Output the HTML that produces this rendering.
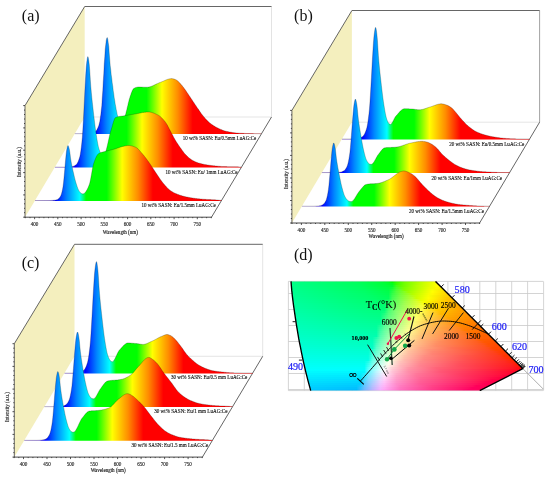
<!DOCTYPE html><html><head><meta charset="utf-8"><title>Figure</title><style>html,body{margin:0;padding:0;background:#fff}svg{display:block}.t{font-family:"Liberation Serif","Liberation Sans",serif}</style></head><body><svg width="550" height="477" viewBox="0 0 550 477"><defs><linearGradient id="ga3" gradientUnits="userSpaceOnUse" x1="74.8" y1="0" x2="261.2" y2="0"><stop offset="0.0000" stop-color="#af8cf5"/><stop offset="0.0750" stop-color="#8c64fa"/><stop offset="0.1100" stop-color="#0000ff"/><stop offset="0.1725" stop-color="#0087ff"/><stop offset="0.2400" stop-color="#00ffff"/><stop offset="0.2737" stop-color="#00ff00"/><stop offset="0.3850" stop-color="#00ff00"/><stop offset="0.4675" stop-color="#ffff00"/><stop offset="0.5525" stop-color="#ff8c00"/><stop offset="0.6325" stop-color="#ff0000"/><stop offset="1.0000" stop-color="#ff0000"/></linearGradient><linearGradient id="ga2" gradientUnits="userSpaceOnUse" x1="54.9" y1="0" x2="241.3" y2="0"><stop offset="0.0000" stop-color="#af8cf5"/><stop offset="0.0750" stop-color="#8c64fa"/><stop offset="0.1100" stop-color="#0000ff"/><stop offset="0.1725" stop-color="#0087ff"/><stop offset="0.2400" stop-color="#00ffff"/><stop offset="0.2737" stop-color="#00ff00"/><stop offset="0.3850" stop-color="#00ff00"/><stop offset="0.4675" stop-color="#ffff00"/><stop offset="0.5525" stop-color="#ff8c00"/><stop offset="0.6325" stop-color="#ff0000"/><stop offset="1.0000" stop-color="#ff0000"/></linearGradient><linearGradient id="ga1" gradientUnits="userSpaceOnUse" x1="35" y1="0" x2="221.4" y2="0"><stop offset="0.0000" stop-color="#af8cf5"/><stop offset="0.0750" stop-color="#8c64fa"/><stop offset="0.1100" stop-color="#0000ff"/><stop offset="0.1725" stop-color="#0087ff"/><stop offset="0.2400" stop-color="#00ffff"/><stop offset="0.2737" stop-color="#00ff00"/><stop offset="0.3850" stop-color="#00ff00"/><stop offset="0.4675" stop-color="#ffff00"/><stop offset="0.5525" stop-color="#ff8c00"/><stop offset="0.6325" stop-color="#ff0000"/><stop offset="1.0000" stop-color="#ff0000"/></linearGradient><linearGradient id="gb3" gradientUnits="userSpaceOnUse" x1="341.9" y1="0" x2="529.6" y2="0"><stop offset="0.0000" stop-color="#af8cf5"/><stop offset="0.0750" stop-color="#8c64fa"/><stop offset="0.1100" stop-color="#0000ff"/><stop offset="0.1725" stop-color="#0087ff"/><stop offset="0.2400" stop-color="#00ffff"/><stop offset="0.2737" stop-color="#00ff00"/><stop offset="0.3850" stop-color="#00ff00"/><stop offset="0.4675" stop-color="#ffff00"/><stop offset="0.5525" stop-color="#ff8c00"/><stop offset="0.6325" stop-color="#ff0000"/><stop offset="1.0000" stop-color="#ff0000"/></linearGradient><linearGradient id="gb2" gradientUnits="userSpaceOnUse" x1="321.9" y1="0" x2="509.6" y2="0"><stop offset="0.0000" stop-color="#af8cf5"/><stop offset="0.0750" stop-color="#8c64fa"/><stop offset="0.1100" stop-color="#0000ff"/><stop offset="0.1725" stop-color="#0087ff"/><stop offset="0.2400" stop-color="#00ffff"/><stop offset="0.2737" stop-color="#00ff00"/><stop offset="0.3850" stop-color="#00ff00"/><stop offset="0.4675" stop-color="#ffff00"/><stop offset="0.5525" stop-color="#ff8c00"/><stop offset="0.6325" stop-color="#ff0000"/><stop offset="1.0000" stop-color="#ff0000"/></linearGradient><linearGradient id="gb1" gradientUnits="userSpaceOnUse" x1="301.9" y1="0" x2="489.6" y2="0"><stop offset="0.0000" stop-color="#af8cf5"/><stop offset="0.0750" stop-color="#8c64fa"/><stop offset="0.1100" stop-color="#0000ff"/><stop offset="0.1725" stop-color="#0087ff"/><stop offset="0.2400" stop-color="#00ffff"/><stop offset="0.2737" stop-color="#00ff00"/><stop offset="0.3850" stop-color="#00ff00"/><stop offset="0.4675" stop-color="#ffff00"/><stop offset="0.5525" stop-color="#ff8c00"/><stop offset="0.6325" stop-color="#ff0000"/><stop offset="1.0000" stop-color="#ff0000"/></linearGradient><linearGradient id="gc3" gradientUnits="userSpaceOnUse" x1="64.5" y1="0" x2="252.6" y2="0"><stop offset="0.0000" stop-color="#af8cf5"/><stop offset="0.0750" stop-color="#8c64fa"/><stop offset="0.1100" stop-color="#0000ff"/><stop offset="0.1725" stop-color="#0087ff"/><stop offset="0.2400" stop-color="#00ffff"/><stop offset="0.2737" stop-color="#00ff00"/><stop offset="0.3850" stop-color="#00ff00"/><stop offset="0.4675" stop-color="#ffff00"/><stop offset="0.5525" stop-color="#ff8c00"/><stop offset="0.6325" stop-color="#ff0000"/><stop offset="1.0000" stop-color="#ff0000"/></linearGradient><linearGradient id="gc2" gradientUnits="userSpaceOnUse" x1="44.4" y1="0" x2="232.5" y2="0"><stop offset="0.0000" stop-color="#af8cf5"/><stop offset="0.0750" stop-color="#8c64fa"/><stop offset="0.1100" stop-color="#0000ff"/><stop offset="0.1725" stop-color="#0087ff"/><stop offset="0.2400" stop-color="#00ffff"/><stop offset="0.2737" stop-color="#00ff00"/><stop offset="0.3850" stop-color="#00ff00"/><stop offset="0.4675" stop-color="#ffff00"/><stop offset="0.5525" stop-color="#ff8c00"/><stop offset="0.6325" stop-color="#ff0000"/><stop offset="1.0000" stop-color="#ff0000"/></linearGradient><linearGradient id="gc1" gradientUnits="userSpaceOnUse" x1="24.3" y1="0" x2="212.4" y2="0"><stop offset="0.0000" stop-color="#af8cf5"/><stop offset="0.0750" stop-color="#8c64fa"/><stop offset="0.1100" stop-color="#0000ff"/><stop offset="0.1725" stop-color="#0087ff"/><stop offset="0.2400" stop-color="#00ffff"/><stop offset="0.2737" stop-color="#00ff00"/><stop offset="0.3850" stop-color="#00ff00"/><stop offset="0.4675" stop-color="#ffff00"/><stop offset="0.5525" stop-color="#ff8c00"/><stop offset="0.6325" stop-color="#ff0000"/><stop offset="1.0000" stop-color="#ff0000"/></linearGradient><clipPath id="gam"><path d="M291 281.4L291.4 286.1L291.8 290.9L292.3 295.6L292.9 300.4L293.5 305.1L294.2 309.9L294.9 314.6L295.6 319.4L296.3 324.1L297.1 328.9L297.9 333.6L298.7 338.4L299.6 343.1L300.6 347.9L301.5 352.6L302.5 357.4L303.5 362.1L304.6 366.9L305.7 371.6L306.9 376.4L308.1 381.1L309.4 385.9L310.7 390.6L479.8 390.6L522.8 368.6L522.4 368.2L521.9 367.7L521.3 367.1L520.7 366.6L520 365.8L519 364.9L517.8 363.6L516.2 362L514.2 360.1L511.9 357.7L509 354.8L505.4 351.2L500.8 346.6L495.2 341.1L488.4 334.3L480.7 326.6L471.9 317.8L462.2 308.1L451.9 297.8L441.1 287L435.5 281.4Z"/></clipPath><clipPath id="box"><rect x="287.4" y="280.9" width="256.9" height="110.2"/></clipPath><linearGradient id="c0" gradientUnits="userSpaceOnUse" x1="288.4" y1="0" x2="544.4" y2="0"><stop offset="0.000" stop-color="#00ff86"/><stop offset="0.266" stop-color="#00ff5c"/><stop offset="0.359" stop-color="#00ff3b"/><stop offset="0.391" stop-color="#00ff24"/><stop offset="0.406" stop-color="#00ff00"/><stop offset="0.422" stop-color="#30ff00"/><stop offset="0.453" stop-color="#6eff00"/><stop offset="0.531" stop-color="#cbff00"/><stop offset="0.578" stop-color="#f7ff00"/><stop offset="0.609" stop-color="#ffec00"/><stop offset="0.719" stop-color="#ffb100"/><stop offset="0.922" stop-color="#ff7800"/><stop offset="1.000" stop-color="#ff6a00"/></linearGradient><linearGradient id="c1" gradientUnits="userSpaceOnUse" x1="288.4" y1="0" x2="544.4" y2="0"><stop offset="0.000" stop-color="#00ff89"/><stop offset="0.281" stop-color="#00ff5c"/><stop offset="0.375" stop-color="#00ff39"/><stop offset="0.406" stop-color="#00ff1f"/><stop offset="0.422" stop-color="#38ff00"/><stop offset="0.453" stop-color="#72ff00"/><stop offset="0.531" stop-color="#cfff00"/><stop offset="0.578" stop-color="#fcff00"/><stop offset="0.688" stop-color="#ffbb00"/><stop offset="0.859" stop-color="#ff8400"/><stop offset="1.000" stop-color="#ff6800"/></linearGradient><linearGradient id="c2" gradientUnits="userSpaceOnUse" x1="288.4" y1="0" x2="544.4" y2="0"><stop offset="0.000" stop-color="#00ff8b"/><stop offset="0.281" stop-color="#00ff5f"/><stop offset="0.391" stop-color="#00ff37"/><stop offset="0.406" stop-color="#00ff2c"/><stop offset="0.422" stop-color="#3fff19"/><stop offset="0.438" stop-color="#5eff00"/><stop offset="0.500" stop-color="#b2ff00"/><stop offset="0.578" stop-color="#fffe00"/><stop offset="0.672" stop-color="#ffc000"/><stop offset="0.828" stop-color="#ff8900"/><stop offset="1.000" stop-color="#ff6700"/></linearGradient><linearGradient id="c3" gradientUnits="userSpaceOnUse" x1="288.4" y1="0" x2="544.4" y2="0"><stop offset="0.000" stop-color="#00ff8d"/><stop offset="0.281" stop-color="#00ff63"/><stop offset="0.391" stop-color="#00ff3f"/><stop offset="0.406" stop-color="#10ff36"/><stop offset="0.422" stop-color="#45ff29"/><stop offset="0.453" stop-color="#7cff00"/><stop offset="0.547" stop-color="#e7ff00"/><stop offset="0.578" stop-color="#fff900"/><stop offset="0.672" stop-color="#ffbd00"/><stop offset="0.844" stop-color="#ff8400"/><stop offset="1.000" stop-color="#ff6500"/></linearGradient><linearGradient id="c4" gradientUnits="userSpaceOnUse" x1="288.4" y1="0" x2="544.4" y2="0"><stop offset="0.000" stop-color="#00ff90"/><stop offset="0.297" stop-color="#00ff63"/><stop offset="0.391" stop-color="#00ff45"/><stop offset="0.406" stop-color="#1eff3d"/><stop offset="0.422" stop-color="#4bff33"/><stop offset="0.438" stop-color="#68ff26"/><stop offset="0.453" stop-color="#80ff00"/><stop offset="0.547" stop-color="#ebff00"/><stop offset="0.562" stop-color="#fbff00"/><stop offset="0.672" stop-color="#ffba00"/><stop offset="0.844" stop-color="#ff8200"/><stop offset="1.000" stop-color="#ff6300"/></linearGradient><linearGradient id="c5" gradientUnits="userSpaceOnUse" x1="288.4" y1="0" x2="544.4" y2="0"><stop offset="0.000" stop-color="#00ff92"/><stop offset="0.297" stop-color="#00ff67"/><stop offset="0.391" stop-color="#00ff4b"/><stop offset="0.422" stop-color="#51ff3c"/><stop offset="0.453" stop-color="#85ff21"/><stop offset="0.469" stop-color="#9aff00"/><stop offset="0.562" stop-color="#ffff00"/><stop offset="0.641" stop-color="#ffc600"/><stop offset="0.781" stop-color="#ff9000"/><stop offset="1.000" stop-color="#ff6100"/></linearGradient><linearGradient id="c6" gradientUnits="userSpaceOnUse" x1="288.4" y1="0" x2="544.4" y2="0"><stop offset="0.000" stop-color="#00ff94"/><stop offset="0.297" stop-color="#00ff6b"/><stop offset="0.391" stop-color="#00ff50"/><stop offset="0.406" stop-color="#32ff4a"/><stop offset="0.438" stop-color="#72ff3a"/><stop offset="0.469" stop-color="#9eff1b"/><stop offset="0.484" stop-color="#b1ff00"/><stop offset="0.547" stop-color="#f5ff00"/><stop offset="0.562" stop-color="#fffa00"/><stop offset="0.641" stop-color="#ffc300"/><stop offset="0.797" stop-color="#ff8900"/><stop offset="1.000" stop-color="#ff6000"/></linearGradient><linearGradient id="c7" gradientUnits="userSpaceOnUse" x1="288.4" y1="0" x2="544.4" y2="0"><stop offset="0.000" stop-color="#00ff96"/><stop offset="0.312" stop-color="#00ff6b"/><stop offset="0.391" stop-color="#00ff55"/><stop offset="0.406" stop-color="#3aff50"/><stop offset="0.438" stop-color="#77ff41"/><stop offset="0.469" stop-color="#a3ff2b"/><stop offset="0.500" stop-color="#c8ff00"/><stop offset="0.547" stop-color="#f9ff00"/><stop offset="0.656" stop-color="#ffb800"/><stop offset="0.828" stop-color="#ff7f00"/><stop offset="1.000" stop-color="#ff5e00"/></linearGradient><linearGradient id="c8" gradientUnits="userSpaceOnUse" x1="288.4" y1="0" x2="544.4" y2="0"><stop offset="0.000" stop-color="#00ff99"/><stop offset="0.312" stop-color="#00ff6e"/><stop offset="0.391" stop-color="#00ff5a"/><stop offset="0.406" stop-color="#41ff55"/><stop offset="0.438" stop-color="#7cff48"/><stop offset="0.484" stop-color="#baff28"/><stop offset="0.500" stop-color="#ccff00"/><stop offset="0.547" stop-color="#feff00"/><stop offset="0.625" stop-color="#ffc500"/><stop offset="0.766" stop-color="#ff8d00"/><stop offset="1.000" stop-color="#ff5c00"/></linearGradient><linearGradient id="c9" gradientUnits="userSpaceOnUse" x1="288.4" y1="0" x2="544.4" y2="0"><stop offset="0.000" stop-color="#00ff9b"/><stop offset="0.312" stop-color="#00ff72"/><stop offset="0.375" stop-color="#00ff63"/><stop offset="0.391" stop-color="#0eff5f"/><stop offset="0.406" stop-color="#48ff5a"/><stop offset="0.438" stop-color="#81ff4e"/><stop offset="0.484" stop-color="#bfff34"/><stop offset="0.500" stop-color="#d1ff23"/><stop offset="0.516" stop-color="#e2ff00"/><stop offset="0.547" stop-color="#fffb00"/><stop offset="0.625" stop-color="#ffc200"/><stop offset="0.766" stop-color="#ff8b00"/><stop offset="1.000" stop-color="#ff5a00"/></linearGradient><linearGradient id="c10" gradientUnits="userSpaceOnUse" x1="288.4" y1="0" x2="544.4" y2="0"><stop offset="0.000" stop-color="#00ff9d"/><stop offset="0.328" stop-color="#00ff72"/><stop offset="0.375" stop-color="#00ff68"/><stop offset="0.391" stop-color="#1fff63"/><stop offset="0.406" stop-color="#4eff5f"/><stop offset="0.453" stop-color="#9cff4e"/><stop offset="0.500" stop-color="#d6ff31"/><stop offset="0.531" stop-color="#f8ff00"/><stop offset="0.578" stop-color="#ffdc00"/><stop offset="0.688" stop-color="#ffa200"/><stop offset="0.891" stop-color="#ff6b00"/><stop offset="1.000" stop-color="#ff5900"/></linearGradient><linearGradient id="c11" gradientUnits="userSpaceOnUse" x1="288.4" y1="0" x2="544.4" y2="0"><stop offset="0.000" stop-color="#00ffa0"/><stop offset="0.328" stop-color="#00ff76"/><stop offset="0.375" stop-color="#00ff6c"/><stop offset="0.406" stop-color="#55ff63"/><stop offset="0.453" stop-color="#a1ff53"/><stop offset="0.516" stop-color="#ecff2e"/><stop offset="0.531" stop-color="#fdff14"/><stop offset="0.547" stop-color="#fff200"/><stop offset="0.625" stop-color="#ffbb00"/><stop offset="0.781" stop-color="#ff8200"/><stop offset="1.000" stop-color="#ff5700"/></linearGradient><linearGradient id="c12" gradientUnits="userSpaceOnUse" x1="288.4" y1="0" x2="544.4" y2="0"><stop offset="0.000" stop-color="#00ffa2"/><stop offset="0.344" stop-color="#00ff77"/><stop offset="0.375" stop-color="#00ff70"/><stop offset="0.391" stop-color="#33ff6c"/><stop offset="0.406" stop-color="#5bff68"/><stop offset="0.453" stop-color="#a6ff59"/><stop offset="0.516" stop-color="#f1ff39"/><stop offset="0.531" stop-color="#fffc2a"/><stop offset="0.547" stop-color="#ffed00"/><stop offset="0.641" stop-color="#ffb000"/><stop offset="0.812" stop-color="#ff7800"/><stop offset="1.000" stop-color="#ff5500"/></linearGradient><linearGradient id="c13" gradientUnits="userSpaceOnUse" x1="288.4" y1="0" x2="544.4" y2="0"><stop offset="0.000" stop-color="#00ffa4"/><stop offset="0.344" stop-color="#00ff7a"/><stop offset="0.375" stop-color="#00ff74"/><stop offset="0.391" stop-color="#3cff70"/><stop offset="0.422" stop-color="#7dff68"/><stop offset="0.500" stop-color="#e5ff4b"/><stop offset="0.531" stop-color="#fff735"/><stop offset="0.547" stop-color="#ffe823"/><stop offset="0.562" stop-color="#ffdb00"/><stop offset="0.672" stop-color="#ffa000"/><stop offset="0.875" stop-color="#ff6800"/><stop offset="1.000" stop-color="#ff5300"/></linearGradient><linearGradient id="c14" gradientUnits="userSpaceOnUse" x1="288.4" y1="0" x2="544.4" y2="0"><stop offset="0.000" stop-color="#00ffa7"/><stop offset="0.344" stop-color="#00ff7e"/><stop offset="0.375" stop-color="#00ff78"/><stop offset="0.391" stop-color="#43ff74"/><stop offset="0.422" stop-color="#82ff6d"/><stop offset="0.500" stop-color="#eaff52"/><stop offset="0.516" stop-color="#fcff4a"/><stop offset="0.562" stop-color="#ffd71c"/><stop offset="0.578" stop-color="#ffcc00"/><stop offset="0.703" stop-color="#ff9200"/><stop offset="0.938" stop-color="#ff5b00"/><stop offset="1.000" stop-color="#ff5100"/></linearGradient><linearGradient id="c15" gradientUnits="userSpaceOnUse" x1="288.4" y1="0" x2="544.4" y2="0"><stop offset="0.000" stop-color="#00ffa9"/><stop offset="0.359" stop-color="#00ff7f"/><stop offset="0.375" stop-color="#0cff7c"/><stop offset="0.391" stop-color="#4bff78"/><stop offset="0.422" stop-color="#88ff71"/><stop offset="0.500" stop-color="#efff58"/><stop offset="0.516" stop-color="#fffd51"/><stop offset="0.562" stop-color="#ffd32a"/><stop offset="0.594" stop-color="#ffbf00"/><stop offset="0.734" stop-color="#ff8600"/><stop offset="1.000" stop-color="#ff4f00"/></linearGradient><linearGradient id="c16" gradientUnits="userSpaceOnUse" x1="288.4" y1="0" x2="544.4" y2="0"><stop offset="0.000" stop-color="#00ffac"/><stop offset="0.359" stop-color="#00ff83"/><stop offset="0.375" stop-color="#1fff80"/><stop offset="0.391" stop-color="#52ff7c"/><stop offset="0.438" stop-color="#a5ff72"/><stop offset="0.500" stop-color="#f4ff5e"/><stop offset="0.516" stop-color="#fff856"/><stop offset="0.578" stop-color="#ffc525"/><stop offset="0.594" stop-color="#ffbb00"/><stop offset="0.734" stop-color="#ff8300"/><stop offset="1.000" stop-color="#ff4d00"/></linearGradient><linearGradient id="c17" gradientUnits="userSpaceOnUse" x1="288.4" y1="0" x2="544.4" y2="0"><stop offset="0.000" stop-color="#00ffae"/><stop offset="0.359" stop-color="#00ff86"/><stop offset="0.391" stop-color="#58ff80"/><stop offset="0.438" stop-color="#aaff76"/><stop offset="0.500" stop-color="#faff64"/><stop offset="0.594" stop-color="#ffb81f"/><stop offset="0.609" stop-color="#ffb000"/><stop offset="0.766" stop-color="#ff7800"/><stop offset="1.000" stop-color="#ff4b00"/></linearGradient><linearGradient id="c18" gradientUnits="userSpaceOnUse" x1="288.4" y1="0" x2="544.4" y2="0"><stop offset="0.000" stop-color="#00ffb1"/><stop offset="0.359" stop-color="#00ff8a"/><stop offset="0.375" stop-color="#35ff87"/><stop offset="0.391" stop-color="#5fff84"/><stop offset="0.438" stop-color="#afff7a"/><stop offset="0.500" stop-color="#fffe69"/><stop offset="0.562" stop-color="#ffc741"/><stop offset="0.609" stop-color="#ffac19"/><stop offset="0.625" stop-color="#ffa500"/><stop offset="0.797" stop-color="#ff6e00"/><stop offset="1.000" stop-color="#ff4900"/></linearGradient><linearGradient id="c19" gradientUnits="userSpaceOnUse" x1="288.4" y1="0" x2="544.4" y2="0"><stop offset="0.000" stop-color="#00ffb3"/><stop offset="0.359" stop-color="#00ff8e"/><stop offset="0.375" stop-color="#3eff8b"/><stop offset="0.406" stop-color="#84ff85"/><stop offset="0.484" stop-color="#f3ff73"/><stop offset="0.500" stop-color="#fff96c"/><stop offset="0.562" stop-color="#ffc346"/><stop offset="0.609" stop-color="#ffa926"/><stop offset="0.641" stop-color="#ff9b00"/><stop offset="0.828" stop-color="#ff6500"/><stop offset="1.000" stop-color="#ff4700"/></linearGradient><linearGradient id="c20" gradientUnits="userSpaceOnUse" x1="288.4" y1="0" x2="544.4" y2="0"><stop offset="0.000" stop-color="#00ffb6"/><stop offset="0.359" stop-color="#00ff92"/><stop offset="0.375" stop-color="#46ff8f"/><stop offset="0.406" stop-color="#89ff8a"/><stop offset="0.484" stop-color="#f8ff78"/><stop offset="0.531" stop-color="#ffd65c"/><stop offset="0.625" stop-color="#ff9f22"/><stop offset="0.641" stop-color="#ff9800"/><stop offset="0.844" stop-color="#ff6000"/><stop offset="1.000" stop-color="#ff4500"/></linearGradient><linearGradient id="c21" gradientUnits="userSpaceOnUse" x1="288.4" y1="0" x2="544.4" y2="0"><stop offset="0.000" stop-color="#00ffb8"/><stop offset="0.344" stop-color="#00ff98"/><stop offset="0.359" stop-color="#08ff95"/><stop offset="0.375" stop-color="#4eff93"/><stop offset="0.406" stop-color="#8fff8e"/><stop offset="0.484" stop-color="#feff7d"/><stop offset="0.547" stop-color="#ffc657"/><stop offset="0.641" stop-color="#ff951d"/><stop offset="0.656" stop-color="#ff8f00"/><stop offset="0.875" stop-color="#ff5800"/><stop offset="1.000" stop-color="#ff4300"/></linearGradient><linearGradient id="c22" gradientUnits="userSpaceOnUse" x1="288.4" y1="0" x2="544.4" y2="0"><stop offset="0.000" stop-color="#00ffbb"/><stop offset="0.344" stop-color="#00ff9b"/><stop offset="0.359" stop-color="#1fff99"/><stop offset="0.375" stop-color="#56ff97"/><stop offset="0.406" stop-color="#95ff92"/><stop offset="0.469" stop-color="#f0ff86"/><stop offset="0.484" stop-color="#fffa80"/><stop offset="0.547" stop-color="#ffc25b"/><stop offset="0.641" stop-color="#ff9227"/><stop offset="0.672" stop-color="#ff8700"/><stop offset="0.906" stop-color="#ff5000"/><stop offset="1.000" stop-color="#ff4100"/></linearGradient><linearGradient id="c23" gradientUnits="userSpaceOnUse" x1="288.4" y1="0" x2="544.4" y2="0"><stop offset="0.000" stop-color="#00ffbd"/><stop offset="0.344" stop-color="#00ff9f"/><stop offset="0.375" stop-color="#5dff9b"/><stop offset="0.422" stop-color="#b4ff93"/><stop offset="0.469" stop-color="#f6ff8a"/><stop offset="0.500" stop-color="#ffe378"/><stop offset="0.578" stop-color="#ffab4e"/><stop offset="0.656" stop-color="#ff8923"/><stop offset="0.688" stop-color="#ff7f00"/><stop offset="0.953" stop-color="#ff4600"/><stop offset="1.000" stop-color="#ff3f00"/></linearGradient><linearGradient id="c24" gradientUnits="userSpaceOnUse" x1="288.4" y1="0" x2="544.4" y2="0"><stop offset="0.000" stop-color="#00ffc0"/><stop offset="0.344" stop-color="#00ffa3"/><stop offset="0.359" stop-color="#37ffa1"/><stop offset="0.375" stop-color="#64ff9f"/><stop offset="0.422" stop-color="#baff98"/><stop offset="0.469" stop-color="#fdff8f"/><stop offset="0.531" stop-color="#ffc469"/><stop offset="0.641" stop-color="#ff8c34"/><stop offset="0.672" stop-color="#ff811f"/><stop offset="0.688" stop-color="#ff7c00"/><stop offset="0.969" stop-color="#ff4100"/><stop offset="1.000" stop-color="#ff3c00"/></linearGradient><linearGradient id="c25" gradientUnits="userSpaceOnUse" x1="288.4" y1="0" x2="544.4" y2="0"><stop offset="0.000" stop-color="#00ffc3"/><stop offset="0.344" stop-color="#00ffa7"/><stop offset="0.359" stop-color="#41ffa5"/><stop offset="0.375" stop-color="#6bffa3"/><stop offset="0.422" stop-color="#c0ff9c"/><stop offset="0.469" stop-color="#fffb92"/><stop offset="0.531" stop-color="#ffc06b"/><stop offset="0.641" stop-color="#ff8939"/><stop offset="0.688" stop-color="#ff791b"/><stop offset="0.703" stop-color="#ff7500"/><stop offset="1.000" stop-color="#ff3a00"/></linearGradient><linearGradient id="c26" gradientUnits="userSpaceOnUse" x1="288.4" y1="0" x2="544.4" y2="0"><stop offset="0.000" stop-color="#00ffc5"/><stop offset="0.344" stop-color="#00ffab"/><stop offset="0.359" stop-color="#4affa9"/><stop offset="0.391" stop-color="#92ffa5"/><stop offset="0.453" stop-color="#f4ff9b"/><stop offset="0.469" stop-color="#fff594"/><stop offset="0.531" stop-color="#ffbb6e"/><stop offset="0.641" stop-color="#ff863d"/><stop offset="0.703" stop-color="#ff7217"/><stop offset="0.719" stop-color="#ff6e00"/><stop offset="1.000" stop-color="#ff3800"/></linearGradient><linearGradient id="c27" gradientUnits="userSpaceOnUse" x1="288.4" y1="0" x2="544.4" y2="0"><stop offset="0.000" stop-color="#00ffc8"/><stop offset="0.344" stop-color="#00ffaf"/><stop offset="0.359" stop-color="#53ffad"/><stop offset="0.391" stop-color="#98ffa9"/><stop offset="0.453" stop-color="#fbffa0"/><stop offset="0.516" stop-color="#ffc278"/><stop offset="0.625" stop-color="#ff8947"/><stop offset="0.703" stop-color="#ff7021"/><stop offset="0.734" stop-color="#ff6700"/><stop offset="1.000" stop-color="#ff3500"/></linearGradient><linearGradient id="c28" gradientUnits="userSpaceOnUse" x1="288.4" y1="0" x2="544.4" y2="0"><stop offset="0.000" stop-color="#00ffcb"/><stop offset="0.328" stop-color="#00ffb4"/><stop offset="0.344" stop-color="#1fffb3"/><stop offset="0.359" stop-color="#5bffb1"/><stop offset="0.391" stop-color="#9fffad"/><stop offset="0.453" stop-color="#fffca3"/><stop offset="0.516" stop-color="#ffbe7a"/><stop offset="0.625" stop-color="#ff864b"/><stop offset="0.719" stop-color="#ff691e"/><stop offset="0.734" stop-color="#ff6504"/><stop offset="1.000" stop-color="#ff3300"/></linearGradient><linearGradient id="c29" gradientUnits="userSpaceOnUse" x1="288.4" y1="0" x2="544.4" y2="0"><stop offset="0.000" stop-color="#00ffce"/><stop offset="0.328" stop-color="#00ffb8"/><stop offset="0.359" stop-color="#63ffb5"/><stop offset="0.391" stop-color="#a6ffb1"/><stop offset="0.438" stop-color="#f2ffab"/><stop offset="0.453" stop-color="#fff6a4"/><stop offset="0.516" stop-color="#ffb97c"/><stop offset="0.625" stop-color="#ff824e"/><stop offset="0.719" stop-color="#ff6625"/><stop offset="0.734" stop-color="#ff621a"/><stop offset="0.750" stop-color="#ff5e00"/><stop offset="1.000" stop-color="#ff3000"/></linearGradient><linearGradient id="c30" gradientUnits="userSpaceOnUse" x1="288.4" y1="0" x2="544.4" y2="0"><stop offset="0.000" stop-color="#00ffd1"/><stop offset="0.328" stop-color="#00ffbc"/><stop offset="0.359" stop-color="#6bffb9"/><stop offset="0.406" stop-color="#c8ffb4"/><stop offset="0.438" stop-color="#f9ffb0"/><stop offset="0.500" stop-color="#ffc086"/><stop offset="0.594" stop-color="#ff8b5c"/><stop offset="0.734" stop-color="#ff5f22"/><stop offset="0.766" stop-color="#ff5800"/><stop offset="1.000" stop-color="#ff2e00"/></linearGradient><linearGradient id="c31" gradientUnits="userSpaceOnUse" x1="288.4" y1="0" x2="544.4" y2="0"><stop offset="0.000" stop-color="#00ffd3"/><stop offset="0.328" stop-color="#00ffc0"/><stop offset="0.344" stop-color="#44ffbf"/><stop offset="0.359" stop-color="#72ffbd"/><stop offset="0.406" stop-color="#cfffb9"/><stop offset="0.438" stop-color="#fffeb4"/><stop offset="0.484" stop-color="#ffc891"/><stop offset="0.578" stop-color="#ff8f64"/><stop offset="0.750" stop-color="#ff591f"/><stop offset="0.781" stop-color="#ff5200"/><stop offset="1.000" stop-color="#ff2b00"/></linearGradient><linearGradient id="c32" gradientUnits="userSpaceOnUse" x1="288.4" y1="0" x2="544.4" y2="0"><stop offset="0.000" stop-color="#00ffd6"/><stop offset="0.328" stop-color="#00ffc4"/><stop offset="0.344" stop-color="#4effc3"/><stop offset="0.375" stop-color="#9cffc0"/><stop offset="0.422" stop-color="#efffbc"/><stop offset="0.438" stop-color="#fff7b5"/><stop offset="0.484" stop-color="#ffc392"/><stop offset="0.578" stop-color="#ff8b66"/><stop offset="0.750" stop-color="#ff5626"/><stop offset="0.766" stop-color="#ff531c"/><stop offset="0.781" stop-color="#ff5007"/><stop offset="0.828" stop-color="#ff4600"/><stop offset="1.000" stop-color="#ff2800"/></linearGradient><linearGradient id="c33" gradientUnits="userSpaceOnUse" x1="288.4" y1="0" x2="544.4" y2="0"><stop offset="0.000" stop-color="#00ffd9"/><stop offset="0.328" stop-color="#00ffc9"/><stop offset="0.344" stop-color="#58ffc8"/><stop offset="0.375" stop-color="#a4ffc5"/><stop offset="0.422" stop-color="#f7ffc0"/><stop offset="0.453" stop-color="#ffdca9"/><stop offset="0.516" stop-color="#ffa883"/><stop offset="0.641" stop-color="#ff7152"/><stop offset="0.766" stop-color="#ff5023"/><stop offset="0.781" stop-color="#ff4d19"/><stop offset="0.797" stop-color="#ff4a00"/><stop offset="1.000" stop-color="#ff2500"/></linearGradient><linearGradient id="c34" gradientUnits="userSpaceOnUse" x1="288.4" y1="0" x2="544.4" y2="0"><stop offset="0.000" stop-color="#00ffdd"/><stop offset="0.312" stop-color="#00ffce"/><stop offset="0.328" stop-color="#1fffcd"/><stop offset="0.344" stop-color="#61ffcc"/><stop offset="0.375" stop-color="#abffca"/><stop offset="0.422" stop-color="#ffffc5"/><stop offset="0.469" stop-color="#ffc69f"/><stop offset="0.547" stop-color="#ff9277"/><stop offset="0.703" stop-color="#ff5c40"/><stop offset="0.781" stop-color="#ff4a21"/><stop offset="0.812" stop-color="#ff4400"/><stop offset="1.000" stop-color="#ff2200"/></linearGradient><linearGradient id="c35" gradientUnits="userSpaceOnUse" x1="288.4" y1="0" x2="544.4" y2="0"><stop offset="0.000" stop-color="#00ffe0"/><stop offset="0.312" stop-color="#00ffd3"/><stop offset="0.328" stop-color="#30ffd2"/><stop offset="0.344" stop-color="#6affd1"/><stop offset="0.375" stop-color="#b3ffce"/><stop offset="0.406" stop-color="#ecffcc"/><stop offset="0.422" stop-color="#fff8c6"/><stop offset="0.469" stop-color="#ffc1a0"/><stop offset="0.562" stop-color="#ff8772"/><stop offset="0.750" stop-color="#ff4e33"/><stop offset="0.797" stop-color="#ff441e"/><stop offset="0.828" stop-color="#ff3e00"/><stop offset="1.000" stop-color="#ff1e00"/></linearGradient><linearGradient id="c36" gradientUnits="userSpaceOnUse" x1="288.4" y1="0" x2="544.4" y2="0"><stop offset="0.000" stop-color="#00ffe3"/><stop offset="0.312" stop-color="#00ffd7"/><stop offset="0.344" stop-color="#72ffd5"/><stop offset="0.391" stop-color="#d8ffd2"/><stop offset="0.406" stop-color="#f4ffd1"/><stop offset="0.422" stop-color="#fff0c6"/><stop offset="0.469" stop-color="#ffbca1"/><stop offset="0.562" stop-color="#ff8374"/><stop offset="0.750" stop-color="#ff4b37"/><stop offset="0.812" stop-color="#ff3e1b"/><stop offset="0.828" stop-color="#ff3b08"/><stop offset="0.859" stop-color="#ff3500"/><stop offset="1.000" stop-color="#ff1a00"/></linearGradient><linearGradient id="c37" gradientUnits="userSpaceOnUse" x1="288.4" y1="0" x2="544.4" y2="0"><stop offset="0.000" stop-color="#00ffe6"/><stop offset="0.312" stop-color="#00ffdc"/><stop offset="0.328" stop-color="#49ffdb"/><stop offset="0.344" stop-color="#7bffda"/><stop offset="0.391" stop-color="#e0ffd7"/><stop offset="0.406" stop-color="#fcffd6"/><stop offset="0.453" stop-color="#ffc4ac"/><stop offset="0.531" stop-color="#ff8e82"/><stop offset="0.688" stop-color="#ff574d"/><stop offset="0.812" stop-color="#ff3b22"/><stop offset="0.828" stop-color="#ff3818"/><stop offset="0.844" stop-color="#ff3500"/><stop offset="1.000" stop-color="#ff1500"/></linearGradient><linearGradient id="c38" gradientUnits="userSpaceOnUse" x1="288.4" y1="0" x2="544.4" y2="0"><stop offset="0.000" stop-color="#00ffe9"/><stop offset="0.312" stop-color="#00ffe0"/><stop offset="0.328" stop-color="#54ffe0"/><stop offset="0.344" stop-color="#84ffdf"/><stop offset="0.391" stop-color="#e9ffdd"/><stop offset="0.406" stop-color="#fff9d8"/><stop offset="0.453" stop-color="#ffbfad"/><stop offset="0.531" stop-color="#ff8a83"/><stop offset="0.688" stop-color="#ff544f"/><stop offset="0.828" stop-color="#ff351f"/><stop offset="0.859" stop-color="#ff2f00"/><stop offset="1.000" stop-color="#ff1000"/></linearGradient><linearGradient id="c39" gradientUnits="userSpaceOnUse" x1="288.4" y1="0" x2="544.4" y2="0"><stop offset="0.000" stop-color="#00ffed"/><stop offset="0.312" stop-color="#00ffe5"/><stop offset="0.328" stop-color="#5effe5"/><stop offset="0.359" stop-color="#b2ffe3"/><stop offset="0.391" stop-color="#f1ffe2"/><stop offset="0.406" stop-color="#fff1d8"/><stop offset="0.453" stop-color="#ffb9ae"/><stop offset="0.531" stop-color="#ff8684"/><stop offset="0.703" stop-color="#ff4d4d"/><stop offset="0.844" stop-color="#ff2f1d"/><stop offset="0.875" stop-color="#ff2800"/><stop offset="1.000" stop-color="#ff0800"/></linearGradient><linearGradient id="c40" gradientUnits="userSpaceOnUse" x1="288.4" y1="0" x2="544.4" y2="0"><stop offset="0.000" stop-color="#00fff0"/><stop offset="0.297" stop-color="#00ffeb"/><stop offset="0.312" stop-color="#20ffea"/><stop offset="0.328" stop-color="#68ffea"/><stop offset="0.359" stop-color="#baffe9"/><stop offset="0.391" stop-color="#faffe8"/><stop offset="0.438" stop-color="#ffc2ba"/><stop offset="0.516" stop-color="#ff8a8c"/><stop offset="0.672" stop-color="#ff5258"/><stop offset="0.844" stop-color="#ff2b23"/><stop offset="0.891" stop-color="#ff2100"/><stop offset="1.000" stop-color="#ff0000"/></linearGradient><linearGradient id="c41" gradientUnits="userSpaceOnUse" x1="288.4" y1="0" x2="544.4" y2="0"><stop offset="0.000" stop-color="#00fff4"/><stop offset="0.297" stop-color="#00fff0"/><stop offset="0.312" stop-color="#32ffef"/><stop offset="0.328" stop-color="#72ffef"/><stop offset="0.359" stop-color="#c3ffee"/><stop offset="0.391" stop-color="#fffbeb"/><stop offset="0.438" stop-color="#ffbcbb"/><stop offset="0.516" stop-color="#ff858e"/><stop offset="0.672" stop-color="#ff4e59"/><stop offset="0.859" stop-color="#ff2420"/><stop offset="0.875" stop-color="#ff2117"/><stop offset="0.891" stop-color="#ff1d00"/><stop offset="0.984" stop-color="#ff0000"/><stop offset="1.000" stop-color="#ff0000"/></linearGradient><linearGradient id="c42" gradientUnits="userSpaceOnUse" x1="288.4" y1="0" x2="544.4" y2="0"><stop offset="0.000" stop-color="#00fff7"/><stop offset="0.297" stop-color="#00fff5"/><stop offset="0.328" stop-color="#7cfff5"/><stop offset="0.359" stop-color="#ccfff4"/><stop offset="0.375" stop-color="#eefff4"/><stop offset="0.391" stop-color="#fff2ea"/><stop offset="0.438" stop-color="#ffb6bb"/><stop offset="0.516" stop-color="#ff818f"/><stop offset="0.672" stop-color="#ff4b5b"/><stop offset="0.875" stop-color="#ff1c1e"/><stop offset="0.906" stop-color="#ff1400"/><stop offset="0.969" stop-color="#ff0000"/><stop offset="1.000" stop-color="#ff0000"/></linearGradient><linearGradient id="c43" gradientUnits="userSpaceOnUse" x1="288.4" y1="0" x2="544.4" y2="0"><stop offset="0.000" stop-color="#00fffb"/><stop offset="0.297" stop-color="#00fffa"/><stop offset="0.312" stop-color="#4ffffa"/><stop offset="0.328" stop-color="#86fffa"/><stop offset="0.375" stop-color="#f7fffa"/><stop offset="0.406" stop-color="#ffd2d7"/><stop offset="0.469" stop-color="#ff97a7"/><stop offset="0.578" stop-color="#ff6378"/><stop offset="0.875" stop-color="#ff1723"/><stop offset="0.922" stop-color="#ff0300"/><stop offset="1.000" stop-color="#ff0000"/></linearGradient><linearGradient id="c44" gradientUnits="userSpaceOnUse" x1="288.4" y1="0" x2="544.4" y2="0"><stop offset="0.000" stop-color="#00ffff"/><stop offset="0.297" stop-color="#00feff"/><stop offset="0.312" stop-color="#5afdff"/><stop offset="0.328" stop-color="#8ffdff"/><stop offset="0.375" stop-color="#fffdff"/><stop offset="0.406" stop-color="#ffcad7"/><stop offset="0.469" stop-color="#ff92a8"/><stop offset="0.594" stop-color="#ff5a75"/><stop offset="0.891" stop-color="#ff0a21"/><stop offset="0.906" stop-color="#ff0019"/><stop offset="0.938" stop-color="#ff0000"/><stop offset="1.000" stop-color="#ff0000"/></linearGradient><linearGradient id="c45" gradientUnits="userSpaceOnUse" x1="288.4" y1="0" x2="544.4" y2="0"><stop offset="0.000" stop-color="#00faff"/><stop offset="0.297" stop-color="#00f6ff"/><stop offset="0.312" stop-color="#63f6ff"/><stop offset="0.344" stop-color="#bdf5ff"/><stop offset="0.375" stop-color="#fff3fd"/><stop offset="0.406" stop-color="#ffc3d7"/><stop offset="0.469" stop-color="#ff8da9"/><stop offset="0.594" stop-color="#ff5676"/><stop offset="0.875" stop-color="#ff072b"/><stop offset="0.922" stop-color="#ff0016"/><stop offset="0.938" stop-color="#ff0000"/><stop offset="1.000" stop-color="#ff0000"/></linearGradient><linearGradient id="c46" gradientUnits="userSpaceOnUse" x1="288.4" y1="0" x2="544.4" y2="0"><stop offset="0.000" stop-color="#00f5ff"/><stop offset="0.281" stop-color="#00efff"/><stop offset="0.297" stop-color="#1eefff"/><stop offset="0.312" stop-color="#6befff"/><stop offset="0.344" stop-color="#c0edff"/><stop offset="0.375" stop-color="#ffe9fc"/><stop offset="0.422" stop-color="#ffacc9"/><stop offset="0.500" stop-color="#ff779a"/><stop offset="0.672" stop-color="#ff3c61"/><stop offset="0.844" stop-color="#ff0d37"/><stop offset="0.875" stop-color="#ff002f"/><stop offset="0.938" stop-color="#ff0013"/><stop offset="0.953" stop-color="#ff0000"/><stop offset="1.000" stop-color="#ff0000"/></linearGradient><linearGradient id="c47" gradientUnits="userSpaceOnUse" x1="288.4" y1="0" x2="544.4" y2="0"><stop offset="0.000" stop-color="#00f0ff"/><stop offset="0.281" stop-color="#00e8ff"/><stop offset="0.297" stop-color="#31e8ff"/><stop offset="0.312" stop-color="#72e7ff"/><stop offset="0.344" stop-color="#c3e6ff"/><stop offset="0.375" stop-color="#ffe0fb"/><stop offset="0.422" stop-color="#ffa5c9"/><stop offset="0.500" stop-color="#ff739b"/><stop offset="0.688" stop-color="#ff345f"/><stop offset="0.828" stop-color="#ff0b3e"/><stop offset="0.844" stop-color="#ff003a"/><stop offset="0.938" stop-color="#ff001b"/><stop offset="0.969" stop-color="#ff0000"/><stop offset="1.000" stop-color="#ff0000"/></linearGradient><linearGradient id="c48" gradientUnits="userSpaceOnUse" x1="288.4" y1="0" x2="544.4" y2="0"><stop offset="0.000" stop-color="#00ebff"/><stop offset="0.281" stop-color="#00e2ff"/><stop offset="0.312" stop-color="#79e0ff"/><stop offset="0.344" stop-color="#c7deff"/><stop offset="0.375" stop-color="#ffd6fa"/><stop offset="0.422" stop-color="#ff9fc9"/><stop offset="0.516" stop-color="#ff6795"/><stop offset="0.734" stop-color="#ff2455"/><stop offset="0.828" stop-color="#ff0040"/><stop offset="0.953" stop-color="#ff0019"/><stop offset="0.984" stop-color="#ff0000"/><stop offset="1.000" stop-color="#ff0000"/></linearGradient><linearGradient id="c49" gradientUnits="userSpaceOnUse" x1="288.4" y1="0" x2="544.4" y2="0"><stop offset="0.000" stop-color="#00e7ff"/><stop offset="0.281" stop-color="#00dbff"/><stop offset="0.297" stop-color="#4adaff"/><stop offset="0.312" stop-color="#7fd9ff"/><stop offset="0.359" stop-color="#e9d5ff"/><stop offset="0.375" stop-color="#ffcdf9"/><stop offset="0.422" stop-color="#ff99c9"/><stop offset="0.516" stop-color="#ff6296"/><stop offset="0.734" stop-color="#ff1e57"/><stop offset="0.781" stop-color="#ff0d4c"/><stop offset="0.797" stop-color="#ff0049"/><stop offset="0.953" stop-color="#ff001e"/><stop offset="0.969" stop-color="#ff0016"/><stop offset="0.984" stop-color="#ff0000"/><stop offset="1.000" stop-color="#ff0000"/></linearGradient><linearGradient id="c50" gradientUnits="userSpaceOnUse" x1="288.4" y1="0" x2="544.4" y2="0"><stop offset="0.000" stop-color="#00e2ff"/><stop offset="0.281" stop-color="#00d4ff"/><stop offset="0.297" stop-color="#53d3ff"/><stop offset="0.312" stop-color="#84d2ff"/><stop offset="0.359" stop-color="#ebceff"/><stop offset="0.375" stop-color="#ffc5f8"/><stop offset="0.422" stop-color="#ff93c9"/><stop offset="0.516" stop-color="#ff5e96"/><stop offset="0.734" stop-color="#ff1858"/><stop offset="0.781" stop-color="#ff004e"/><stop offset="0.969" stop-color="#ff001c"/><stop offset="1.000" stop-color="#ff0000"/></linearGradient><linearGradient id="c51" gradientUnits="userSpaceOnUse" x1="288.4" y1="0" x2="544.4" y2="0"><stop offset="0.000" stop-color="#00ddff"/><stop offset="0.281" stop-color="#00cdff"/><stop offset="0.297" stop-color="#5bccff"/><stop offset="0.328" stop-color="#afc9ff"/><stop offset="0.359" stop-color="#edc6ff"/><stop offset="0.375" stop-color="#ffbcf7"/><stop offset="0.422" stop-color="#ff8cca"/><stop offset="0.516" stop-color="#ff5997"/><stop offset="0.734" stop-color="#ff105a"/><stop offset="0.766" stop-color="#ff0053"/><stop offset="0.969" stop-color="#ff0021"/><stop offset="1.000" stop-color="#ff000f"/></linearGradient><linearGradient id="c52" gradientUnits="userSpaceOnUse" x1="288.4" y1="0" x2="544.4" y2="0"><stop offset="0.000" stop-color="#00d8ff"/><stop offset="0.266" stop-color="#00c8ff"/><stop offset="0.281" stop-color="#19c6ff"/><stop offset="0.297" stop-color="#63c5ff"/><stop offset="0.328" stop-color="#b2c2ff"/><stop offset="0.359" stop-color="#efbeff"/><stop offset="0.375" stop-color="#ffb4f6"/><stop offset="0.438" stop-color="#ff7bbf"/><stop offset="0.562" stop-color="#ff4387"/><stop offset="0.719" stop-color="#ff0e5f"/><stop offset="0.734" stop-color="#ff005b"/><stop offset="0.984" stop-color="#ff001f"/><stop offset="1.000" stop-color="#ff0018"/></linearGradient><linearGradient id="c53" gradientUnits="userSpaceOnUse" x1="288.4" y1="0" x2="544.4" y2="0"><stop offset="0.000" stop-color="#00d4ff"/><stop offset="0.266" stop-color="#00c1ff"/><stop offset="0.281" stop-color="#2cc0ff"/><stop offset="0.297" stop-color="#6abeff"/><stop offset="0.328" stop-color="#b5baff"/><stop offset="0.359" stop-color="#f1b6ff"/><stop offset="0.375" stop-color="#ffabf5"/><stop offset="0.438" stop-color="#ff75bf"/><stop offset="0.562" stop-color="#ff3e88"/><stop offset="0.703" stop-color="#ff0b63"/><stop offset="0.719" stop-color="#ff0060"/><stop offset="1.000" stop-color="#ff001d"/></linearGradient><linearGradient id="c54" gradientUnits="userSpaceOnUse" x1="288.4" y1="0" x2="544.4" y2="0"><stop offset="0.000" stop-color="#00cfff"/><stop offset="0.266" stop-color="#00bbff"/><stop offset="0.297" stop-color="#70b7ff"/><stop offset="0.328" stop-color="#b9b3ff"/><stop offset="0.359" stop-color="#f3afff"/><stop offset="0.375" stop-color="#ffa3f4"/><stop offset="0.438" stop-color="#ff70c0"/><stop offset="0.562" stop-color="#ff3989"/><stop offset="0.672" stop-color="#ff116c"/><stop offset="0.703" stop-color="#ff0065"/><stop offset="1.000" stop-color="#ff0022"/></linearGradient></defs><path d="M84.7 117H271.5" stroke="#dadada" stroke-width=".7" fill="none"/>
<path d="M271.5 6.5V117" stroke="#dcdcdc" stroke-width=".8" fill="none"/>
<path d="M25 217.2L25 105.6L84.7 6.5L84.7 117Z" fill="#f4efbe"/>
<path d="M25 217.2V105.6L84.7 6.5H271.5" stroke="#555" stroke-width=".9" fill="none" stroke-linejoin="miter"/>
<path d="M211.5 217.2L271.5 117" stroke="#333" stroke-width=".75" fill="none"/>
<path d="M74.8 134.1L74.8 133.7L75.2 133.7L75.8 133.7L76.2 133.7L76.8 133.7L77.2 133.7L77.8 133.7L78.2 133.7L78.8 133.7L79.2 133.7L79.8 133.7L80.2 133.7L80.8 133.7L81.2 133.7L81.8 133.7L82.2 133.7L82.8 133.7L83.2 133.7L83.8 133.7L84.2 133.7L84.8 133.7L85.2 133.7L85.8 133.7L86.2 133.69L86.8 133.67L87.2 133.64L87.8 133.61L88.2 133.57L88.8 133.54L89.2 133.49L89.8 133.45L90.2 133.39L90.8 133.32L91.2 133.24L91.8 133.14L92.2 133.04L92.8 132.92L93.2 132.76L93.8 132.55L94.2 132.3L94.8 131.99L95.2 131.63L95.8 131.22L96.2 130.69L96.8 129.99L97.2 129.12L97.8 128.08L98.2 126.88L98.8 125.51L99.2 123.83L99.8 121.48L100.2 118.47L100.8 114.87L101.2 110.75L101.8 105.69L102.2 98.58L102.8 90.44L103.2 82.22L103.8 73.14L104.2 64.31L104.8 56.58L105.2 49.34L105.8 44.14L106.2 40.61L106.8 38.03L107.2 37.51L107.8 39.29L108.2 42.5L108.8 46.42L109.2 52.99L109.8 60.18L110.2 65.55L110.8 70.29L111.2 74.67L111.8 78.76L112.2 82.69L112.8 86.57L113.2 90.4L113.8 94.13L114.2 97.7L114.8 101.03L115.2 104.09L115.8 106.89L116.2 109.59L116.8 112.13L117.2 114.42L117.8 116.39L118.2 117.96L118.8 119.3L119.2 120.48L119.8 121.49L120.2 122.33L120.8 122.98L121.2 123.44L121.8 123.76L122.2 123.96L122.8 123.91L123.2 123.13L123.8 121.69L124.2 119.8L124.8 117.71L125.2 115.62L125.8 113.72L126.2 111.85L126.8 109.82L127.2 107.7L127.8 105.55L128.2 103.42L128.8 101.37L129.2 99.45L129.8 97.75L130.2 96.28L130.8 94.82L131.2 93.37L131.8 92L132.2 90.76L132.8 89.71L133.2 88.9L133.8 88.39L134.2 88.14L134.8 87.93L135.2 87.73L135.8 87.56L136.2 87.4L136.8 87.27L137.2 87.16L137.8 87.08L138.2 87.02L138.8 87L139.2 87L139.8 87.02L140.2 87.04L140.8 87.06L141.2 87.08L141.8 87.1L142.2 87.12L142.8 87.14L143.2 87.15L143.8 87.17L144.2 87.18L144.8 87.19L145.2 87.2L145.8 87.2L146.2 87.2L146.8 87.2L147.2 87.19L147.8 87.16L148.2 87.1L148.8 87.02L149.2 86.92L149.8 86.8L150.2 86.65L150.8 86.5L151.2 86.32L151.8 86.13L152.2 85.94L152.8 85.73L153.2 85.51L153.8 85.28L154.2 85.05L154.8 84.81L155.2 84.58L155.8 84.34L156.2 84.1L156.8 83.86L157.2 83.63L157.8 83.41L158.2 83.19L158.8 82.98L159.2 82.78L159.8 82.59L160.2 82.41L160.8 82.22L161.2 82.03L161.8 81.82L162.2 81.61L162.8 81.39L163.2 81.17L163.8 80.94L164.2 80.72L164.8 80.5L165.2 80.28L165.8 80.07L166.2 79.86L166.8 79.66L167.2 79.48L167.8 79.31L168.2 79.15L168.8 79.01L169.2 78.88L169.8 78.78L170.2 78.7L170.8 78.64L171.2 78.61L171.8 78.6L172.2 78.64L172.8 78.71L173.2 78.82L173.8 78.96L174.2 79.12L174.8 79.3L175.2 79.49L175.8 79.7L176.2 79.91L176.8 80.19L177.2 80.54L177.8 80.94L178.2 81.39L178.8 81.88L179.2 82.41L179.8 82.96L180.2 83.52L180.8 84.1L181.2 84.68L181.8 85.24L182.2 85.82L182.8 86.42L183.2 87.06L183.8 87.72L184.2 88.4L184.8 89.1L185.2 89.82L185.8 90.54L186.2 91.28L186.8 92.02L187.2 92.77L187.8 93.52L188.2 94.26L188.8 94.99L189.2 95.72L189.8 96.45L190.2 97.18L190.8 97.93L191.2 98.68L191.8 99.43L192.2 100.19L192.8 100.95L193.2 101.71L193.8 102.46L194.2 103.22L194.8 103.97L195.2 104.71L195.8 105.45L196.2 106.18L196.8 106.91L197.2 107.64L197.8 108.38L198.2 109.12L198.8 109.86L199.2 110.6L199.8 111.34L200.2 112.06L200.8 112.78L201.2 113.48L201.8 114.16L202.2 114.82L202.8 115.47L203.2 116.08L203.8 116.67L204.2 117.25L204.8 117.83L205.2 118.39L205.8 118.94L206.2 119.48L206.8 120.01L207.2 120.53L207.8 121.03L208.2 121.52L208.8 121.99L209.2 122.44L209.8 122.88L210.2 123.29L210.8 123.69L211.2 124.06L211.8 124.42L212.2 124.77L212.8 125.11L213.2 125.44L213.8 125.76L214.2 126.07L214.8 126.37L215.2 126.66L215.8 126.94L216.2 127.21L216.8 127.48L217.2 127.73L217.8 127.98L218.2 128.22L218.8 128.46L219.2 128.7L219.8 128.94L220.2 129.17L220.8 129.4L221.2 129.62L221.8 129.84L222.2 130.05L222.8 130.24L223.2 130.43L223.8 130.6L224.2 130.76L224.8 130.91L225.2 131.04L225.8 131.16L226.2 131.27L226.8 131.38L227.2 131.48L227.8 131.59L228.2 131.69L228.8 131.79L229.2 131.89L229.8 131.99L230.2 132.08L230.8 132.17L231.2 132.26L231.8 132.34L232.2 132.42L232.8 132.5L233.2 132.58L233.8 132.65L234.2 132.71L234.8 132.78L235.2 132.84L235.8 132.9L236.2 132.95L236.8 133L237.2 133.04L237.8 133.08L238.2 133.12L238.8 133.15L239.2 133.18L239.8 133.2L240.2 133.22L240.8 133.24L241.2 133.26L241.8 133.28L242.2 133.3L242.8 133.32L243.2 133.34L243.8 133.36L244.2 133.38L244.8 133.39L245.2 133.41L245.8 133.43L246.2 133.44L246.8 133.46L247.2 133.48L247.8 133.49L248.2 133.51L248.8 133.52L249.2 133.53L249.8 133.55L250.2 133.56L250.8 133.57L251.2 133.58L251.8 133.59L252.2 133.6L252.8 133.61L253.2 133.62L253.8 133.63L254.2 133.64L254.8 133.65L255.2 133.66L255.8 133.66L256.2 133.67L256.8 133.68L257.2 133.68L257.8 133.68L258.2 133.69L258.8 133.69L259.2 133.69L259.8 133.7L260.2 133.7L260.8 133.7L261.2 133.7L261.2 134.1Z" fill="url(#ga3)"/>
<path d="M74.8 133.7L75.2 133.7L75.8 133.7L76.2 133.7L76.8 133.7L77.2 133.7L77.8 133.7L78.2 133.7L78.8 133.7L79.2 133.7L79.8 133.7L80.2 133.7L80.8 133.7L81.2 133.7L81.8 133.7L82.2 133.7L82.8 133.7L83.2 133.7L83.8 133.7L84.2 133.7L84.8 133.7L85.2 133.7L85.8 133.7L86.2 133.69L86.8 133.67L87.2 133.64L87.8 133.61L88.2 133.57L88.8 133.54L89.2 133.49L89.8 133.45L90.2 133.39L90.8 133.32L91.2 133.24L91.8 133.14L92.2 133.04L92.8 132.92L93.2 132.76L93.8 132.55L94.2 132.3L94.8 131.99L95.2 131.63L95.8 131.22L96.2 130.69L96.8 129.99L97.2 129.12L97.8 128.08L98.2 126.88L98.8 125.51L99.2 123.83L99.8 121.48L100.2 118.47L100.8 114.87L101.2 110.75L101.8 105.69L102.2 98.58L102.8 90.44L103.2 82.22L103.8 73.14L104.2 64.31L104.8 56.58L105.2 49.34L105.8 44.14L106.2 40.61L106.8 38.03L107.2 37.51L107.8 39.29L108.2 42.5L108.8 46.42L109.2 52.99L109.8 60.18L110.2 65.55L110.8 70.29L111.2 74.67L111.8 78.76L112.2 82.69L112.8 86.57L113.2 90.4L113.8 94.13L114.2 97.7L114.8 101.03L115.2 104.09L115.8 106.89L116.2 109.59L116.8 112.13L117.2 114.42L117.8 116.39L118.2 117.96L118.8 119.3L119.2 120.48L119.8 121.49L120.2 122.33L120.8 122.98L121.2 123.44L121.8 123.76L122.2 123.96L122.8 123.91L123.2 123.13L123.8 121.69L124.2 119.8L124.8 117.71L125.2 115.62L125.8 113.72L126.2 111.85L126.8 109.82L127.2 107.7L127.8 105.55L128.2 103.42L128.8 101.37L129.2 99.45L129.8 97.75L130.2 96.28L130.8 94.82L131.2 93.37L131.8 92L132.2 90.76L132.8 89.71L133.2 88.9L133.8 88.39L134.2 88.14L134.8 87.93L135.2 87.73L135.8 87.56L136.2 87.4L136.8 87.27L137.2 87.16L137.8 87.08L138.2 87.02L138.8 87L139.2 87L139.8 87.02L140.2 87.04L140.8 87.06L141.2 87.08L141.8 87.1L142.2 87.12L142.8 87.14L143.2 87.15L143.8 87.17L144.2 87.18L144.8 87.19L145.2 87.2L145.8 87.2L146.2 87.2L146.8 87.2L147.2 87.19L147.8 87.16L148.2 87.1L148.8 87.02L149.2 86.92L149.8 86.8L150.2 86.65L150.8 86.5L151.2 86.32L151.8 86.13L152.2 85.94L152.8 85.73L153.2 85.51L153.8 85.28L154.2 85.05L154.8 84.81L155.2 84.58L155.8 84.34L156.2 84.1L156.8 83.86L157.2 83.63L157.8 83.41L158.2 83.19L158.8 82.98L159.2 82.78L159.8 82.59L160.2 82.41L160.8 82.22L161.2 82.03L161.8 81.82L162.2 81.61L162.8 81.39L163.2 81.17L163.8 80.94L164.2 80.72L164.8 80.5L165.2 80.28L165.8 80.07L166.2 79.86L166.8 79.66L167.2 79.48L167.8 79.31L168.2 79.15L168.8 79.01L169.2 78.88L169.8 78.78L170.2 78.7L170.8 78.64L171.2 78.61L171.8 78.6L172.2 78.64L172.8 78.71L173.2 78.82L173.8 78.96L174.2 79.12L174.8 79.3L175.2 79.49L175.8 79.7L176.2 79.91L176.8 80.19L177.2 80.54L177.8 80.94L178.2 81.39L178.8 81.88L179.2 82.41L179.8 82.96L180.2 83.52L180.8 84.1L181.2 84.68L181.8 85.24L182.2 85.82L182.8 86.42L183.2 87.06L183.8 87.72L184.2 88.4L184.8 89.1L185.2 89.82L185.8 90.54L186.2 91.28L186.8 92.02L187.2 92.77L187.8 93.52L188.2 94.26L188.8 94.99L189.2 95.72L189.8 96.45L190.2 97.18L190.8 97.93L191.2 98.68L191.8 99.43L192.2 100.19L192.8 100.95L193.2 101.71L193.8 102.46L194.2 103.22L194.8 103.97L195.2 104.71L195.8 105.45L196.2 106.18L196.8 106.91L197.2 107.64L197.8 108.38L198.2 109.12L198.8 109.86L199.2 110.6L199.8 111.34L200.2 112.06L200.8 112.78L201.2 113.48L201.8 114.16L202.2 114.82L202.8 115.47L203.2 116.08L203.8 116.67L204.2 117.25L204.8 117.83L205.2 118.39L205.8 118.94L206.2 119.48L206.8 120.01L207.2 120.53L207.8 121.03L208.2 121.52L208.8 121.99L209.2 122.44L209.8 122.88L210.2 123.29L210.8 123.69L211.2 124.06L211.8 124.42L212.2 124.77L212.8 125.11L213.2 125.44L213.8 125.76L214.2 126.07L214.8 126.37L215.2 126.66L215.8 126.94L216.2 127.21L216.8 127.48L217.2 127.73L217.8 127.98L218.2 128.22L218.8 128.46L219.2 128.7L219.8 128.94L220.2 129.17L220.8 129.4L221.2 129.62L221.8 129.84L222.2 130.05L222.8 130.24L223.2 130.43L223.8 130.6L224.2 130.76L224.8 130.91L225.2 131.04L225.8 131.16L226.2 131.27L226.8 131.38L227.2 131.48L227.8 131.59L228.2 131.69L228.8 131.79L229.2 131.89L229.8 131.99L230.2 132.08L230.8 132.17L231.2 132.26L231.8 132.34L232.2 132.42L232.8 132.5L233.2 132.58L233.8 132.65L234.2 132.71L234.8 132.78L235.2 132.84L235.8 132.9L236.2 132.95L236.8 133L237.2 133.04L237.8 133.08L238.2 133.12L238.8 133.15L239.2 133.18L239.8 133.2L240.2 133.22L240.8 133.24L241.2 133.26L241.8 133.28L242.2 133.3L242.8 133.32L243.2 133.34L243.8 133.36L244.2 133.38L244.8 133.39L245.2 133.41L245.8 133.43L246.2 133.44L246.8 133.46L247.2 133.48L247.8 133.49L248.2 133.51L248.8 133.52L249.2 133.53L249.8 133.55L250.2 133.56L250.8 133.57L251.2 133.58L251.8 133.59L252.2 133.6L252.8 133.61L253.2 133.62L253.8 133.63L254.2 133.64L254.8 133.65L255.2 133.66L255.8 133.66L256.2 133.67L256.8 133.68L257.2 133.68L257.8 133.68L258.2 133.69L258.8 133.69L259.2 133.69L259.8 133.7L260.2 133.7L260.8 133.7L261.2 133.7" fill="none" stroke="#000" stroke-opacity=".45" stroke-width=".5"/>
<text x="182.7" y="140.2" class="t" font-size="5.05" fill="#111" stroke="#111" stroke-width=".12" textLength="73.5" lengthAdjust="spacingAndGlyphs">10 wt% SASN: Eu/0.5mm LuAG:Ce</text>
<path d="M54.9 167.5L54.9 167.1L55.4 167.1L55.9 167.1L56.4 167.1L56.9 167.1L57.4 167.1L57.9 167.1L58.4 167.1L58.9 167.1L59.4 167.1L59.9 167.1L60.4 167.1L60.9 167.1L61.4 167.1L61.9 167.1L62.4 167.1L62.9 167.1L63.4 167.1L63.9 167.1L64.3 167.1L64.8 167.1L65.3 167.1L65.8 167.1L66.3 167.1L66.8 167.09L67.3 167.07L67.8 167.05L68.3 167.01L68.8 166.97L69.3 166.93L69.8 166.88L70.3 166.83L70.8 166.77L71.3 166.7L71.8 166.61L72.3 166.51L72.8 166.39L73.3 166.26L73.8 166.1L74.3 165.89L74.8 165.61L75.3 165.29L75.8 164.9L76.3 164.45L76.8 163.91L77.3 163.18L77.8 162.27L78.3 161.15L78.8 159.85L79.3 158.35L79.8 156.64L80.3 154.25L80.8 151.09L81.3 147.22L81.8 142.72L82.3 137.58L82.8 130.28L83.3 121.25L83.8 111.85L84.3 101.85L84.8 91.38L85.3 82.15L85.8 73.46L86.3 66.32L86.8 61.85L87.3 58.3L87.8 56.61L88.3 57.7L88.8 60.86L89.3 65L89.8 71.17L90.3 79.61L90.8 86.57L91.3 92.23L91.8 97.4L92.3 102.22L92.8 106.79L93.3 111.25L93.8 115.68L94.3 120.02L94.8 124.19L95.3 128.13L95.8 131.78L96.3 135.08L96.8 138.22L97.3 141.22L97.8 143.97L98.3 146.38L98.8 148.36L99.3 149.95L99.8 151.36L100.3 152.58L100.8 153.6L101.3 154.42L101.8 155.03L102.3 155.47L102.8 155.79L103.3 155.97L103.8 155.93L104.3 155.43L104.8 154.49L105.3 153.19L105.8 151.61L106.3 149.8L106.8 147.81L107.3 145.68L107.8 143.45L108.3 141.18L108.8 138.91L109.3 136.68L109.8 134.54L110.3 132.56L110.8 130.78L111.3 129.16L111.8 127.43L112.3 125.64L112.8 123.86L113.3 122.17L113.8 120.63L114.3 119.32L114.8 118.31L115.3 117.66L115.8 117.4L116.3 117.21L116.8 117.04L117.3 116.89L117.8 116.75L118.3 116.63L118.8 116.52L119.3 116.42L119.8 116.34L120.3 116.27L120.8 116.2L121.3 116.14L121.8 116.08L122.3 116.02L122.8 115.96L123.3 115.9L123.8 115.83L124.3 115.76L124.8 115.67L125.3 115.59L125.8 115.5L126.3 115.42L126.8 115.33L127.3 115.24L127.8 115.16L128.3 115.07L128.8 114.98L129.3 114.9L129.8 114.82L130.3 114.73L130.8 114.65L131.3 114.57L131.8 114.5L132.3 114.42L132.8 114.34L133.3 114.26L133.8 114.18L134.3 114.1L134.8 114.02L135.3 113.94L135.8 113.86L136.3 113.77L136.8 113.68L137.3 113.58L137.8 113.49L138.3 113.39L138.8 113.29L139.3 113.19L139.8 113.09L140.3 113L140.8 112.9L141.3 112.81L141.8 112.71L142.3 112.62L142.8 112.54L143.3 112.46L143.8 112.38L144.3 112.31L144.8 112.24L145.3 112.19L145.8 112.13L146.3 112.09L146.8 112.05L147.3 112.03L147.8 112.01L148.3 112L148.8 112.01L149.3 112.03L149.8 112.08L150.3 112.16L150.8 112.25L151.3 112.36L151.8 112.49L152.3 112.63L152.8 112.79L153.3 112.96L153.8 113.15L154.3 113.34L154.8 113.55L155.3 113.76L155.8 113.99L156.3 114.22L156.8 114.45L157.3 114.69L157.8 114.93L158.3 115.18L158.8 115.47L159.3 115.8L159.8 116.17L160.3 116.57L160.8 117L161.3 117.46L161.8 117.95L162.3 118.46L162.8 119L163.3 119.55L163.8 120.13L164.3 120.71L164.8 121.32L165.3 121.95L165.8 122.65L166.3 123.42L166.8 124.24L167.3 125.11L167.8 126.02L168.3 126.96L168.8 127.93L169.3 128.9L169.8 129.87L170.3 130.84L170.8 131.8L171.3 132.73L171.8 133.64L172.3 134.57L172.8 135.52L173.3 136.47L173.8 137.42L174.3 138.34L174.8 139.23L175.3 140.08L175.8 140.9L176.3 141.71L176.8 142.49L177.3 143.26L177.8 144.02L178.3 144.77L178.8 145.5L179.3 146.22L179.8 146.94L180.3 147.65L180.8 148.35L181.3 149.05L181.8 149.76L182.3 150.47L182.8 151.18L183.3 151.87L183.8 152.54L184.3 153.18L184.8 153.79L185.3 154.34L185.8 154.86L186.3 155.36L186.8 155.85L187.3 156.33L187.8 156.79L188.3 157.24L188.8 157.67L189.3 158.09L189.8 158.49L190.3 158.87L190.8 159.23L191.3 159.58L191.8 159.9L192.3 160.2L192.8 160.48L193.3 160.75L193.8 161.01L194.3 161.26L194.8 161.5L195.3 161.73L195.8 161.95L196.3 162.16L196.8 162.36L197.3 162.55L197.8 162.73L198.3 162.9L198.8 163.05L199.3 163.2L199.8 163.34L200.3 163.47L200.8 163.6L201.3 163.72L201.8 163.84L202.3 163.96L202.8 164.07L203.3 164.18L203.8 164.29L204.3 164.39L204.8 164.49L205.3 164.58L205.8 164.67L206.3 164.76L206.8 164.84L207.3 164.92L207.8 165L208.3 165.07L208.8 165.15L209.3 165.22L209.8 165.28L210.3 165.34L210.8 165.41L211.3 165.47L211.8 165.53L212.3 165.59L212.8 165.65L213.3 165.7L213.8 165.76L214.3 165.81L214.8 165.87L215.3 165.92L215.8 165.97L216.3 166.02L216.8 166.07L217.3 166.11L217.8 166.16L218.3 166.2L218.8 166.24L219.3 166.28L219.8 166.32L220.3 166.35L220.8 166.38L221.3 166.41L221.8 166.44L222.3 166.47L222.8 166.49L223.3 166.51L223.8 166.53L224.3 166.55L224.8 166.57L225.3 166.58L225.8 166.6L226.3 166.61L226.8 166.62L227.3 166.63L227.8 166.64L228.3 166.65L228.8 166.65L229.3 166.66L229.8 166.67L230.3 166.67L230.8 166.68L231.3 166.69L231.8 166.69L232.3 166.7L232.8 166.71L233.3 166.71L233.8 166.72L234.3 166.73L234.8 166.74L235.3 166.75L235.8 166.77L236.3 166.78L236.8 166.8L237.3 166.81L237.8 166.83L238.3 166.85L238.8 166.88L239.3 166.9L239.8 166.93L240.3 166.96L240.8 166.99L241.3 167.1L241.3 167.5Z" fill="url(#ga2)"/>
<path d="M54.9 167.1L55.4 167.1L55.9 167.1L56.4 167.1L56.9 167.1L57.4 167.1L57.9 167.1L58.4 167.1L58.9 167.1L59.4 167.1L59.9 167.1L60.4 167.1L60.9 167.1L61.4 167.1L61.9 167.1L62.4 167.1L62.9 167.1L63.4 167.1L63.9 167.1L64.3 167.1L64.8 167.1L65.3 167.1L65.8 167.1L66.3 167.1L66.8 167.09L67.3 167.07L67.8 167.05L68.3 167.01L68.8 166.97L69.3 166.93L69.8 166.88L70.3 166.83L70.8 166.77L71.3 166.7L71.8 166.61L72.3 166.51L72.8 166.39L73.3 166.26L73.8 166.1L74.3 165.89L74.8 165.61L75.3 165.29L75.8 164.9L76.3 164.45L76.8 163.91L77.3 163.18L77.8 162.27L78.3 161.15L78.8 159.85L79.3 158.35L79.8 156.64L80.3 154.25L80.8 151.09L81.3 147.22L81.8 142.72L82.3 137.58L82.8 130.28L83.3 121.25L83.8 111.85L84.3 101.85L84.8 91.38L85.3 82.15L85.8 73.46L86.3 66.32L86.8 61.85L87.3 58.3L87.8 56.61L88.3 57.7L88.8 60.86L89.3 65L89.8 71.17L90.3 79.61L90.8 86.57L91.3 92.23L91.8 97.4L92.3 102.22L92.8 106.79L93.3 111.25L93.8 115.68L94.3 120.02L94.8 124.19L95.3 128.13L95.8 131.78L96.3 135.08L96.8 138.22L97.3 141.22L97.8 143.97L98.3 146.38L98.8 148.36L99.3 149.95L99.8 151.36L100.3 152.58L100.8 153.6L101.3 154.42L101.8 155.03L102.3 155.47L102.8 155.79L103.3 155.97L103.8 155.93L104.3 155.43L104.8 154.49L105.3 153.19L105.8 151.61L106.3 149.8L106.8 147.81L107.3 145.68L107.8 143.45L108.3 141.18L108.8 138.91L109.3 136.68L109.8 134.54L110.3 132.56L110.8 130.78L111.3 129.16L111.8 127.43L112.3 125.64L112.8 123.86L113.3 122.17L113.8 120.63L114.3 119.32L114.8 118.31L115.3 117.66L115.8 117.4L116.3 117.21L116.8 117.04L117.3 116.89L117.8 116.75L118.3 116.63L118.8 116.52L119.3 116.42L119.8 116.34L120.3 116.27L120.8 116.2L121.3 116.14L121.8 116.08L122.3 116.02L122.8 115.96L123.3 115.9L123.8 115.83L124.3 115.76L124.8 115.67L125.3 115.59L125.8 115.5L126.3 115.42L126.8 115.33L127.3 115.24L127.8 115.16L128.3 115.07L128.8 114.98L129.3 114.9L129.8 114.82L130.3 114.73L130.8 114.65L131.3 114.57L131.8 114.5L132.3 114.42L132.8 114.34L133.3 114.26L133.8 114.18L134.3 114.1L134.8 114.02L135.3 113.94L135.8 113.86L136.3 113.77L136.8 113.68L137.3 113.58L137.8 113.49L138.3 113.39L138.8 113.29L139.3 113.19L139.8 113.09L140.3 113L140.8 112.9L141.3 112.81L141.8 112.71L142.3 112.62L142.8 112.54L143.3 112.46L143.8 112.38L144.3 112.31L144.8 112.24L145.3 112.19L145.8 112.13L146.3 112.09L146.8 112.05L147.3 112.03L147.8 112.01L148.3 112L148.8 112.01L149.3 112.03L149.8 112.08L150.3 112.16L150.8 112.25L151.3 112.36L151.8 112.49L152.3 112.63L152.8 112.79L153.3 112.96L153.8 113.15L154.3 113.34L154.8 113.55L155.3 113.76L155.8 113.99L156.3 114.22L156.8 114.45L157.3 114.69L157.8 114.93L158.3 115.18L158.8 115.47L159.3 115.8L159.8 116.17L160.3 116.57L160.8 117L161.3 117.46L161.8 117.95L162.3 118.46L162.8 119L163.3 119.55L163.8 120.13L164.3 120.71L164.8 121.32L165.3 121.95L165.8 122.65L166.3 123.42L166.8 124.24L167.3 125.11L167.8 126.02L168.3 126.96L168.8 127.93L169.3 128.9L169.8 129.87L170.3 130.84L170.8 131.8L171.3 132.73L171.8 133.64L172.3 134.57L172.8 135.52L173.3 136.47L173.8 137.42L174.3 138.34L174.8 139.23L175.3 140.08L175.8 140.9L176.3 141.71L176.8 142.49L177.3 143.26L177.8 144.02L178.3 144.77L178.8 145.5L179.3 146.22L179.8 146.94L180.3 147.65L180.8 148.35L181.3 149.05L181.8 149.76L182.3 150.47L182.8 151.18L183.3 151.87L183.8 152.54L184.3 153.18L184.8 153.79L185.3 154.34L185.8 154.86L186.3 155.36L186.8 155.85L187.3 156.33L187.8 156.79L188.3 157.24L188.8 157.67L189.3 158.09L189.8 158.49L190.3 158.87L190.8 159.23L191.3 159.58L191.8 159.9L192.3 160.2L192.8 160.48L193.3 160.75L193.8 161.01L194.3 161.26L194.8 161.5L195.3 161.73L195.8 161.95L196.3 162.16L196.8 162.36L197.3 162.55L197.8 162.73L198.3 162.9L198.8 163.05L199.3 163.2L199.8 163.34L200.3 163.47L200.8 163.6L201.3 163.72L201.8 163.84L202.3 163.96L202.8 164.07L203.3 164.18L203.8 164.29L204.3 164.39L204.8 164.49L205.3 164.58L205.8 164.67L206.3 164.76L206.8 164.84L207.3 164.92L207.8 165L208.3 165.07L208.8 165.15L209.3 165.22L209.8 165.28L210.3 165.34L210.8 165.41L211.3 165.47L211.8 165.53L212.3 165.59L212.8 165.65L213.3 165.7L213.8 165.76L214.3 165.81L214.8 165.87L215.3 165.92L215.8 165.97L216.3 166.02L216.8 166.07L217.3 166.11L217.8 166.16L218.3 166.2L218.8 166.24L219.3 166.28L219.8 166.32L220.3 166.35L220.8 166.38L221.3 166.41L221.8 166.44L222.3 166.47L222.8 166.49L223.3 166.51L223.8 166.53L224.3 166.55L224.8 166.57L225.3 166.58L225.8 166.6L226.3 166.61L226.8 166.62L227.3 166.63L227.8 166.64L228.3 166.65L228.8 166.65L229.3 166.66L229.8 166.67L230.3 166.67L230.8 166.68L231.3 166.69L231.8 166.69L232.3 166.7L232.8 166.71L233.3 166.71L233.8 166.72L234.3 166.73L234.8 166.74L235.3 166.75L235.8 166.77L236.3 166.78L236.8 166.8L237.3 166.81L237.8 166.83L238.3 166.85L238.8 166.88L239.3 166.9L239.8 166.93L240.3 166.96L240.8 166.99L241.3 167.1" fill="none" stroke="#000" stroke-opacity=".45" stroke-width=".5"/>
<text x="165.5" y="173.7" class="t" font-size="5.05" fill="#111" stroke="#111" stroke-width=".12" textLength="72.1" lengthAdjust="spacingAndGlyphs">10 wt% SASN: Eu/ 1mm LuAG:Ce</text>
<path d="M35 200.9L35 200.5L35.5 200.5L36 200.5L36.5 200.5L37 200.5L37.5 200.5L38 200.5L38.5 200.5L39 200.5L39.5 200.5L40 200.5L40.5 200.5L41 200.5L41.5 200.5L42 200.5L42.5 200.5L43 200.5L43.5 200.5L44 200.5L44.5 200.5L45 200.5L45.5 200.5L46 200.5L46.5 200.5L47 200.5L47.5 200.5L48 200.5L48.5 200.5L49 200.5L49.5 200.5L50 200.49L50.5 200.48L51 200.46L51.5 200.43L52 200.41L52.5 200.38L53 200.35L53.5 200.31L54 200.26L54.5 200.2L55 200.13L55.5 200.05L56 199.95L56.5 199.81L57 199.63L57.5 199.41L58 199.15L58.5 198.82L59 198.36L59.5 197.77L60 197.06L60.5 196.22L61 195.23L61.5 193.8L62 191.86L62.5 189.47L63 186.69L63.5 182.87L64 177.75L64.5 172.36L65 166.48L65.5 160.65L66 155.58L66.5 151.08L67 148.3L67.5 146.26L68 145.5L68.5 146.29L69 148L69.5 150.12L70 153.56L70.5 157.75L71 161L71.5 163.76L72 166.29L72.5 168.65L73 170.9L73.5 173.09L74 175.27L74.5 177.38L75 179.4L75.5 181.3L76 183.04L76.5 184.62L77 186.14L77.5 187.58L78 188.89L78.5 190.01L79 190.9L79.5 191.63L80 192.25L80.5 192.78L81 193.21L81.5 193.52L82 193.73L82.5 193.86L83 193.9L83.5 193.82L84 193.6L84.5 193.23L85 192.73L85.5 192.11L86 191.4L86.5 190.6L87 189.7L87.5 188.73L88 187.67L88.5 186.53L89 185.33L89.5 183.98L90 182.08L90.5 179.71L91 177.03L91.5 174.16L92 171.28L92.5 168.51L93 166.01L93.5 163.93L94 162.38L94.5 161.02L95 159.71L95.5 158.47L96 157.33L96.5 156.3L97 155.4L97.5 154.64L98 154.06L98.5 153.67L99 153.38L99.5 153.12L100 152.9L100.5 152.7L101 152.52L101.5 152.37L102 152.22L102.5 152.09L103 151.96L103.5 151.83L104 151.71L104.5 151.57L105 151.43L105.5 151.29L106 151.16L106.5 151.02L107 150.9L107.5 150.77L108 150.65L108.5 150.53L109 150.41L109.5 150.3L110 150.18L110.5 150.06L111 149.95L111.5 149.83L112 149.71L112.5 149.58L113 149.45L113.5 149.32L114 149.19L114.5 149.04L115 148.89L115.5 148.73L116 148.57L116.5 148.4L117 148.23L117.5 148.06L118 147.89L118.5 147.72L119 147.55L119.5 147.39L120 147.22L120.5 147.07L121 146.92L121.5 146.78L122 146.64L122.5 146.52L123 146.41L123.5 146.3L124 146.19L124.5 146.08L125 145.97L125.5 145.87L126 145.77L126.5 145.68L127 145.61L127.5 145.55L128 145.51L128.4 145.5L128.9 145.51L129.4 145.54L129.9 145.59L130.4 145.66L130.9 145.75L131.4 145.86L131.9 145.98L132.4 146.12L132.9 146.27L133.4 146.43L133.9 146.6L134.4 146.78L134.9 146.97L135.4 147.16L135.9 147.36L136.4 147.63L136.9 147.96L137.4 148.36L137.9 148.81L138.4 149.31L138.9 149.84L139.4 150.4L139.9 150.97L140.4 151.55L140.9 152.14L141.4 152.71L141.9 153.27L142.4 153.83L142.9 154.41L143.4 155.01L143.9 155.62L144.4 156.25L144.9 156.89L145.4 157.54L145.9 158.2L146.4 158.87L146.9 159.54L147.4 160.23L147.9 160.91L148.4 161.6L148.9 162.29L149.4 162.99L149.9 163.7L150.4 164.43L150.9 165.17L151.4 165.92L151.9 166.67L152.4 167.43L152.9 168.19L153.4 168.96L153.9 169.74L154.4 170.52L154.9 171.3L155.4 172.07L155.9 172.83L156.4 173.57L156.9 174.31L157.4 175.06L157.9 175.8L158.4 176.55L158.9 177.29L159.4 178.02L159.9 178.75L160.4 179.47L160.9 180.17L161.4 180.86L161.9 181.54L162.4 182.19L162.9 182.82L163.4 183.42L163.9 184.01L164.4 184.59L164.9 185.17L165.4 185.74L165.9 186.31L166.4 186.86L166.9 187.4L167.4 187.92L167.9 188.42L168.4 188.91L168.9 189.37L169.4 189.8L169.9 190.21L170.4 190.59L170.9 190.93L171.4 191.25L171.9 191.56L172.4 191.86L172.9 192.14L173.4 192.41L173.9 192.67L174.4 192.91L174.9 193.15L175.4 193.38L175.9 193.6L176.4 193.81L176.9 194.02L177.4 194.21L177.9 194.41L178.4 194.59L178.9 194.78L179.4 194.96L179.9 195.13L180.4 195.3L180.9 195.46L181.4 195.62L181.9 195.78L182.4 195.93L182.9 196.07L183.4 196.21L183.9 196.34L184.4 196.46L184.9 196.58L185.4 196.69L185.9 196.79L186.4 196.9L186.9 197L187.4 197.1L187.9 197.19L188.4 197.29L188.9 197.38L189.4 197.47L189.9 197.56L190.4 197.65L190.9 197.73L191.4 197.82L191.9 197.9L192.4 197.98L192.9 198.05L193.4 198.13L193.9 198.2L194.4 198.27L194.9 198.34L195.4 198.41L195.9 198.47L196.4 198.54L196.9 198.6L197.4 198.66L197.9 198.71L198.4 198.77L198.9 198.82L199.4 198.87L199.9 198.92L200.4 198.97L200.9 199.02L201.4 199.06L201.9 199.1L202.4 199.14L202.9 199.17L203.4 199.21L203.9 199.24L204.4 199.27L204.9 199.3L205.4 199.33L205.9 199.36L206.4 199.38L206.9 199.41L207.4 199.43L207.9 199.46L208.4 199.48L208.9 199.51L209.4 199.53L209.9 199.55L210.4 199.58L210.9 199.6L211.4 199.63L211.9 199.65L212.4 199.68L212.9 199.71L213.4 199.74L213.9 199.77L214.4 199.8L214.9 199.83L215.4 199.86L215.9 199.9L216.4 199.94L216.9 199.98L217.4 200.02L217.9 200.07L218.4 200.11L218.9 200.16L219.4 200.22L219.9 200.27L220.4 200.33L220.9 200.39L221.4 200.5L221.4 200.9Z" fill="url(#ga1)"/>
<path d="M35 200.5L35.5 200.5L36 200.5L36.5 200.5L37 200.5L37.5 200.5L38 200.5L38.5 200.5L39 200.5L39.5 200.5L40 200.5L40.5 200.5L41 200.5L41.5 200.5L42 200.5L42.5 200.5L43 200.5L43.5 200.5L44 200.5L44.5 200.5L45 200.5L45.5 200.5L46 200.5L46.5 200.5L47 200.5L47.5 200.5L48 200.5L48.5 200.5L49 200.5L49.5 200.5L50 200.49L50.5 200.48L51 200.46L51.5 200.43L52 200.41L52.5 200.38L53 200.35L53.5 200.31L54 200.26L54.5 200.2L55 200.13L55.5 200.05L56 199.95L56.5 199.81L57 199.63L57.5 199.41L58 199.15L58.5 198.82L59 198.36L59.5 197.77L60 197.06L60.5 196.22L61 195.23L61.5 193.8L62 191.86L62.5 189.47L63 186.69L63.5 182.87L64 177.75L64.5 172.36L65 166.48L65.5 160.65L66 155.58L66.5 151.08L67 148.3L67.5 146.26L68 145.5L68.5 146.29L69 148L69.5 150.12L70 153.56L70.5 157.75L71 161L71.5 163.76L72 166.29L72.5 168.65L73 170.9L73.5 173.09L74 175.27L74.5 177.38L75 179.4L75.5 181.3L76 183.04L76.5 184.62L77 186.14L77.5 187.58L78 188.89L78.5 190.01L79 190.9L79.5 191.63L80 192.25L80.5 192.78L81 193.21L81.5 193.52L82 193.73L82.5 193.86L83 193.9L83.5 193.82L84 193.6L84.5 193.23L85 192.73L85.5 192.11L86 191.4L86.5 190.6L87 189.7L87.5 188.73L88 187.67L88.5 186.53L89 185.33L89.5 183.98L90 182.08L90.5 179.71L91 177.03L91.5 174.16L92 171.28L92.5 168.51L93 166.01L93.5 163.93L94 162.38L94.5 161.02L95 159.71L95.5 158.47L96 157.33L96.5 156.3L97 155.4L97.5 154.64L98 154.06L98.5 153.67L99 153.38L99.5 153.12L100 152.9L100.5 152.7L101 152.52L101.5 152.37L102 152.22L102.5 152.09L103 151.96L103.5 151.83L104 151.71L104.5 151.57L105 151.43L105.5 151.29L106 151.16L106.5 151.02L107 150.9L107.5 150.77L108 150.65L108.5 150.53L109 150.41L109.5 150.3L110 150.18L110.5 150.06L111 149.95L111.5 149.83L112 149.71L112.5 149.58L113 149.45L113.5 149.32L114 149.19L114.5 149.04L115 148.89L115.5 148.73L116 148.57L116.5 148.4L117 148.23L117.5 148.06L118 147.89L118.5 147.72L119 147.55L119.5 147.39L120 147.22L120.5 147.07L121 146.92L121.5 146.78L122 146.64L122.5 146.52L123 146.41L123.5 146.3L124 146.19L124.5 146.08L125 145.97L125.5 145.87L126 145.77L126.5 145.68L127 145.61L127.5 145.55L128 145.51L128.4 145.5L128.9 145.51L129.4 145.54L129.9 145.59L130.4 145.66L130.9 145.75L131.4 145.86L131.9 145.98L132.4 146.12L132.9 146.27L133.4 146.43L133.9 146.6L134.4 146.78L134.9 146.97L135.4 147.16L135.9 147.36L136.4 147.63L136.9 147.96L137.4 148.36L137.9 148.81L138.4 149.31L138.9 149.84L139.4 150.4L139.9 150.97L140.4 151.55L140.9 152.14L141.4 152.71L141.9 153.27L142.4 153.83L142.9 154.41L143.4 155.01L143.9 155.62L144.4 156.25L144.9 156.89L145.4 157.54L145.9 158.2L146.4 158.87L146.9 159.54L147.4 160.23L147.9 160.91L148.4 161.6L148.9 162.29L149.4 162.99L149.9 163.7L150.4 164.43L150.9 165.17L151.4 165.92L151.9 166.67L152.4 167.43L152.9 168.19L153.4 168.96L153.9 169.74L154.4 170.52L154.9 171.3L155.4 172.07L155.9 172.83L156.4 173.57L156.9 174.31L157.4 175.06L157.9 175.8L158.4 176.55L158.9 177.29L159.4 178.02L159.9 178.75L160.4 179.47L160.9 180.17L161.4 180.86L161.9 181.54L162.4 182.19L162.9 182.82L163.4 183.42L163.9 184.01L164.4 184.59L164.9 185.17L165.4 185.74L165.9 186.31L166.4 186.86L166.9 187.4L167.4 187.92L167.9 188.42L168.4 188.91L168.9 189.37L169.4 189.8L169.9 190.21L170.4 190.59L170.9 190.93L171.4 191.25L171.9 191.56L172.4 191.86L172.9 192.14L173.4 192.41L173.9 192.67L174.4 192.91L174.9 193.15L175.4 193.38L175.9 193.6L176.4 193.81L176.9 194.02L177.4 194.21L177.9 194.41L178.4 194.59L178.9 194.78L179.4 194.96L179.9 195.13L180.4 195.3L180.9 195.46L181.4 195.62L181.9 195.78L182.4 195.93L182.9 196.07L183.4 196.21L183.9 196.34L184.4 196.46L184.9 196.58L185.4 196.69L185.9 196.79L186.4 196.9L186.9 197L187.4 197.1L187.9 197.19L188.4 197.29L188.9 197.38L189.4 197.47L189.9 197.56L190.4 197.65L190.9 197.73L191.4 197.82L191.9 197.9L192.4 197.98L192.9 198.05L193.4 198.13L193.9 198.2L194.4 198.27L194.9 198.34L195.4 198.41L195.9 198.47L196.4 198.54L196.9 198.6L197.4 198.66L197.9 198.71L198.4 198.77L198.9 198.82L199.4 198.87L199.9 198.92L200.4 198.97L200.9 199.02L201.4 199.06L201.9 199.1L202.4 199.14L202.9 199.17L203.4 199.21L203.9 199.24L204.4 199.27L204.9 199.3L205.4 199.33L205.9 199.36L206.4 199.38L206.9 199.41L207.4 199.43L207.9 199.46L208.4 199.48L208.9 199.51L209.4 199.53L209.9 199.55L210.4 199.58L210.9 199.6L211.4 199.63L211.9 199.65L212.4 199.68L212.9 199.71L213.4 199.74L213.9 199.77L214.4 199.8L214.9 199.83L215.4 199.86L215.9 199.9L216.4 199.94L216.9 199.98L217.4 200.02L217.9 200.07L218.4 200.11L218.9 200.16L219.4 200.22L219.9 200.27L220.4 200.33L220.9 200.39L221.4 200.5" fill="none" stroke="#000" stroke-opacity=".45" stroke-width=".5"/>
<text x="141.5" y="206.6" class="t" font-size="5.05" fill="#111" stroke="#111" stroke-width=".12" textLength="74.3" lengthAdjust="spacingAndGlyphs">10 wt% SASN: Eu/1.5mm LuAG:Ce</text>
<path d="M24.6 217.2H211.9" stroke="#333" stroke-width=".9" fill="none"/>
<path d="M25.3 217.2v1M30 217.2v1M34.6 217.2v2M39.2 217.2v1M43.9 217.2v1M48.5 217.2v1M53.2 217.2v1M57.8 217.2v2M62.5 217.2v1M67.1 217.2v1M71.8 217.2v1M76.4 217.2v1M81.1 217.2v2M85.7 217.2v1M90.4 217.2v1M95 217.2v1M99.7 217.2v1M104.3 217.2v2M109 217.2v1M113.6 217.2v1M118.3 217.2v1M122.9 217.2v1M127.6 217.2v2M132.2 217.2v1M136.9 217.2v1M141.5 217.2v1M146.2 217.2v1M150.8 217.2v2M155.5 217.2v1M160.1 217.2v1M164.8 217.2v1M169.4 217.2v1M174.1 217.2v2M178.7 217.2v1M183.4 217.2v1M188 217.2v1M192.7 217.2v1M197.3 217.2v2M202 217.2v1M206.6 217.2v1M211.3 217.2v1" stroke="#222" stroke-width=".75" fill="none"/>
<text x="34.6" y="226.2" class="t" font-size="5.1" fill="#222" stroke="#222" stroke-width=".12" text-anchor="middle">400</text>
<text x="57.8" y="226.2" class="t" font-size="5.1" fill="#222" stroke="#222" stroke-width=".12" text-anchor="middle">450</text>
<text x="81.1" y="226.2" class="t" font-size="5.1" fill="#222" stroke="#222" stroke-width=".12" text-anchor="middle">500</text>
<text x="104.3" y="226.2" class="t" font-size="5.1" fill="#222" stroke="#222" stroke-width=".12" text-anchor="middle">550</text>
<text x="127.6" y="226.2" class="t" font-size="5.1" fill="#222" stroke="#222" stroke-width=".12" text-anchor="middle">600</text>
<text x="150.8" y="226.2" class="t" font-size="5.1" fill="#222" stroke="#222" stroke-width=".12" text-anchor="middle">650</text>
<text x="174.1" y="226.2" class="t" font-size="5.1" fill="#222" stroke="#222" stroke-width=".12" text-anchor="middle">700</text>
<text x="197.3" y="226.2" class="t" font-size="5.1" fill="#222" stroke="#222" stroke-width=".12" text-anchor="middle">750</text>
<text x="120.4" y="233.7" class="t" font-size="5.05" fill="#111" stroke="#111" stroke-width=".12" text-anchor="middle">Wavelength (nm)</text>
<path d="M25 217.2h-1.8M25 212.7h-1M25 208.3h-1M25 203.8h-1M25 199.3h-1M25 194.9h-1.8M25 190.4h-1M25 186h-1M25 181.5h-1M25 177h-1M25 172.6h-1.8M25 168.1h-1M25 163.6h-1M25 159.2h-1M25 154.7h-1M25 150.2h-1.8M25 145.8h-1M25 141.3h-1M25 136.8h-1M25 132.4h-1M25 127.9h-1.8M25 123.5h-1M25 119h-1M25 114.5h-1M25 110.1h-1M25 105.6h-1.8" stroke="#222" stroke-width=".8" fill="none"/>
<text transform="translate(20.8 162) rotate(-90)" class="t" font-size="5.1" fill="#222" stroke="#222" stroke-width=".12" text-anchor="middle">Intensity (a.u.)</text>
<text x="21.8" y="21.4" class="t" font-size="16" fill="#111">(a)</text>
<path d="M351.9 122.2H539.6" stroke="#dadada" stroke-width=".7" fill="none"/>
<path d="M539.6 10.5V122.2" stroke="#8a8a8a" stroke-width=".8" fill="none"/>
<path d="M291.9 223L291.9 110.4L351.9 10.5L351.9 122.2Z" fill="#f4efbe"/>
<path d="M291.9 223V110.4L351.9 10.5H539.6" stroke="#555" stroke-width=".9" fill="none" stroke-linejoin="miter"/>
<path d="M479.6 223L539.6 122.2" stroke="#333" stroke-width=".75" fill="none"/>
<path d="M341.9 139.4L341.9 139L342.4 139L342.9 139L343.4 139L343.9 139L344.4 139L344.9 139L345.4 139L345.9 139L346.4 139L346.9 139L347.4 139L347.9 139L348.4 139L348.9 139L349.4 139L349.9 139L350.4 139L350.9 139L351.4 139L351.9 139L352.4 138.99L352.9 138.97L353.4 138.94L353.9 138.91L354.4 138.87L354.9 138.83L355.4 138.79L355.9 138.75L356.4 138.7L356.9 138.64L357.4 138.56L357.9 138.48L358.4 138.39L358.9 138.28L359.4 138.16L359.9 138.02L360.4 137.83L360.9 137.6L361.4 137.33L361.9 137L362.4 136.63L362.9 136.21L363.4 135.69L363.9 135.01L364.4 134.17L364.9 133.18L365.4 132.03L365.9 130.73L366.4 129.26L366.9 127.46L367.4 125.01L367.9 121.94L368.4 118.3L368.9 114.16L369.4 109.52L369.9 103.12L370.4 95.12L370.9 86.53L371.4 77.86L371.9 68.33L372.4 59.09L372.9 50.98L373.4 43.19L373.9 36.89L374.4 32.85L374.9 29.5L375.4 27.5L375.9 27.81L376.4 30.49L376.9 34.5L377.4 39.74L377.9 47.99L378.4 55.77L378.9 61.66L379.4 67.02L379.9 71.98L380.4 76.62L380.9 81.09L381.4 85.5L381.9 89.82L382.4 93.97L382.9 97.91L383.4 101.57L383.9 104.87L384.4 107.96L384.9 110.93L385.4 113.69L385.9 116.11L386.4 118.09L386.9 119.61L387.4 120.91L387.9 122L388.4 122.89L388.9 123.57L389.4 124.05L389.9 124.33L390.4 124.44L390.9 124.27L391.4 123.85L391.9 123.2L392.4 122.37L392.9 121.4L393.4 120.4L393.9 119.39L394.4 118.41L394.9 117.52L395.4 116.73L395.9 116.1L396.4 115.59L396.9 115.04L397.4 114.46L397.9 113.85L398.4 113.26L398.9 112.67L399.4 112.1L399.9 111.56L400.4 111.04L400.9 110.56L401.4 110.13L401.9 109.74L402.4 109.4L402.9 109.12L403.4 108.91L403.9 108.77L404.4 108.7L404.9 108.71L405.4 108.73L405.9 108.75L406.4 108.77L406.9 108.79L407.4 108.81L407.9 108.83L408.4 108.85L408.9 108.87L409.4 108.89L409.9 108.91L410.4 108.94L410.9 108.96L411.4 108.98L411.9 109L412.4 109.02L412.9 109.06L413.4 109.11L413.9 109.18L414.4 109.25L414.9 109.32L415.4 109.4L415.9 109.47L416.4 109.55L416.9 109.62L417.4 109.68L417.9 109.73L418.4 109.77L418.9 109.79L419.4 109.8L419.9 109.78L420.4 109.75L420.9 109.69L421.4 109.61L421.9 109.51L422.4 109.41L422.9 109.28L423.4 109.15L423.9 109L424.4 108.85L424.9 108.68L425.4 108.52L425.9 108.34L426.4 108.17L426.9 108L427.4 107.82L427.9 107.65L428.4 107.49L428.9 107.32L429.4 107.17L429.9 107.03L430.4 106.89L430.9 106.73L431.4 106.57L431.9 106.4L432.4 106.22L432.9 106.03L433.4 105.84L433.9 105.65L434.4 105.46L434.9 105.28L435.4 105.09L435.9 104.91L436.4 104.74L436.9 104.58L437.4 104.42L437.9 104.28L438.4 104.16L438.9 104.05L439.4 103.96L439.9 103.88L440.4 103.83L440.9 103.8L441.4 103.8L441.9 103.83L442.4 103.89L442.9 103.97L443.4 104.08L443.9 104.2L444.4 104.34L444.9 104.49L445.4 104.64L445.9 104.8L446.4 104.97L446.9 105.14L447.4 105.33L447.9 105.55L448.4 105.8L448.9 106.07L449.4 106.36L449.9 106.66L450.4 106.99L450.9 107.34L451.4 107.7L451.9 108.08L452.4 108.53L452.9 109.05L453.4 109.61L453.9 110.18L454.4 110.73L454.9 111.3L455.4 111.89L455.9 112.48L456.4 113.09L456.9 113.7L457.4 114.32L457.9 114.94L458.4 115.56L458.9 116.17L459.4 116.78L459.9 117.38L460.4 117.97L460.9 118.54L461.4 119.1L461.9 119.65L462.4 120.2L462.9 120.74L463.4 121.29L463.9 121.83L464.4 122.36L464.9 122.89L465.4 123.4L465.9 123.91L466.4 124.41L466.9 124.89L467.4 125.35L467.9 125.8L468.4 126.23L468.9 126.65L469.4 127.06L469.9 127.46L470.4 127.85L470.9 128.24L471.4 128.62L471.9 128.99L472.4 129.35L472.9 129.7L473.4 130.03L473.9 130.36L474.4 130.67L474.9 130.96L475.4 131.24L475.9 131.5L476.4 131.75L476.9 131.99L477.4 132.22L477.9 132.44L478.4 132.66L478.9 132.87L479.4 133.07L479.9 133.26L480.4 133.45L480.9 133.63L481.4 133.81L481.9 133.98L482.4 134.14L482.9 134.3L483.4 134.46L483.9 134.62L484.4 134.77L484.9 134.92L485.4 135.06L485.9 135.21L486.4 135.34L486.9 135.48L487.4 135.61L487.9 135.73L488.4 135.85L488.9 135.97L489.4 136.08L489.9 136.18L490.4 136.28L490.9 136.38L491.4 136.47L491.9 136.56L492.4 136.65L492.9 136.74L493.4 136.83L493.9 136.92L494.4 137L494.9 137.09L495.4 137.17L495.9 137.25L496.4 137.33L496.9 137.4L497.4 137.48L497.9 137.55L498.4 137.62L498.9 137.69L499.4 137.76L499.9 137.82L500.4 137.88L500.9 137.94L501.4 138L501.9 138.05L502.4 138.1L502.9 138.15L503.4 138.2L503.9 138.24L504.4 138.28L504.9 138.31L505.4 138.35L505.9 138.38L506.4 138.42L506.9 138.45L507.4 138.49L507.9 138.52L508.4 138.55L508.9 138.58L509.4 138.61L509.9 138.64L510.4 138.66L510.9 138.69L511.4 138.72L511.9 138.74L512.4 138.76L512.9 138.78L513.4 138.8L513.9 138.82L514.4 138.84L514.9 138.85L515.4 138.87L515.9 138.88L516.4 138.89L516.9 138.9L517.4 138.91L517.9 138.91L518.4 138.92L518.9 138.93L519.4 138.93L519.9 138.94L520.4 138.94L520.9 138.95L521.4 138.96L521.9 138.96L522.4 138.97L522.9 138.97L523.4 138.97L523.9 138.98L524.4 138.98L524.9 138.99L525.4 138.99L525.9 138.99L526.4 138.99L526.9 139L527.4 139L527.9 139L528.4 139L528.9 139L529.4 139L529.6 139.4Z" fill="url(#gb3)"/>
<path d="M341.9 139L342.4 139L342.9 139L343.4 139L343.9 139L344.4 139L344.9 139L345.4 139L345.9 139L346.4 139L346.9 139L347.4 139L347.9 139L348.4 139L348.9 139L349.4 139L349.9 139L350.4 139L350.9 139L351.4 139L351.9 139L352.4 138.99L352.9 138.97L353.4 138.94L353.9 138.91L354.4 138.87L354.9 138.83L355.4 138.79L355.9 138.75L356.4 138.7L356.9 138.64L357.4 138.56L357.9 138.48L358.4 138.39L358.9 138.28L359.4 138.16L359.9 138.02L360.4 137.83L360.9 137.6L361.4 137.33L361.9 137L362.4 136.63L362.9 136.21L363.4 135.69L363.9 135.01L364.4 134.17L364.9 133.18L365.4 132.03L365.9 130.73L366.4 129.26L366.9 127.46L367.4 125.01L367.9 121.94L368.4 118.3L368.9 114.16L369.4 109.52L369.9 103.12L370.4 95.12L370.9 86.53L371.4 77.86L371.9 68.33L372.4 59.09L372.9 50.98L373.4 43.19L373.9 36.89L374.4 32.85L374.9 29.5L375.4 27.5L375.9 27.81L376.4 30.49L376.9 34.5L377.4 39.74L377.9 47.99L378.4 55.77L378.9 61.66L379.4 67.02L379.9 71.98L380.4 76.62L380.9 81.09L381.4 85.5L381.9 89.82L382.4 93.97L382.9 97.91L383.4 101.57L383.9 104.87L384.4 107.96L384.9 110.93L385.4 113.69L385.9 116.11L386.4 118.09L386.9 119.61L387.4 120.91L387.9 122L388.4 122.89L388.9 123.57L389.4 124.05L389.9 124.33L390.4 124.44L390.9 124.27L391.4 123.85L391.9 123.2L392.4 122.37L392.9 121.4L393.4 120.4L393.9 119.39L394.4 118.41L394.9 117.52L395.4 116.73L395.9 116.1L396.4 115.59L396.9 115.04L397.4 114.46L397.9 113.85L398.4 113.26L398.9 112.67L399.4 112.1L399.9 111.56L400.4 111.04L400.9 110.56L401.4 110.13L401.9 109.74L402.4 109.4L402.9 109.12L403.4 108.91L403.9 108.77L404.4 108.7L404.9 108.71L405.4 108.73L405.9 108.75L406.4 108.77L406.9 108.79L407.4 108.81L407.9 108.83L408.4 108.85L408.9 108.87L409.4 108.89L409.9 108.91L410.4 108.94L410.9 108.96L411.4 108.98L411.9 109L412.4 109.02L412.9 109.06L413.4 109.11L413.9 109.18L414.4 109.25L414.9 109.32L415.4 109.4L415.9 109.47L416.4 109.55L416.9 109.62L417.4 109.68L417.9 109.73L418.4 109.77L418.9 109.79L419.4 109.8L419.9 109.78L420.4 109.75L420.9 109.69L421.4 109.61L421.9 109.51L422.4 109.41L422.9 109.28L423.4 109.15L423.9 109L424.4 108.85L424.9 108.68L425.4 108.52L425.9 108.34L426.4 108.17L426.9 108L427.4 107.82L427.9 107.65L428.4 107.49L428.9 107.32L429.4 107.17L429.9 107.03L430.4 106.89L430.9 106.73L431.4 106.57L431.9 106.4L432.4 106.22L432.9 106.03L433.4 105.84L433.9 105.65L434.4 105.46L434.9 105.28L435.4 105.09L435.9 104.91L436.4 104.74L436.9 104.58L437.4 104.42L437.9 104.28L438.4 104.16L438.9 104.05L439.4 103.96L439.9 103.88L440.4 103.83L440.9 103.8L441.4 103.8L441.9 103.83L442.4 103.89L442.9 103.97L443.4 104.08L443.9 104.2L444.4 104.34L444.9 104.49L445.4 104.64L445.9 104.8L446.4 104.97L446.9 105.14L447.4 105.33L447.9 105.55L448.4 105.8L448.9 106.07L449.4 106.36L449.9 106.66L450.4 106.99L450.9 107.34L451.4 107.7L451.9 108.08L452.4 108.53L452.9 109.05L453.4 109.61L453.9 110.18L454.4 110.73L454.9 111.3L455.4 111.89L455.9 112.48L456.4 113.09L456.9 113.7L457.4 114.32L457.9 114.94L458.4 115.56L458.9 116.17L459.4 116.78L459.9 117.38L460.4 117.97L460.9 118.54L461.4 119.1L461.9 119.65L462.4 120.2L462.9 120.74L463.4 121.29L463.9 121.83L464.4 122.36L464.9 122.89L465.4 123.4L465.9 123.91L466.4 124.41L466.9 124.89L467.4 125.35L467.9 125.8L468.4 126.23L468.9 126.65L469.4 127.06L469.9 127.46L470.4 127.85L470.9 128.24L471.4 128.62L471.9 128.99L472.4 129.35L472.9 129.7L473.4 130.03L473.9 130.36L474.4 130.67L474.9 130.96L475.4 131.24L475.9 131.5L476.4 131.75L476.9 131.99L477.4 132.22L477.9 132.44L478.4 132.66L478.9 132.87L479.4 133.07L479.9 133.26L480.4 133.45L480.9 133.63L481.4 133.81L481.9 133.98L482.4 134.14L482.9 134.3L483.4 134.46L483.9 134.62L484.4 134.77L484.9 134.92L485.4 135.06L485.9 135.21L486.4 135.34L486.9 135.48L487.4 135.61L487.9 135.73L488.4 135.85L488.9 135.97L489.4 136.08L489.9 136.18L490.4 136.28L490.9 136.38L491.4 136.47L491.9 136.56L492.4 136.65L492.9 136.74L493.4 136.83L493.9 136.92L494.4 137L494.9 137.09L495.4 137.17L495.9 137.25L496.4 137.33L496.9 137.4L497.4 137.48L497.9 137.55L498.4 137.62L498.9 137.69L499.4 137.76L499.9 137.82L500.4 137.88L500.9 137.94L501.4 138L501.9 138.05L502.4 138.1L502.9 138.15L503.4 138.2L503.9 138.24L504.4 138.28L504.9 138.31L505.4 138.35L505.9 138.38L506.4 138.42L506.9 138.45L507.4 138.49L507.9 138.52L508.4 138.55L508.9 138.58L509.4 138.61L509.9 138.64L510.4 138.66L510.9 138.69L511.4 138.72L511.9 138.74L512.4 138.76L512.9 138.78L513.4 138.8L513.9 138.82L514.4 138.84L514.9 138.85L515.4 138.87L515.9 138.88L516.4 138.89L516.9 138.9L517.4 138.91L517.9 138.91L518.4 138.92L518.9 138.93L519.4 138.93L519.9 138.94L520.4 138.94L520.9 138.95L521.4 138.96L521.9 138.96L522.4 138.97L522.9 138.97L523.4 138.97L523.9 138.98L524.4 138.98L524.9 138.99L525.4 138.99L525.9 138.99L526.4 138.99L526.9 139L527.4 139L527.9 139L528.4 139L528.9 139L529.4 139" fill="none" stroke="#000" stroke-opacity=".45" stroke-width=".5"/>
<text x="449.2" y="145.5" class="t" font-size="5.05" fill="#111" stroke="#111" stroke-width=".12" textLength="75.1" lengthAdjust="spacingAndGlyphs">20 wt% SASN: Eu/0.5mm LuAG:Ce</text>
<path d="M321.9 173L321.9 172.6L322.4 172.6L322.9 172.6L323.4 172.6L323.9 172.6L324.4 172.6L324.9 172.6L325.4 172.6L325.9 172.6L326.4 172.6L326.9 172.6L327.4 172.6L327.9 172.6L328.4 172.6L328.9 172.6L329.4 172.6L329.9 172.6L330.4 172.6L330.9 172.6L331.4 172.6L331.9 172.6L332.4 172.6L332.9 172.6L333.4 172.6L333.9 172.6L334.4 172.59L334.9 172.58L335.4 172.56L335.9 172.54L336.4 172.51L336.9 172.48L337.4 172.45L337.9 172.42L338.4 172.38L338.9 172.33L339.4 172.27L339.9 172.2L340.4 172.12L340.9 172.03L341.4 171.92L341.9 171.78L342.4 171.59L342.9 171.37L343.4 171.11L343.9 170.81L344.4 170.44L344.9 169.94L345.4 169.32L345.9 168.56L346.4 167.68L346.9 166.68L347.4 165.51L347.9 163.86L348.4 161.71L348.9 159.1L349.4 156.06L349.9 152.56L350.4 147.55L350.9 141.48L351.4 135.23L351.9 128.49L352.4 121.57L352.9 115.51L353.4 109.77L353.9 105.19L354.4 102.32L354.9 100.04L355.4 99.09L355.9 99.99L356.4 102.19L356.9 104.97L357.4 109.32L357.9 114.94L358.4 119.42L358.9 123.15L359.4 126.56L359.9 129.74L360.4 132.77L360.9 135.72L361.4 138.65L361.9 141.51L362.4 144.26L362.9 146.84L363.4 149.22L363.9 151.37L364.4 153.43L364.9 155.38L365.4 157.15L365.9 158.69L366.4 159.93L366.9 160.94L367.4 161.82L367.9 162.56L368.4 163.16L368.9 163.62L369.4 163.94L369.9 164.16L370.4 164.29L370.9 164.34L371.4 164.32L371.9 164.16L372.4 163.82L372.9 163.31L373.4 162.68L373.9 161.96L374.4 161.16L374.9 160.31L375.4 159.41L375.9 158.5L376.4 157.59L376.9 156.7L377.4 155.85L377.9 155.08L378.4 154.4L378.9 153.76L379.4 153.1L379.9 152.43L380.4 151.76L380.9 151.1L381.4 150.47L381.9 149.87L382.4 149.32L382.9 148.84L383.4 148.43L383.9 148.11L384.4 147.89L384.9 147.79L385.4 147.72L385.9 147.66L386.4 147.61L386.9 147.57L387.4 147.53L387.9 147.5L388.4 147.47L388.9 147.45L389.4 147.43L389.9 147.41L390.4 147.39L390.9 147.38L391.4 147.36L391.9 147.35L392.4 147.33L392.9 147.31L393.4 147.29L393.9 147.26L394.4 147.23L394.9 147.2L395.4 147.15L395.9 147.11L396.4 147.05L396.9 146.99L397.4 146.93L397.9 146.85L398.4 146.76L398.9 146.66L399.4 146.54L399.9 146.42L400.4 146.28L400.9 146.13L401.4 145.97L401.9 145.81L402.4 145.64L402.9 145.47L403.4 145.29L403.9 145.11L404.4 144.93L404.9 144.75L405.4 144.57L405.9 144.39L406.4 144.22L406.9 144.05L407.4 143.89L407.9 143.74L408.4 143.59L408.9 143.46L409.4 143.33L409.9 143.22L410.4 143.12L410.9 143.01L411.4 142.9L411.9 142.79L412.4 142.69L412.9 142.58L413.4 142.47L413.9 142.36L414.4 142.26L414.9 142.15L415.4 142.05L415.9 141.96L416.4 141.87L416.9 141.78L417.4 141.7L417.9 141.62L418.4 141.55L418.9 141.49L419.4 141.44L419.9 141.39L420.4 141.35L420.9 141.33L421.4 141.31L421.9 141.3L422.4 141.31L422.9 141.34L423.4 141.38L423.9 141.44L424.4 141.52L424.9 141.6L425.4 141.69L425.9 141.78L426.4 141.88L426.9 142.01L427.4 142.17L427.9 142.35L428.4 142.55L428.9 142.76L429.4 142.99L429.9 143.23L430.4 143.49L430.9 143.74L431.4 144.01L431.9 144.29L432.4 144.6L432.9 144.93L433.4 145.28L433.9 145.66L434.4 146.04L434.9 146.45L435.4 146.87L435.9 147.31L436.4 147.75L436.9 148.21L437.4 148.69L437.9 149.23L438.4 149.81L438.9 150.42L439.4 151.05L439.9 151.67L440.4 152.28L440.9 152.86L441.4 153.4L441.9 153.91L442.4 154.41L442.9 154.9L443.4 155.38L443.9 155.85L444.4 156.32L444.9 156.77L445.4 157.22L445.9 157.66L446.4 158.09L446.9 158.52L447.4 158.93L447.9 159.34L448.4 159.74L448.9 160.14L449.4 160.53L449.9 160.92L450.4 161.3L450.9 161.68L451.4 162.06L451.9 162.42L452.4 162.78L452.9 163.14L453.4 163.48L453.9 163.81L454.4 164.13L454.9 164.43L455.4 164.72L455.9 165L456.4 165.27L456.9 165.53L457.4 165.78L457.9 166.03L458.4 166.27L458.9 166.5L459.4 166.73L459.9 166.95L460.4 167.16L460.9 167.36L461.4 167.56L461.9 167.75L462.4 167.93L462.9 168.1L463.4 168.27L463.9 168.43L464.4 168.58L464.9 168.74L465.4 168.89L465.9 169.03L466.4 169.17L466.9 169.31L467.4 169.44L467.9 169.56L468.4 169.68L468.9 169.79L469.4 169.89L469.9 169.99L470.4 170.08L470.9 170.17L471.4 170.25L471.9 170.33L472.4 170.41L472.9 170.49L473.4 170.57L473.9 170.65L474.4 170.72L474.9 170.8L475.4 170.87L475.9 170.94L476.4 171L476.9 171.07L477.4 171.13L477.9 171.19L478.4 171.25L478.9 171.31L479.4 171.36L479.9 171.42L480.4 171.47L480.9 171.52L481.4 171.56L481.9 171.61L482.4 171.65L482.9 171.68L483.4 171.72L483.9 171.75L484.4 171.78L484.9 171.81L485.4 171.84L485.9 171.86L486.4 171.89L486.9 171.92L487.4 171.94L487.9 171.97L488.4 171.99L488.9 172.02L489.4 172.04L489.9 172.07L490.4 172.09L490.9 172.12L491.4 172.14L491.9 172.16L492.4 172.19L492.9 172.21L493.4 172.23L493.9 172.25L494.4 172.27L494.9 172.29L495.4 172.31L495.9 172.33L496.4 172.35L496.9 172.37L497.4 172.38L497.9 172.4L498.4 172.42L498.9 172.43L499.4 172.45L499.9 172.46L500.4 172.48L500.9 172.49L501.4 172.5L501.9 172.51L502.4 172.53L502.9 172.54L503.4 172.55L503.9 172.56L504.4 172.56L504.9 172.57L505.4 172.58L505.9 172.58L506.4 172.59L506.9 172.59L507.4 172.6L507.9 172.6L508.4 172.6L508.9 172.6L509.4 172.6L509.6 173Z" fill="url(#gb2)"/>
<path d="M321.9 172.6L322.4 172.6L322.9 172.6L323.4 172.6L323.9 172.6L324.4 172.6L324.9 172.6L325.4 172.6L325.9 172.6L326.4 172.6L326.9 172.6L327.4 172.6L327.9 172.6L328.4 172.6L328.9 172.6L329.4 172.6L329.9 172.6L330.4 172.6L330.9 172.6L331.4 172.6L331.9 172.6L332.4 172.6L332.9 172.6L333.4 172.6L333.9 172.6L334.4 172.59L334.9 172.58L335.4 172.56L335.9 172.54L336.4 172.51L336.9 172.48L337.4 172.45L337.9 172.42L338.4 172.38L338.9 172.33L339.4 172.27L339.9 172.2L340.4 172.12L340.9 172.03L341.4 171.92L341.9 171.78L342.4 171.59L342.9 171.37L343.4 171.11L343.9 170.81L344.4 170.44L344.9 169.94L345.4 169.32L345.9 168.56L346.4 167.68L346.9 166.68L347.4 165.51L347.9 163.86L348.4 161.71L348.9 159.1L349.4 156.06L349.9 152.56L350.4 147.55L350.9 141.48L351.4 135.23L351.9 128.49L352.4 121.57L352.9 115.51L353.4 109.77L353.9 105.19L354.4 102.32L354.9 100.04L355.4 99.09L355.9 99.99L356.4 102.19L356.9 104.97L357.4 109.32L357.9 114.94L358.4 119.42L358.9 123.15L359.4 126.56L359.9 129.74L360.4 132.77L360.9 135.72L361.4 138.65L361.9 141.51L362.4 144.26L362.9 146.84L363.4 149.22L363.9 151.37L364.4 153.43L364.9 155.38L365.4 157.15L365.9 158.69L366.4 159.93L366.9 160.94L367.4 161.82L367.9 162.56L368.4 163.16L368.9 163.62L369.4 163.94L369.9 164.16L370.4 164.29L370.9 164.34L371.4 164.32L371.9 164.16L372.4 163.82L372.9 163.31L373.4 162.68L373.9 161.96L374.4 161.16L374.9 160.31L375.4 159.41L375.9 158.5L376.4 157.59L376.9 156.7L377.4 155.85L377.9 155.08L378.4 154.4L378.9 153.76L379.4 153.1L379.9 152.43L380.4 151.76L380.9 151.1L381.4 150.47L381.9 149.87L382.4 149.32L382.9 148.84L383.4 148.43L383.9 148.11L384.4 147.89L384.9 147.79L385.4 147.72L385.9 147.66L386.4 147.61L386.9 147.57L387.4 147.53L387.9 147.5L388.4 147.47L388.9 147.45L389.4 147.43L389.9 147.41L390.4 147.39L390.9 147.38L391.4 147.36L391.9 147.35L392.4 147.33L392.9 147.31L393.4 147.29L393.9 147.26L394.4 147.23L394.9 147.2L395.4 147.15L395.9 147.11L396.4 147.05L396.9 146.99L397.4 146.93L397.9 146.85L398.4 146.76L398.9 146.66L399.4 146.54L399.9 146.42L400.4 146.28L400.9 146.13L401.4 145.97L401.9 145.81L402.4 145.64L402.9 145.47L403.4 145.29L403.9 145.11L404.4 144.93L404.9 144.75L405.4 144.57L405.9 144.39L406.4 144.22L406.9 144.05L407.4 143.89L407.9 143.74L408.4 143.59L408.9 143.46L409.4 143.33L409.9 143.22L410.4 143.12L410.9 143.01L411.4 142.9L411.9 142.79L412.4 142.69L412.9 142.58L413.4 142.47L413.9 142.36L414.4 142.26L414.9 142.15L415.4 142.05L415.9 141.96L416.4 141.87L416.9 141.78L417.4 141.7L417.9 141.62L418.4 141.55L418.9 141.49L419.4 141.44L419.9 141.39L420.4 141.35L420.9 141.33L421.4 141.31L421.9 141.3L422.4 141.31L422.9 141.34L423.4 141.38L423.9 141.44L424.4 141.52L424.9 141.6L425.4 141.69L425.9 141.78L426.4 141.88L426.9 142.01L427.4 142.17L427.9 142.35L428.4 142.55L428.9 142.76L429.4 142.99L429.9 143.23L430.4 143.49L430.9 143.74L431.4 144.01L431.9 144.29L432.4 144.6L432.9 144.93L433.4 145.28L433.9 145.66L434.4 146.04L434.9 146.45L435.4 146.87L435.9 147.31L436.4 147.75L436.9 148.21L437.4 148.69L437.9 149.23L438.4 149.81L438.9 150.42L439.4 151.05L439.9 151.67L440.4 152.28L440.9 152.86L441.4 153.4L441.9 153.91L442.4 154.41L442.9 154.9L443.4 155.38L443.9 155.85L444.4 156.32L444.9 156.77L445.4 157.22L445.9 157.66L446.4 158.09L446.9 158.52L447.4 158.93L447.9 159.34L448.4 159.74L448.9 160.14L449.4 160.53L449.9 160.92L450.4 161.3L450.9 161.68L451.4 162.06L451.9 162.42L452.4 162.78L452.9 163.14L453.4 163.48L453.9 163.81L454.4 164.13L454.9 164.43L455.4 164.72L455.9 165L456.4 165.27L456.9 165.53L457.4 165.78L457.9 166.03L458.4 166.27L458.9 166.5L459.4 166.73L459.9 166.95L460.4 167.16L460.9 167.36L461.4 167.56L461.9 167.75L462.4 167.93L462.9 168.1L463.4 168.27L463.9 168.43L464.4 168.58L464.9 168.74L465.4 168.89L465.9 169.03L466.4 169.17L466.9 169.31L467.4 169.44L467.9 169.56L468.4 169.68L468.9 169.79L469.4 169.89L469.9 169.99L470.4 170.08L470.9 170.17L471.4 170.25L471.9 170.33L472.4 170.41L472.9 170.49L473.4 170.57L473.9 170.65L474.4 170.72L474.9 170.8L475.4 170.87L475.9 170.94L476.4 171L476.9 171.07L477.4 171.13L477.9 171.19L478.4 171.25L478.9 171.31L479.4 171.36L479.9 171.42L480.4 171.47L480.9 171.52L481.4 171.56L481.9 171.61L482.4 171.65L482.9 171.68L483.4 171.72L483.9 171.75L484.4 171.78L484.9 171.81L485.4 171.84L485.9 171.86L486.4 171.89L486.9 171.92L487.4 171.94L487.9 171.97L488.4 171.99L488.9 172.02L489.4 172.04L489.9 172.07L490.4 172.09L490.9 172.12L491.4 172.14L491.9 172.16L492.4 172.19L492.9 172.21L493.4 172.23L493.9 172.25L494.4 172.27L494.9 172.29L495.4 172.31L495.9 172.33L496.4 172.35L496.9 172.37L497.4 172.38L497.9 172.4L498.4 172.42L498.9 172.43L499.4 172.45L499.9 172.46L500.4 172.48L500.9 172.49L501.4 172.5L501.9 172.51L502.4 172.53L502.9 172.54L503.4 172.55L503.9 172.56L504.4 172.56L504.9 172.57L505.4 172.58L505.9 172.58L506.4 172.59L506.9 172.59L507.4 172.6L507.9 172.6L508.4 172.6L508.9 172.6L509.4 172.6" fill="none" stroke="#000" stroke-opacity=".45" stroke-width=".5"/>
<text x="431.4" y="179.5" class="t" font-size="5.05" fill="#111" stroke="#111" stroke-width=".12" textLength="70.6" lengthAdjust="spacingAndGlyphs">20 wt% SASN: Eu/1mm LuAG:Ce</text>
<path d="M301.9 206.6L301.9 206.2L302.4 206.2L302.9 206.2L303.4 206.2L303.9 206.2L304.4 206.2L304.9 206.2L305.4 206.2L305.9 206.2L306.4 206.2L306.9 206.2L307.4 206.2L307.9 206.2L308.4 206.2L308.9 206.2L309.4 206.2L309.9 206.2L310.4 206.2L310.9 206.2L311.4 206.2L311.9 206.2L312.4 206.2L312.9 206.2L313.4 206.2L313.9 206.19L314.4 206.18L314.9 206.16L315.4 206.14L315.9 206.12L316.4 206.09L316.9 206.06L317.4 206.03L317.9 205.99L318.4 205.93L318.9 205.88L319.4 205.81L319.9 205.73L320.4 205.63L320.9 205.51L321.4 205.34L321.9 205.14L322.4 204.9L322.9 204.62L323.4 204.26L323.9 203.79L324.4 203.19L324.9 202.46L325.4 201.61L325.9 200.64L326.4 199.38L326.9 197.61L327.4 195.38L327.9 192.73L328.4 189.7L328.9 185.42L329.4 179.97L329.9 174.27L330.4 168.14L330.9 161.85L331.4 156.37L331.9 151.23L332.4 147.46L332.9 145L333.4 143.24L333.9 143.03L334.4 144.32L334.9 146.49L335.4 149.18L335.9 153.63L336.4 158.28L336.9 161.72L337.4 164.81L337.9 167.67L338.4 170.35L338.9 172.95L339.4 175.52L339.9 178.07L340.4 180.55L340.9 182.93L341.4 185.16L341.9 187.2L342.4 189.08L342.9 190.9L343.4 192.61L343.9 194.14L344.4 195.46L344.9 196.51L345.4 197.43L345.9 198.26L346.4 198.98L346.9 199.61L347.4 200.12L347.9 200.52L348.4 200.86L348.9 201.14L349.4 201.35L349.9 201.5L350.4 201.59L350.9 201.61L351.4 201.58L351.9 201.42L352.4 201.13L352.9 200.72L353.4 200.2L353.9 199.58L354.4 198.89L354.9 198.13L355.4 197.33L355.9 196.49L356.4 195.64L356.9 194.81L357.4 194L357.9 193.24L358.4 192.53L358.9 191.87L359.4 191.21L359.9 190.54L360.4 189.89L360.9 189.26L361.4 188.65L361.9 188.09L362.4 187.51L362.9 186.92L363.4 186.34L363.9 185.81L364.4 185.35L364.9 184.99L365.4 184.76L365.9 184.6L366.4 184.45L366.9 184.32L367.4 184.21L367.9 184.11L368.4 184.03L368.9 183.96L369.4 183.91L369.9 183.87L370.4 183.83L370.9 183.8L371.4 183.77L371.9 183.75L372.4 183.72L372.9 183.7L373.4 183.68L373.9 183.65L374.4 183.63L374.9 183.6L375.4 183.58L375.9 183.54L376.4 183.5L376.9 183.46L377.4 183.41L377.9 183.35L378.4 183.28L378.9 183.19L379.4 183.08L379.9 182.96L380.4 182.84L380.9 182.7L381.4 182.55L381.9 182.38L382.4 182.22L382.9 182.04L383.4 181.85L383.9 181.66L384.4 181.46L384.9 181.26L385.4 181.05L385.9 180.84L386.4 180.62L386.9 180.4L387.4 180.18L387.9 179.96L388.4 179.74L388.9 179.51L389.4 179.26L389.9 178.97L390.4 178.66L390.9 178.33L391.4 177.99L391.9 177.62L392.4 177.25L392.9 176.86L393.4 176.47L393.9 176.07L394.4 175.67L394.9 175.27L395.4 174.88L395.9 174.49L396.4 174.11L396.9 173.74L397.4 173.39L397.9 173.06L398.4 172.75L398.9 172.46L399.4 172.19L399.9 171.96L400.4 171.75L400.9 171.58L401.4 171.45L401.9 171.32L402.4 171.2L402.9 171.1L403.4 171.03L403.9 171L404.4 171.02L404.9 171.08L405.4 171.18L405.9 171.31L406.4 171.46L406.9 171.64L407.4 171.84L407.9 172.05L408.4 172.27L408.9 172.5L409.4 172.73L409.9 172.96L410.4 173.19L410.9 173.45L411.4 173.74L411.9 174.06L412.4 174.4L412.9 174.76L413.4 175.13L413.9 175.52L414.4 175.92L414.9 176.34L415.4 176.8L415.9 177.29L416.4 177.81L416.9 178.35L417.4 178.92L417.9 179.49L418.4 180.08L418.9 180.68L419.4 181.27L419.9 181.87L420.4 182.45L420.9 183.02L421.4 183.57L421.9 184.1L422.4 184.63L422.9 185.15L423.4 185.68L423.9 186.2L424.4 186.72L424.9 187.23L425.4 187.75L425.9 188.25L426.4 188.75L426.9 189.24L427.4 189.73L427.9 190.2L428.4 190.67L428.9 191.12L429.4 191.57L429.9 192.01L430.4 192.45L430.9 192.88L431.4 193.32L431.9 193.74L432.4 194.16L432.9 194.57L433.4 194.97L433.9 195.36L434.4 195.74L434.9 196.1L435.4 196.45L435.9 196.78L436.4 197.1L436.9 197.4L437.4 197.7L437.9 197.99L438.4 198.27L438.9 198.54L439.4 198.81L439.9 199.06L440.4 199.31L440.9 199.55L441.4 199.78L441.9 200.01L442.4 200.22L442.9 200.43L443.4 200.62L443.9 200.81L444.4 200.99L444.9 201.17L445.4 201.34L445.9 201.5L446.4 201.66L446.9 201.82L447.4 201.96L447.9 202.11L448.4 202.25L448.9 202.39L449.4 202.52L449.9 202.65L450.4 202.78L450.9 202.9L451.4 203.02L451.9 203.14L452.4 203.26L452.9 203.38L453.4 203.5L453.9 203.61L454.4 203.72L454.9 203.83L455.4 203.93L455.9 204.03L456.4 204.12L456.9 204.21L457.4 204.29L457.9 204.36L458.4 204.43L458.9 204.49L459.4 204.55L459.9 204.6L460.4 204.66L460.9 204.71L461.4 204.76L461.9 204.8L462.4 204.85L462.9 204.89L463.4 204.93L463.9 204.97L464.4 205.01L464.9 205.05L465.4 205.09L465.9 205.13L466.4 205.17L466.9 205.21L467.4 205.25L467.9 205.29L468.4 205.33L468.9 205.36L469.4 205.4L469.9 205.44L470.4 205.48L470.9 205.52L471.4 205.55L471.9 205.59L472.4 205.62L472.9 205.66L473.4 205.69L473.9 205.72L474.4 205.75L474.9 205.78L475.4 205.81L475.9 205.84L476.4 205.86L476.9 205.89L477.4 205.91L477.9 205.93L478.4 205.96L478.9 205.97L479.4 205.99L479.9 206.01L480.4 206.02L480.9 206.04L481.4 206.05L481.9 206.07L482.4 206.08L482.9 206.09L483.4 206.11L483.9 206.12L484.4 206.13L484.9 206.14L485.4 206.15L485.9 206.16L486.4 206.17L486.9 206.18L487.4 206.19L487.9 206.19L488.4 206.2L488.9 206.2L489.4 206.2L489.6 206.6Z" fill="url(#gb1)"/>
<path d="M301.9 206.2L302.4 206.2L302.9 206.2L303.4 206.2L303.9 206.2L304.4 206.2L304.9 206.2L305.4 206.2L305.9 206.2L306.4 206.2L306.9 206.2L307.4 206.2L307.9 206.2L308.4 206.2L308.9 206.2L309.4 206.2L309.9 206.2L310.4 206.2L310.9 206.2L311.4 206.2L311.9 206.2L312.4 206.2L312.9 206.2L313.4 206.2L313.9 206.19L314.4 206.18L314.9 206.16L315.4 206.14L315.9 206.12L316.4 206.09L316.9 206.06L317.4 206.03L317.9 205.99L318.4 205.93L318.9 205.88L319.4 205.81L319.9 205.73L320.4 205.63L320.9 205.51L321.4 205.34L321.9 205.14L322.4 204.9L322.9 204.62L323.4 204.26L323.9 203.79L324.4 203.19L324.9 202.46L325.4 201.61L325.9 200.64L326.4 199.38L326.9 197.61L327.4 195.38L327.9 192.73L328.4 189.7L328.9 185.42L329.4 179.97L329.9 174.27L330.4 168.14L330.9 161.85L331.4 156.37L331.9 151.23L332.4 147.46L332.9 145L333.4 143.24L333.9 143.03L334.4 144.32L334.9 146.49L335.4 149.18L335.9 153.63L336.4 158.28L336.9 161.72L337.4 164.81L337.9 167.67L338.4 170.35L338.9 172.95L339.4 175.52L339.9 178.07L340.4 180.55L340.9 182.93L341.4 185.16L341.9 187.2L342.4 189.08L342.9 190.9L343.4 192.61L343.9 194.14L344.4 195.46L344.9 196.51L345.4 197.43L345.9 198.26L346.4 198.98L346.9 199.61L347.4 200.12L347.9 200.52L348.4 200.86L348.9 201.14L349.4 201.35L349.9 201.5L350.4 201.59L350.9 201.61L351.4 201.58L351.9 201.42L352.4 201.13L352.9 200.72L353.4 200.2L353.9 199.58L354.4 198.89L354.9 198.13L355.4 197.33L355.9 196.49L356.4 195.64L356.9 194.81L357.4 194L357.9 193.24L358.4 192.53L358.9 191.87L359.4 191.21L359.9 190.54L360.4 189.89L360.9 189.26L361.4 188.65L361.9 188.09L362.4 187.51L362.9 186.92L363.4 186.34L363.9 185.81L364.4 185.35L364.9 184.99L365.4 184.76L365.9 184.6L366.4 184.45L366.9 184.32L367.4 184.21L367.9 184.11L368.4 184.03L368.9 183.96L369.4 183.91L369.9 183.87L370.4 183.83L370.9 183.8L371.4 183.77L371.9 183.75L372.4 183.72L372.9 183.7L373.4 183.68L373.9 183.65L374.4 183.63L374.9 183.6L375.4 183.58L375.9 183.54L376.4 183.5L376.9 183.46L377.4 183.41L377.9 183.35L378.4 183.28L378.9 183.19L379.4 183.08L379.9 182.96L380.4 182.84L380.9 182.7L381.4 182.55L381.9 182.38L382.4 182.22L382.9 182.04L383.4 181.85L383.9 181.66L384.4 181.46L384.9 181.26L385.4 181.05L385.9 180.84L386.4 180.62L386.9 180.4L387.4 180.18L387.9 179.96L388.4 179.74L388.9 179.51L389.4 179.26L389.9 178.97L390.4 178.66L390.9 178.33L391.4 177.99L391.9 177.62L392.4 177.25L392.9 176.86L393.4 176.47L393.9 176.07L394.4 175.67L394.9 175.27L395.4 174.88L395.9 174.49L396.4 174.11L396.9 173.74L397.4 173.39L397.9 173.06L398.4 172.75L398.9 172.46L399.4 172.19L399.9 171.96L400.4 171.75L400.9 171.58L401.4 171.45L401.9 171.32L402.4 171.2L402.9 171.1L403.4 171.03L403.9 171L404.4 171.02L404.9 171.08L405.4 171.18L405.9 171.31L406.4 171.46L406.9 171.64L407.4 171.84L407.9 172.05L408.4 172.27L408.9 172.5L409.4 172.73L409.9 172.96L410.4 173.19L410.9 173.45L411.4 173.74L411.9 174.06L412.4 174.4L412.9 174.76L413.4 175.13L413.9 175.52L414.4 175.92L414.9 176.34L415.4 176.8L415.9 177.29L416.4 177.81L416.9 178.35L417.4 178.92L417.9 179.49L418.4 180.08L418.9 180.68L419.4 181.27L419.9 181.87L420.4 182.45L420.9 183.02L421.4 183.57L421.9 184.1L422.4 184.63L422.9 185.15L423.4 185.68L423.9 186.2L424.4 186.72L424.9 187.23L425.4 187.75L425.9 188.25L426.4 188.75L426.9 189.24L427.4 189.73L427.9 190.2L428.4 190.67L428.9 191.12L429.4 191.57L429.9 192.01L430.4 192.45L430.9 192.88L431.4 193.32L431.9 193.74L432.4 194.16L432.9 194.57L433.4 194.97L433.9 195.36L434.4 195.74L434.9 196.1L435.4 196.45L435.9 196.78L436.4 197.1L436.9 197.4L437.4 197.7L437.9 197.99L438.4 198.27L438.9 198.54L439.4 198.81L439.9 199.06L440.4 199.31L440.9 199.55L441.4 199.78L441.9 200.01L442.4 200.22L442.9 200.43L443.4 200.62L443.9 200.81L444.4 200.99L444.9 201.17L445.4 201.34L445.9 201.5L446.4 201.66L446.9 201.82L447.4 201.96L447.9 202.11L448.4 202.25L448.9 202.39L449.4 202.52L449.9 202.65L450.4 202.78L450.9 202.9L451.4 203.02L451.9 203.14L452.4 203.26L452.9 203.38L453.4 203.5L453.9 203.61L454.4 203.72L454.9 203.83L455.4 203.93L455.9 204.03L456.4 204.12L456.9 204.21L457.4 204.29L457.9 204.36L458.4 204.43L458.9 204.49L459.4 204.55L459.9 204.6L460.4 204.66L460.9 204.71L461.4 204.76L461.9 204.8L462.4 204.85L462.9 204.89L463.4 204.93L463.9 204.97L464.4 205.01L464.9 205.05L465.4 205.09L465.9 205.13L466.4 205.17L466.9 205.21L467.4 205.25L467.9 205.29L468.4 205.33L468.9 205.36L469.4 205.4L469.9 205.44L470.4 205.48L470.9 205.52L471.4 205.55L471.9 205.59L472.4 205.62L472.9 205.66L473.4 205.69L473.9 205.72L474.4 205.75L474.9 205.78L475.4 205.81L475.9 205.84L476.4 205.86L476.9 205.89L477.4 205.91L477.9 205.93L478.4 205.96L478.9 205.97L479.4 205.99L479.9 206.01L480.4 206.02L480.9 206.04L481.4 206.05L481.9 206.07L482.4 206.08L482.9 206.09L483.4 206.11L483.9 206.12L484.4 206.13L484.9 206.14L485.4 206.15L485.9 206.16L486.4 206.17L486.9 206.18L487.4 206.19L487.9 206.19L488.4 206.2L488.9 206.2L489.4 206.2" fill="none" stroke="#000" stroke-opacity=".45" stroke-width=".5"/>
<text x="409" y="212.8" class="t" font-size="5.05" fill="#111" stroke="#111" stroke-width=".12" textLength="75" lengthAdjust="spacingAndGlyphs">20 wt% SASN: Eu/1.5mm LuAG:Ce</text>
<path d="M291.5 223H480" stroke="#333" stroke-width=".9" fill="none"/>
<path d="M292 223v1M296.7 223v1M301.4 223v2M306.1 223v1M310.8 223v1M315.5 223v1M320.2 223v1M324.8 223v2M329.5 223v1M334.2 223v1M338.9 223v1M343.6 223v1M348.3 223v2M353 223v1M357.7 223v1M362.4 223v1M367 223v1M371.7 223v2M376.4 223v1M381.1 223v1M385.8 223v1M390.5 223v1M395.2 223v2M399.9 223v1M404.6 223v1M409.2 223v1M413.9 223v1M418.6 223v2M423.3 223v1M428 223v1M432.7 223v1M437.4 223v1M442.1 223v2M446.8 223v1M451.4 223v1M456.1 223v1M460.8 223v1M465.5 223v2M470.2 223v1M474.9 223v1M479.6 223v1" stroke="#222" stroke-width=".75" fill="none"/>
<text x="301.4" y="232" class="t" font-size="5.1" fill="#222" stroke="#222" stroke-width=".12" text-anchor="middle">400</text>
<text x="324.8" y="232" class="t" font-size="5.1" fill="#222" stroke="#222" stroke-width=".12" text-anchor="middle">450</text>
<text x="348.3" y="232" class="t" font-size="5.1" fill="#222" stroke="#222" stroke-width=".12" text-anchor="middle">500</text>
<text x="371.7" y="232" class="t" font-size="5.1" fill="#222" stroke="#222" stroke-width=".12" text-anchor="middle">550</text>
<text x="395.2" y="232" class="t" font-size="5.1" fill="#222" stroke="#222" stroke-width=".12" text-anchor="middle">600</text>
<text x="418.6" y="232" class="t" font-size="5.1" fill="#222" stroke="#222" stroke-width=".12" text-anchor="middle">650</text>
<text x="442.1" y="232" class="t" font-size="5.1" fill="#222" stroke="#222" stroke-width=".12" text-anchor="middle">700</text>
<text x="465.5" y="232" class="t" font-size="5.1" fill="#222" stroke="#222" stroke-width=".12" text-anchor="middle">750</text>
<text x="386.1" y="238" class="t" font-size="5.05" fill="#111" stroke="#111" stroke-width=".12" text-anchor="middle">Wavelength (nm)</text>
<path d="M291.9 223h-1.8M291.9 218.5h-1M291.9 214h-1M291.9 209.5h-1M291.9 205h-1M291.9 200.5h-1.8M291.9 196h-1M291.9 191.5h-1M291.9 187h-1M291.9 182.5h-1M291.9 178h-1.8M291.9 173.5h-1M291.9 169h-1M291.9 164.4h-1M291.9 159.9h-1M291.9 155.4h-1.8M291.9 150.9h-1M291.9 146.4h-1M291.9 141.9h-1M291.9 137.4h-1M291.9 132.9h-1.8M291.9 128.4h-1M291.9 123.9h-1M291.9 119.4h-1M291.9 114.9h-1M291.9 110.4h-1.8" stroke="#222" stroke-width=".8" fill="none"/>
<text transform="translate(287.7 174) rotate(-90)" class="t" font-size="5.1" fill="#222" stroke="#222" stroke-width=".12" text-anchor="middle">Intensity (a.u.)</text>
<text x="294.1" y="20.5" class="t" font-size="16" fill="#111">(b)</text>
<path d="M74.5 356.3H262.7" stroke="#dadada" stroke-width=".7" fill="none"/>
<path d="M262.7 244.3V356.3" stroke="#dcdcdc" stroke-width=".8" fill="none"/>
<path d="M14.3 457.1L14.3 343.7L74.5 244.3L74.5 356.3Z" fill="#f4efbe"/>
<path d="M14.3 457.1V343.7L74.5 244.3H262.7" stroke="#555" stroke-width=".9" fill="none" stroke-linejoin="miter"/>
<path d="M202.4 457.1L262.7 356.3" stroke="#333" stroke-width=".75" fill="none"/>
<path d="M64.5 373.5L64.5 373.1L65 373.1L65.5 373.1L66 373.1L66.5 373.1L67 373.1L67.5 373.1L68 373.1L68.5 373.1L69 373.1L69.5 373.1L70 373.1L70.5 373.1L71 373.1L71.5 373.1L72 373.1L72.5 373.1L73 373.09L73.5 373.08L74 373.06L74.5 373.03L75 372.99L75.5 372.95L76 372.91L76.5 372.87L77 372.82L77.5 372.77L78 372.7L78.5 372.62L79 372.53L79.5 372.43L80 372.32L80.5 372.19L81 372.03L81.5 371.82L82 371.56L82.5 371.26L83 370.91L83.5 370.51L84 370.05L84.5 369.45L85 368.69L85.5 367.77L86 366.7L86.5 365.47L87 364.08L87.5 362.5L88 360.35L88.5 357.57L89 354.2L89.5 350.3L90 345.91L90.5 340.52L91 333.16L91.5 324.74L92 316.23L92.5 307.04L93 297.51L93.5 288.98L94 280.99L94.5 273.83L95 268.9L95.5 265.24L96 262.5L96.5 261.62L97 263.3L97.5 266.82L98 271.13L98.5 278.23L99 286.71L99.5 293.22L100 298.8L100.5 303.93L101 308.72L101.5 313.3L102 317.79L102.5 322.24L103 326.59L103.5 330.75L104 334.66L104.5 338.25L105 341.51L105.5 344.65L106 347.62L106.5 350.31L107 352.64L107.5 354.51L108 356.05L108.5 357.4L109 358.55L109.5 359.5L110 360.25L110.5 360.79L111 361.19L111.5 361.48L112 361.65L112.5 361.7L113 361.49L113.5 361.01L114 360.34L114.5 359.53L115 358.6L115.5 357.59L116 356.52L116.5 355.43L117 354.34L117.5 353.28L118 352.28L118.5 351.38L119 350.61L119.5 350.01L120 349.45L120.5 348.88L121 348.31L121.5 347.74L122 347.18L122.5 346.64L123 346.11L123.5 345.6L124 345.12L124.5 344.68L125 344.27L125.5 343.9L126 343.58L126.5 343.32L127 343.11L127.5 342.97L128 342.9L128.5 342.9L129 342.94L129.5 342.98L130 343.01L130.5 343.05L131 343.1L131.5 343.14L132 343.18L132.5 343.22L133 343.27L133.5 343.31L134 343.35L134.5 343.39L135 343.43L135.5 343.46L136 343.5L136.5 343.54L137 343.59L137.5 343.66L138 343.73L138.5 343.82L139 343.91L139.5 344L140 344.08L140.5 344.17L141 344.24L141.5 344.31L142 344.35L142.5 344.39L143 344.4L143.5 344.38L144 344.33L144.5 344.25L145 344.14L145.5 344.01L146 343.85L146.5 343.67L147 343.48L147.5 343.27L148 343.04L148.5 342.81L149 342.57L149.5 342.33L150 342.09L150.5 341.85L151 341.61L151.5 341.38L152 341.16L152.5 340.94L153 340.71L153.5 340.47L154 340.22L154.5 339.97L155 339.7L155.5 339.43L156 339.16L156.5 338.88L157 338.61L157.5 338.33L158 338.06L158.5 337.79L159 337.53L159.5 337.28L160 337.04L160.5 336.81L161 336.6L161.5 336.39L162 336.17L162.5 335.94L163 335.71L163.5 335.48L164 335.26L164.5 335.06L165 334.88L165.5 334.72L166 334.61L166.5 334.53L167 334.5L167.5 334.53L168 334.62L168.5 334.76L169 334.94L169.5 335.14L170 335.36L170.5 335.59L171 335.83L171.5 336.14L172 336.49L172.5 336.87L173 337.29L173.5 337.72L174 338.16L174.5 338.62L175 339.12L175.5 339.65L176 340.2L176.5 340.77L177 341.37L177.5 341.98L178 342.61L178.5 343.25L179 343.9L179.5 344.55L180 345.2L180.5 345.85L181 346.5L181.5 347.15L182 347.82L182.5 348.52L183 349.24L183.5 349.97L184 350.7L184.5 351.43L185 352.15L185.5 352.85L186 353.52L186.5 354.16L187 354.76L187.5 355.33L188 355.87L188.5 356.4L189 356.91L189.5 357.4L190 357.88L190.5 358.35L191 358.81L191.5 359.26L192 359.71L192.5 360.16L193 360.6L193.5 361.05L194 361.48L194.5 361.91L195 362.33L195.5 362.74L196 363.14L196.5 363.53L197 363.9L197.5 364.26L198 364.6L198.5 364.92L199 365.22L199.5 365.52L200 365.81L200.5 366.09L201 366.36L201.5 366.62L202 366.88L202.5 367.12L203 367.36L203.5 367.59L204 367.82L204.5 368.03L205 368.24L205.5 368.43L206 368.62L206.5 368.81L207 368.99L207.5 369.17L208 369.35L208.5 369.52L209 369.68L209.5 369.84L210 370L210.5 370.14L211 370.28L211.5 370.41L212 370.54L212.5 370.65L213 370.75L213.5 370.85L214 370.94L214.5 371.02L215 371.11L215.5 371.18L216 371.26L216.5 371.33L217 371.39L217.5 371.46L218 371.52L218.5 371.58L219 371.64L219.5 371.69L220 371.74L220.5 371.8L221 371.85L221.5 371.9L222 371.95L222.5 372L223 372.05L223.5 372.1L224 372.15L224.5 372.2L225 372.25L225.5 372.3L226 372.35L226.5 372.39L227 372.44L227.5 372.48L228 372.53L228.5 372.57L229 372.61L229.5 372.64L230 372.68L230.5 372.71L231 372.74L231.5 372.77L232 372.8L232.5 372.82L233 372.85L233.5 372.87L234 372.88L234.5 372.89L235 372.91L235.5 372.92L236 372.93L236.5 372.94L237 372.94L237.5 372.95L238 372.96L238.5 372.97L239 372.98L239.5 372.99L240 373L240.5 373L241 373.01L241.5 373.02L242 373.03L242.5 373.03L243 373.04L243.5 373.05L244 373.05L244.5 373.06L245 373.06L245.5 373.07L246 373.07L246.5 373.08L247 373.08L247.5 373.08L248 373.09L248.5 373.09L249 373.09L249.5 373.09L250 373.1L250.5 373.1L251 373.1L251.5 373.1L252 373.1L252.5 373.1L252.6 373.5Z" fill="url(#gc3)"/>
<path d="M64.5 373.1L65 373.1L65.5 373.1L66 373.1L66.5 373.1L67 373.1L67.5 373.1L68 373.1L68.5 373.1L69 373.1L69.5 373.1L70 373.1L70.5 373.1L71 373.1L71.5 373.1L72 373.1L72.5 373.1L73 373.09L73.5 373.08L74 373.06L74.5 373.03L75 372.99L75.5 372.95L76 372.91L76.5 372.87L77 372.82L77.5 372.77L78 372.7L78.5 372.62L79 372.53L79.5 372.43L80 372.32L80.5 372.19L81 372.03L81.5 371.82L82 371.56L82.5 371.26L83 370.91L83.5 370.51L84 370.05L84.5 369.45L85 368.69L85.5 367.77L86 366.7L86.5 365.47L87 364.08L87.5 362.5L88 360.35L88.5 357.57L89 354.2L89.5 350.3L90 345.91L90.5 340.52L91 333.16L91.5 324.74L92 316.23L92.5 307.04L93 297.51L93.5 288.98L94 280.99L94.5 273.83L95 268.9L95.5 265.24L96 262.5L96.5 261.62L97 263.3L97.5 266.82L98 271.13L98.5 278.23L99 286.71L99.5 293.22L100 298.8L100.5 303.93L101 308.72L101.5 313.3L102 317.79L102.5 322.24L103 326.59L103.5 330.75L104 334.66L104.5 338.25L105 341.51L105.5 344.65L106 347.62L106.5 350.31L107 352.64L107.5 354.51L108 356.05L108.5 357.4L109 358.55L109.5 359.5L110 360.25L110.5 360.79L111 361.19L111.5 361.48L112 361.65L112.5 361.7L113 361.49L113.5 361.01L114 360.34L114.5 359.53L115 358.6L115.5 357.59L116 356.52L116.5 355.43L117 354.34L117.5 353.28L118 352.28L118.5 351.38L119 350.61L119.5 350.01L120 349.45L120.5 348.88L121 348.31L121.5 347.74L122 347.18L122.5 346.64L123 346.11L123.5 345.6L124 345.12L124.5 344.68L125 344.27L125.5 343.9L126 343.58L126.5 343.32L127 343.11L127.5 342.97L128 342.9L128.5 342.9L129 342.94L129.5 342.98L130 343.01L130.5 343.05L131 343.1L131.5 343.14L132 343.18L132.5 343.22L133 343.27L133.5 343.31L134 343.35L134.5 343.39L135 343.43L135.5 343.46L136 343.5L136.5 343.54L137 343.59L137.5 343.66L138 343.73L138.5 343.82L139 343.91L139.5 344L140 344.08L140.5 344.17L141 344.24L141.5 344.31L142 344.35L142.5 344.39L143 344.4L143.5 344.38L144 344.33L144.5 344.25L145 344.14L145.5 344.01L146 343.85L146.5 343.67L147 343.48L147.5 343.27L148 343.04L148.5 342.81L149 342.57L149.5 342.33L150 342.09L150.5 341.85L151 341.61L151.5 341.38L152 341.16L152.5 340.94L153 340.71L153.5 340.47L154 340.22L154.5 339.97L155 339.7L155.5 339.43L156 339.16L156.5 338.88L157 338.61L157.5 338.33L158 338.06L158.5 337.79L159 337.53L159.5 337.28L160 337.04L160.5 336.81L161 336.6L161.5 336.39L162 336.17L162.5 335.94L163 335.71L163.5 335.48L164 335.26L164.5 335.06L165 334.88L165.5 334.72L166 334.61L166.5 334.53L167 334.5L167.5 334.53L168 334.62L168.5 334.76L169 334.94L169.5 335.14L170 335.36L170.5 335.59L171 335.83L171.5 336.14L172 336.49L172.5 336.87L173 337.29L173.5 337.72L174 338.16L174.5 338.62L175 339.12L175.5 339.65L176 340.2L176.5 340.77L177 341.37L177.5 341.98L178 342.61L178.5 343.25L179 343.9L179.5 344.55L180 345.2L180.5 345.85L181 346.5L181.5 347.15L182 347.82L182.5 348.52L183 349.24L183.5 349.97L184 350.7L184.5 351.43L185 352.15L185.5 352.85L186 353.52L186.5 354.16L187 354.76L187.5 355.33L188 355.87L188.5 356.4L189 356.91L189.5 357.4L190 357.88L190.5 358.35L191 358.81L191.5 359.26L192 359.71L192.5 360.16L193 360.6L193.5 361.05L194 361.48L194.5 361.91L195 362.33L195.5 362.74L196 363.14L196.5 363.53L197 363.9L197.5 364.26L198 364.6L198.5 364.92L199 365.22L199.5 365.52L200 365.81L200.5 366.09L201 366.36L201.5 366.62L202 366.88L202.5 367.12L203 367.36L203.5 367.59L204 367.82L204.5 368.03L205 368.24L205.5 368.43L206 368.62L206.5 368.81L207 368.99L207.5 369.17L208 369.35L208.5 369.52L209 369.68L209.5 369.84L210 370L210.5 370.14L211 370.28L211.5 370.41L212 370.54L212.5 370.65L213 370.75L213.5 370.85L214 370.94L214.5 371.02L215 371.11L215.5 371.18L216 371.26L216.5 371.33L217 371.39L217.5 371.46L218 371.52L218.5 371.58L219 371.64L219.5 371.69L220 371.74L220.5 371.8L221 371.85L221.5 371.9L222 371.95L222.5 372L223 372.05L223.5 372.1L224 372.15L224.5 372.2L225 372.25L225.5 372.3L226 372.35L226.5 372.39L227 372.44L227.5 372.48L228 372.53L228.5 372.57L229 372.61L229.5 372.64L230 372.68L230.5 372.71L231 372.74L231.5 372.77L232 372.8L232.5 372.82L233 372.85L233.5 372.87L234 372.88L234.5 372.89L235 372.91L235.5 372.92L236 372.93L236.5 372.94L237 372.94L237.5 372.95L238 372.96L238.5 372.97L239 372.98L239.5 372.99L240 373L240.5 373L241 373.01L241.5 373.02L242 373.03L242.5 373.03L243 373.04L243.5 373.05L244 373.05L244.5 373.06L245 373.06L245.5 373.07L246 373.07L246.5 373.08L247 373.08L247.5 373.08L248 373.09L248.5 373.09L249 373.09L249.5 373.09L250 373.1L250.5 373.1L251 373.1L251.5 373.1L252 373.1L252.5 373.1" fill="none" stroke="#000" stroke-opacity=".45" stroke-width=".5"/>
<text x="170.9" y="379.3" class="t" font-size="5.05" fill="#111" stroke="#111" stroke-width=".12" textLength="76.4" lengthAdjust="spacingAndGlyphs">30 wt% SASN: Eu/0.5 mm LuAG:Ce</text>
<path d="M44.4 407.1L44.4 406.7L44.9 406.7L45.4 406.7L45.9 406.7L46.4 406.7L46.9 406.7L47.4 406.7L47.9 406.7L48.4 406.7L48.9 406.7L49.4 406.7L49.9 406.7L50.4 406.7L50.9 406.7L51.4 406.7L51.9 406.7L52.4 406.7L52.9 406.7L53.4 406.7L53.9 406.7L54.4 406.7L54.9 406.7L55.4 406.7L55.9 406.7L56.4 406.69L56.9 406.67L57.4 406.65L57.9 406.62L58.4 406.59L58.9 406.56L59.4 406.53L59.9 406.49L60.4 406.45L60.9 406.39L61.4 406.33L61.9 406.26L62.4 406.17L62.9 406.08L63.4 405.95L63.9 405.79L64.4 405.6L64.9 405.36L65.4 405.09L65.9 404.78L66.4 404.37L66.9 403.84L67.4 403.19L67.9 402.42L68.4 401.51L68.9 400.49L69.4 399.27L69.9 397.56L70.4 395.37L70.9 392.72L71.4 389.68L71.9 386.14L72.4 381.11L72.9 375.07L73.4 368.86L73.9 362.18L74.4 355.27L74.9 349.2L75.4 343.44L75.9 338.69L76.4 335.69L76.9 333.29L77.4 332.04L77.9 332.59L78.4 334.62L78.9 337.39L79.4 341.32L79.9 346.99L80.4 351.85L80.9 355.71L81.4 359.24L81.9 362.51L82.4 365.61L82.9 368.63L83.4 371.63L83.9 374.56L84.4 377.39L84.9 380.07L85.4 382.55L85.9 384.78L86.4 386.9L86.9 388.93L87.4 390.79L87.9 392.42L88.4 393.76L88.9 394.84L89.4 395.78L89.9 396.59L90.4 397.26L90.9 397.79L91.4 398.17L91.9 398.44L92.4 398.62L92.9 398.73L93.4 398.75L93.9 398.68L94.4 398.42L94.9 397.98L95.4 397.39L95.9 396.68L96.4 395.88L96.9 395L97.4 394.08L97.9 393.14L98.4 392.2L98.9 391.28L99.4 390.41L99.9 389.62L100.4 388.93L100.9 388.24L101.4 387.54L101.9 386.82L102.4 386.1L102.9 385.39L103.4 384.7L103.9 384.04L104.4 383.42L104.9 382.84L105.4 382.32L105.9 381.88L106.4 381.5L106.9 381.22L107.4 381.03L107.9 380.91L108.4 380.81L108.9 380.72L109.4 380.63L109.9 380.56L110.4 380.5L110.9 380.44L111.4 380.39L111.9 380.34L112.4 380.3L112.9 380.26L113.4 380.23L113.9 380.19L114.4 380.16L114.9 380.13L115.4 380.09L115.9 380.06L116.4 380.02L116.9 379.98L117.4 379.93L117.9 379.88L118.4 379.82L118.9 379.76L119.4 379.69L119.9 379.62L120.4 379.54L120.9 379.45L121.4 379.35L121.9 379.25L122.4 379.13L122.9 378.99L123.4 378.83L123.9 378.66L124.4 378.47L124.9 378.27L125.4 378.05L125.9 377.82L126.4 377.57L126.9 377.31L127.4 377.03L127.9 376.75L128.4 376.45L128.9 376.14L129.4 375.82L129.9 375.49L130.4 375.16L130.9 374.81L131.4 374.45L131.9 374.04L132.4 373.57L132.9 373.05L133.4 372.5L133.9 371.91L134.4 371.3L134.9 370.67L135.4 370.04L135.9 369.41L136.4 368.79L136.9 368.2L137.4 367.63L137.9 367.1L138.4 366.59L138.9 366.06L139.4 365.5L139.9 364.92L140.4 364.34L140.9 363.75L141.4 363.15L141.9 362.56L142.4 361.97L142.9 361.4L143.4 360.85L143.9 360.32L144.4 359.82L144.9 359.35L145.4 358.92L145.9 358.54L146.4 358.2L146.9 357.91L147.4 357.68L147.9 357.52L148.4 357.42L148.9 357.4L149.4 357.48L149.9 357.66L150.4 357.91L150.9 358.21L151.4 358.55L151.9 358.89L152.4 359.23L152.9 359.57L153.4 359.93L153.9 360.33L154.4 360.75L154.9 361.2L155.4 361.68L155.9 362.17L156.4 362.68L156.9 363.21L157.4 363.77L157.9 364.38L158.4 365.02L158.9 365.7L159.4 366.41L159.9 367.13L160.4 367.87L160.9 368.62L161.4 369.38L161.9 370.13L162.4 370.88L162.9 371.62L163.4 372.33L163.9 373.03L164.4 373.7L164.9 374.36L165.4 375.02L165.9 375.67L166.4 376.31L166.9 376.95L167.4 377.59L167.9 378.22L168.4 378.86L168.9 379.49L169.4 380.13L169.9 380.77L170.4 381.41L170.9 382.05L171.4 382.7L171.9 383.36L172.4 384.05L172.9 384.74L173.4 385.45L173.9 386.17L174.4 386.88L174.9 387.59L175.4 388.29L175.9 388.97L176.4 389.64L176.9 390.28L177.4 390.89L177.9 391.46L178.4 392L178.9 392.5L179.4 392.98L179.9 393.44L180.4 393.89L180.9 394.33L181.4 394.76L181.9 395.17L182.4 395.57L182.9 395.95L183.4 396.33L183.9 396.69L184.4 397.03L184.9 397.37L185.4 397.69L185.9 398L186.4 398.3L186.9 398.59L187.4 398.88L187.9 399.16L188.4 399.42L188.9 399.69L189.4 399.94L189.9 400.18L190.4 400.42L190.9 400.65L191.4 400.87L191.9 401.09L192.4 401.29L192.9 401.49L193.4 401.67L193.9 401.86L194.4 402.04L194.9 402.22L195.4 402.39L195.9 402.56L196.4 402.73L196.9 402.89L197.4 403.04L197.9 403.18L198.4 403.32L198.9 403.45L199.4 403.57L199.9 403.68L200.4 403.78L200.9 403.87L201.4 403.96L201.9 404.05L202.4 404.14L202.9 404.22L203.4 404.3L203.9 404.38L204.4 404.45L204.9 404.53L205.4 404.6L205.9 404.67L206.4 404.73L206.9 404.8L207.4 404.86L207.9 404.93L208.4 404.98L208.9 405.04L209.4 405.1L209.9 405.15L210.4 405.21L210.9 405.26L211.4 405.31L211.9 405.36L212.4 405.4L212.9 405.45L213.4 405.49L213.9 405.53L214.4 405.58L214.9 405.62L215.4 405.65L215.9 405.69L216.4 405.72L216.9 405.75L217.4 405.78L217.9 405.81L218.4 405.83L218.9 405.86L219.4 405.88L219.9 405.9L220.4 405.92L220.9 405.94L221.4 405.96L221.9 405.98L222.4 406L222.9 406.02L223.4 406.04L223.9 406.06L224.4 406.08L224.9 406.1L225.4 406.13L225.9 406.15L226.4 406.17L226.9 406.2L227.4 406.23L227.9 406.26L228.4 406.29L228.9 406.33L229.4 406.36L229.9 406.4L230.4 406.44L230.9 406.49L231.4 406.54L231.9 406.59L232.4 406.68L232.5 407.1Z" fill="url(#gc2)"/>
<path d="M44.4 406.7L44.9 406.7L45.4 406.7L45.9 406.7L46.4 406.7L46.9 406.7L47.4 406.7L47.9 406.7L48.4 406.7L48.9 406.7L49.4 406.7L49.9 406.7L50.4 406.7L50.9 406.7L51.4 406.7L51.9 406.7L52.4 406.7L52.9 406.7L53.4 406.7L53.9 406.7L54.4 406.7L54.9 406.7L55.4 406.7L55.9 406.7L56.4 406.69L56.9 406.67L57.4 406.65L57.9 406.62L58.4 406.59L58.9 406.56L59.4 406.53L59.9 406.49L60.4 406.45L60.9 406.39L61.4 406.33L61.9 406.26L62.4 406.17L62.9 406.08L63.4 405.95L63.9 405.79L64.4 405.6L64.9 405.36L65.4 405.09L65.9 404.78L66.4 404.37L66.9 403.84L67.4 403.19L67.9 402.42L68.4 401.51L68.9 400.49L69.4 399.27L69.9 397.56L70.4 395.37L70.9 392.72L71.4 389.68L71.9 386.14L72.4 381.11L72.9 375.07L73.4 368.86L73.9 362.18L74.4 355.27L74.9 349.2L75.4 343.44L75.9 338.69L76.4 335.69L76.9 333.29L77.4 332.04L77.9 332.59L78.4 334.62L78.9 337.39L79.4 341.32L79.9 346.99L80.4 351.85L80.9 355.71L81.4 359.24L81.9 362.51L82.4 365.61L82.9 368.63L83.4 371.63L83.9 374.56L84.4 377.39L84.9 380.07L85.4 382.55L85.9 384.78L86.4 386.9L86.9 388.93L87.4 390.79L87.9 392.42L88.4 393.76L88.9 394.84L89.4 395.78L89.9 396.59L90.4 397.26L90.9 397.79L91.4 398.17L91.9 398.44L92.4 398.62L92.9 398.73L93.4 398.75L93.9 398.68L94.4 398.42L94.9 397.98L95.4 397.39L95.9 396.68L96.4 395.88L96.9 395L97.4 394.08L97.9 393.14L98.4 392.2L98.9 391.28L99.4 390.41L99.9 389.62L100.4 388.93L100.9 388.24L101.4 387.54L101.9 386.82L102.4 386.1L102.9 385.39L103.4 384.7L103.9 384.04L104.4 383.42L104.9 382.84L105.4 382.32L105.9 381.88L106.4 381.5L106.9 381.22L107.4 381.03L107.9 380.91L108.4 380.81L108.9 380.72L109.4 380.63L109.9 380.56L110.4 380.5L110.9 380.44L111.4 380.39L111.9 380.34L112.4 380.3L112.9 380.26L113.4 380.23L113.9 380.19L114.4 380.16L114.9 380.13L115.4 380.09L115.9 380.06L116.4 380.02L116.9 379.98L117.4 379.93L117.9 379.88L118.4 379.82L118.9 379.76L119.4 379.69L119.9 379.62L120.4 379.54L120.9 379.45L121.4 379.35L121.9 379.25L122.4 379.13L122.9 378.99L123.4 378.83L123.9 378.66L124.4 378.47L124.9 378.27L125.4 378.05L125.9 377.82L126.4 377.57L126.9 377.31L127.4 377.03L127.9 376.75L128.4 376.45L128.9 376.14L129.4 375.82L129.9 375.49L130.4 375.16L130.9 374.81L131.4 374.45L131.9 374.04L132.4 373.57L132.9 373.05L133.4 372.5L133.9 371.91L134.4 371.3L134.9 370.67L135.4 370.04L135.9 369.41L136.4 368.79L136.9 368.2L137.4 367.63L137.9 367.1L138.4 366.59L138.9 366.06L139.4 365.5L139.9 364.92L140.4 364.34L140.9 363.75L141.4 363.15L141.9 362.56L142.4 361.97L142.9 361.4L143.4 360.85L143.9 360.32L144.4 359.82L144.9 359.35L145.4 358.92L145.9 358.54L146.4 358.2L146.9 357.91L147.4 357.68L147.9 357.52L148.4 357.42L148.9 357.4L149.4 357.48L149.9 357.66L150.4 357.91L150.9 358.21L151.4 358.55L151.9 358.89L152.4 359.23L152.9 359.57L153.4 359.93L153.9 360.33L154.4 360.75L154.9 361.2L155.4 361.68L155.9 362.17L156.4 362.68L156.9 363.21L157.4 363.77L157.9 364.38L158.4 365.02L158.9 365.7L159.4 366.41L159.9 367.13L160.4 367.87L160.9 368.62L161.4 369.38L161.9 370.13L162.4 370.88L162.9 371.62L163.4 372.33L163.9 373.03L164.4 373.7L164.9 374.36L165.4 375.02L165.9 375.67L166.4 376.31L166.9 376.95L167.4 377.59L167.9 378.22L168.4 378.86L168.9 379.49L169.4 380.13L169.9 380.77L170.4 381.41L170.9 382.05L171.4 382.7L171.9 383.36L172.4 384.05L172.9 384.74L173.4 385.45L173.9 386.17L174.4 386.88L174.9 387.59L175.4 388.29L175.9 388.97L176.4 389.64L176.9 390.28L177.4 390.89L177.9 391.46L178.4 392L178.9 392.5L179.4 392.98L179.9 393.44L180.4 393.89L180.9 394.33L181.4 394.76L181.9 395.17L182.4 395.57L182.9 395.95L183.4 396.33L183.9 396.69L184.4 397.03L184.9 397.37L185.4 397.69L185.9 398L186.4 398.3L186.9 398.59L187.4 398.88L187.9 399.16L188.4 399.42L188.9 399.69L189.4 399.94L189.9 400.18L190.4 400.42L190.9 400.65L191.4 400.87L191.9 401.09L192.4 401.29L192.9 401.49L193.4 401.67L193.9 401.86L194.4 402.04L194.9 402.22L195.4 402.39L195.9 402.56L196.4 402.73L196.9 402.89L197.4 403.04L197.9 403.18L198.4 403.32L198.9 403.45L199.4 403.57L199.9 403.68L200.4 403.78L200.9 403.87L201.4 403.96L201.9 404.05L202.4 404.14L202.9 404.22L203.4 404.3L203.9 404.38L204.4 404.45L204.9 404.53L205.4 404.6L205.9 404.67L206.4 404.73L206.9 404.8L207.4 404.86L207.9 404.93L208.4 404.98L208.9 405.04L209.4 405.1L209.9 405.15L210.4 405.21L210.9 405.26L211.4 405.31L211.9 405.36L212.4 405.4L212.9 405.45L213.4 405.49L213.9 405.53L214.4 405.58L214.9 405.62L215.4 405.65L215.9 405.69L216.4 405.72L216.9 405.75L217.4 405.78L217.9 405.81L218.4 405.83L218.9 405.86L219.4 405.88L219.9 405.9L220.4 405.92L220.9 405.94L221.4 405.96L221.9 405.98L222.4 406L222.9 406.02L223.4 406.04L223.9 406.06L224.4 406.08L224.9 406.1L225.4 406.13L225.9 406.15L226.4 406.17L226.9 406.2L227.4 406.23L227.9 406.26L228.4 406.29L228.9 406.33L229.4 406.36L229.9 406.4L230.4 406.44L230.9 406.49L231.4 406.54L231.9 406.59L232.4 406.68" fill="none" stroke="#000" stroke-opacity=".45" stroke-width=".5"/>
<text x="154.2" y="413.3" class="t" font-size="5.05" fill="#111" stroke="#111" stroke-width=".12" textLength="73.3" lengthAdjust="spacingAndGlyphs">30 wt% SASN: Eu/1 mm LuAG:Ce</text>
<path d="M24.3 440.7L24.3 440.3L24.8 440.3L25.3 440.3L25.8 440.3L26.3 440.3L26.8 440.3L27.3 440.3L27.8 440.3L28.3 440.3L28.8 440.3L29.3 440.3L29.8 440.3L30.3 440.3L30.8 440.3L31.3 440.3L31.8 440.3L32.3 440.3L32.8 440.3L33.3 440.3L33.8 440.3L34.3 440.3L34.8 440.3L35.3 440.3L35.8 440.3L36.3 440.3L36.8 440.3L37.3 440.28L37.8 440.27L38.3 440.25L38.8 440.22L39.3 440.19L39.8 440.17L40.3 440.13L40.8 440.1L41.3 440.05L41.8 440L42.3 439.93L42.8 439.86L43.3 439.78L43.8 439.68L44.3 439.55L44.8 439.38L45.3 439.18L45.8 438.94L46.3 438.66L46.8 438.33L47.3 437.88L47.8 437.31L48.3 436.62L48.8 435.82L49.3 434.89L49.8 433.83L50.3 432.36L50.8 430.4L51.3 428.01L51.8 425.22L52.3 422.04L52.8 417.55L53.3 411.95L53.8 406.09L54.3 399.89L54.8 393.36L55.3 387.59L55.8 382.17L56.3 377.67L56.8 374.85L57.3 372.61L57.8 371.51L58.3 372.13L58.8 374.07L59.3 376.64L59.8 380.4L60.3 385.65L60.8 390.03L61.3 393.56L61.8 396.79L62.3 399.79L62.8 402.63L63.3 405.4L63.8 408.14L64.3 410.82L64.8 413.39L65.3 415.82L65.8 418.06L66.3 420.08L66.8 422L67.3 423.82L67.8 425.49L68.3 426.95L68.8 428.14L69.3 429.08L69.8 429.89L70.3 430.58L70.8 431.13L71.3 431.56L71.8 431.85L72.3 432.02L72.8 432.13L73.3 432.15L73.8 432.09L74.3 431.88L74.8 431.47L75.3 430.88L75.8 430.18L76.3 429.36L76.8 428.46L77.3 427.48L77.8 426.46L78.3 425.39L78.8 424.31L79.3 423.23L79.8 422.17L80.3 421.16L80.8 420.21L81.3 419.36L81.8 418.62L82.3 417.97L82.8 417.32L83.3 416.66L83.8 416L84.3 415.35L84.8 414.72L85.3 414.11L85.8 413.54L86.3 413L86.8 412.51L87.3 412.08L87.8 411.72L88.3 411.42L88.8 411.21L89.3 411.09L89.8 411.02L90.3 410.96L90.8 410.91L91.3 410.86L91.8 410.82L92.3 410.78L92.8 410.75L93.3 410.72L93.8 410.7L94.3 410.68L94.8 410.65L95.3 410.63L95.8 410.61L96.3 410.58L96.8 410.55L97.3 410.51L97.8 410.47L98.3 410.43L98.8 410.37L99.3 410.32L99.8 410.25L100.3 410.18L100.8 410.1L101.3 410.02L101.8 409.93L102.3 409.84L102.8 409.74L103.3 409.63L103.8 409.52L104.3 409.4L104.8 409.28L105.3 409.14L105.8 409L106.3 408.86L106.8 408.7L107.3 408.53L107.8 408.36L108.3 408.18L108.8 407.99L109.3 407.79L109.8 407.54L110.3 407.24L110.8 406.88L111.3 406.48L111.8 406.03L112.3 405.55L112.8 405.04L113.3 404.51L113.8 403.96L114.3 403.4L114.8 402.83L115.3 402.27L115.8 401.72L116.3 401.19L116.8 400.67L117.3 400.19L117.8 399.74L118.3 399.33L118.8 398.95L119.3 398.56L119.8 398.15L120.3 397.74L120.8 397.32L121.3 396.9L121.8 396.49L122.3 396.09L122.8 395.71L123.3 395.35L123.8 395.01L124.3 394.69L124.8 394.42L125.3 394.18L125.8 393.98L126.3 393.83L126.8 393.74L127.3 393.7L127.8 393.73L128.3 393.81L128.8 393.95L129.3 394.14L129.8 394.36L130.3 394.6L130.8 394.87L131.3 395.14L131.8 395.41L132.3 395.69L132.8 396.01L133.3 396.38L133.8 396.79L134.3 397.22L134.8 397.67L135.3 398.13L135.8 398.6L136.3 399.07L136.8 399.53L137.3 399.98L137.8 400.44L138.3 400.91L138.8 401.38L139.3 401.85L139.8 402.34L140.3 402.83L140.8 403.32L141.3 403.83L141.8 404.35L142.3 404.87L142.8 405.4L143.3 405.95L143.8 406.5L144.3 407.07L144.8 407.66L145.3 408.27L145.8 408.9L146.3 409.55L146.8 410.21L147.3 410.88L147.8 411.55L148.3 412.23L148.8 412.91L149.3 413.59L149.8 414.26L150.3 414.93L150.8 415.58L151.3 416.22L151.8 416.85L152.3 417.48L152.8 418.11L153.3 418.75L153.8 419.39L154.3 420.02L154.8 420.65L155.3 421.27L155.8 421.88L156.3 422.48L156.8 423.06L157.3 423.63L157.8 424.19L158.3 424.72L158.8 425.24L159.3 425.75L159.8 426.26L160.3 426.76L160.8 427.25L161.3 427.73L161.8 428.21L162.3 428.67L162.8 429.12L163.3 429.56L163.8 429.98L164.3 430.38L164.8 430.76L165.3 431.12L165.8 431.46L166.3 431.78L166.8 432.09L167.3 432.38L167.8 432.67L168.3 432.95L168.8 433.22L169.3 433.48L169.8 433.74L170.3 433.98L170.8 434.21L171.3 434.44L171.8 434.65L172.3 434.86L172.8 435.06L173.3 435.25L173.8 435.44L174.3 435.62L174.8 435.8L175.3 435.98L175.8 436.15L176.3 436.32L176.8 436.48L177.3 436.63L177.8 436.77L178.3 436.91L178.8 437.04L179.3 437.16L179.8 437.27L180.3 437.37L180.8 437.46L181.3 437.55L181.8 437.63L182.3 437.71L182.8 437.79L183.3 437.86L183.8 437.94L184.3 438.01L184.8 438.08L185.3 438.14L185.8 438.21L186.3 438.27L186.8 438.33L187.3 438.39L187.8 438.45L188.3 438.5L188.8 438.56L189.3 438.61L189.8 438.66L190.3 438.71L190.8 438.76L191.3 438.8L191.8 438.85L192.3 438.9L192.8 438.94L193.3 438.98L193.8 439.03L194.3 439.07L194.8 439.11L195.3 439.15L195.8 439.19L196.3 439.22L196.8 439.26L197.3 439.29L197.8 439.31L198.3 439.34L198.8 439.37L199.3 439.39L199.8 439.42L200.3 439.44L200.8 439.46L201.3 439.48L201.8 439.5L202.3 439.52L202.8 439.55L203.3 439.57L203.8 439.59L204.3 439.61L204.8 439.64L205.3 439.66L205.8 439.69L206.3 439.72L206.8 439.75L207.3 439.78L207.8 439.81L208.3 439.85L208.8 439.89L209.3 439.93L209.8 439.97L210.3 440.02L210.8 440.07L211.3 440.12L211.8 440.18L212.3 440.27L212.4 440.7Z" fill="url(#gc1)"/>
<path d="M24.3 440.3L24.8 440.3L25.3 440.3L25.8 440.3L26.3 440.3L26.8 440.3L27.3 440.3L27.8 440.3L28.3 440.3L28.8 440.3L29.3 440.3L29.8 440.3L30.3 440.3L30.8 440.3L31.3 440.3L31.8 440.3L32.3 440.3L32.8 440.3L33.3 440.3L33.8 440.3L34.3 440.3L34.8 440.3L35.3 440.3L35.8 440.3L36.3 440.3L36.8 440.3L37.3 440.28L37.8 440.27L38.3 440.25L38.8 440.22L39.3 440.19L39.8 440.17L40.3 440.13L40.8 440.1L41.3 440.05L41.8 440L42.3 439.93L42.8 439.86L43.3 439.78L43.8 439.68L44.3 439.55L44.8 439.38L45.3 439.18L45.8 438.94L46.3 438.66L46.8 438.33L47.3 437.88L47.8 437.31L48.3 436.62L48.8 435.82L49.3 434.89L49.8 433.83L50.3 432.36L50.8 430.4L51.3 428.01L51.8 425.22L52.3 422.04L52.8 417.55L53.3 411.95L53.8 406.09L54.3 399.89L54.8 393.36L55.3 387.59L55.8 382.17L56.3 377.67L56.8 374.85L57.3 372.61L57.8 371.51L58.3 372.13L58.8 374.07L59.3 376.64L59.8 380.4L60.3 385.65L60.8 390.03L61.3 393.56L61.8 396.79L62.3 399.79L62.8 402.63L63.3 405.4L63.8 408.14L64.3 410.82L64.8 413.39L65.3 415.82L65.8 418.06L66.3 420.08L66.8 422L67.3 423.82L67.8 425.49L68.3 426.95L68.8 428.14L69.3 429.08L69.8 429.89L70.3 430.58L70.8 431.13L71.3 431.56L71.8 431.85L72.3 432.02L72.8 432.13L73.3 432.15L73.8 432.09L74.3 431.88L74.8 431.47L75.3 430.88L75.8 430.18L76.3 429.36L76.8 428.46L77.3 427.48L77.8 426.46L78.3 425.39L78.8 424.31L79.3 423.23L79.8 422.17L80.3 421.16L80.8 420.21L81.3 419.36L81.8 418.62L82.3 417.97L82.8 417.32L83.3 416.66L83.8 416L84.3 415.35L84.8 414.72L85.3 414.11L85.8 413.54L86.3 413L86.8 412.51L87.3 412.08L87.8 411.72L88.3 411.42L88.8 411.21L89.3 411.09L89.8 411.02L90.3 410.96L90.8 410.91L91.3 410.86L91.8 410.82L92.3 410.78L92.8 410.75L93.3 410.72L93.8 410.7L94.3 410.68L94.8 410.65L95.3 410.63L95.8 410.61L96.3 410.58L96.8 410.55L97.3 410.51L97.8 410.47L98.3 410.43L98.8 410.37L99.3 410.32L99.8 410.25L100.3 410.18L100.8 410.1L101.3 410.02L101.8 409.93L102.3 409.84L102.8 409.74L103.3 409.63L103.8 409.52L104.3 409.4L104.8 409.28L105.3 409.14L105.8 409L106.3 408.86L106.8 408.7L107.3 408.53L107.8 408.36L108.3 408.18L108.8 407.99L109.3 407.79L109.8 407.54L110.3 407.24L110.8 406.88L111.3 406.48L111.8 406.03L112.3 405.55L112.8 405.04L113.3 404.51L113.8 403.96L114.3 403.4L114.8 402.83L115.3 402.27L115.8 401.72L116.3 401.19L116.8 400.67L117.3 400.19L117.8 399.74L118.3 399.33L118.8 398.95L119.3 398.56L119.8 398.15L120.3 397.74L120.8 397.32L121.3 396.9L121.8 396.49L122.3 396.09L122.8 395.71L123.3 395.35L123.8 395.01L124.3 394.69L124.8 394.42L125.3 394.18L125.8 393.98L126.3 393.83L126.8 393.74L127.3 393.7L127.8 393.73L128.3 393.81L128.8 393.95L129.3 394.14L129.8 394.36L130.3 394.6L130.8 394.87L131.3 395.14L131.8 395.41L132.3 395.69L132.8 396.01L133.3 396.38L133.8 396.79L134.3 397.22L134.8 397.67L135.3 398.13L135.8 398.6L136.3 399.07L136.8 399.53L137.3 399.98L137.8 400.44L138.3 400.91L138.8 401.38L139.3 401.85L139.8 402.34L140.3 402.83L140.8 403.32L141.3 403.83L141.8 404.35L142.3 404.87L142.8 405.4L143.3 405.95L143.8 406.5L144.3 407.07L144.8 407.66L145.3 408.27L145.8 408.9L146.3 409.55L146.8 410.21L147.3 410.88L147.8 411.55L148.3 412.23L148.8 412.91L149.3 413.59L149.8 414.26L150.3 414.93L150.8 415.58L151.3 416.22L151.8 416.85L152.3 417.48L152.8 418.11L153.3 418.75L153.8 419.39L154.3 420.02L154.8 420.65L155.3 421.27L155.8 421.88L156.3 422.48L156.8 423.06L157.3 423.63L157.8 424.19L158.3 424.72L158.8 425.24L159.3 425.75L159.8 426.26L160.3 426.76L160.8 427.25L161.3 427.73L161.8 428.21L162.3 428.67L162.8 429.12L163.3 429.56L163.8 429.98L164.3 430.38L164.8 430.76L165.3 431.12L165.8 431.46L166.3 431.78L166.8 432.09L167.3 432.38L167.8 432.67L168.3 432.95L168.8 433.22L169.3 433.48L169.8 433.74L170.3 433.98L170.8 434.21L171.3 434.44L171.8 434.65L172.3 434.86L172.8 435.06L173.3 435.25L173.8 435.44L174.3 435.62L174.8 435.8L175.3 435.98L175.8 436.15L176.3 436.32L176.8 436.48L177.3 436.63L177.8 436.77L178.3 436.91L178.8 437.04L179.3 437.16L179.8 437.27L180.3 437.37L180.8 437.46L181.3 437.55L181.8 437.63L182.3 437.71L182.8 437.79L183.3 437.86L183.8 437.94L184.3 438.01L184.8 438.08L185.3 438.14L185.8 438.21L186.3 438.27L186.8 438.33L187.3 438.39L187.8 438.45L188.3 438.5L188.8 438.56L189.3 438.61L189.8 438.66L190.3 438.71L190.8 438.76L191.3 438.8L191.8 438.85L192.3 438.9L192.8 438.94L193.3 438.98L193.8 439.03L194.3 439.07L194.8 439.11L195.3 439.15L195.8 439.19L196.3 439.22L196.8 439.26L197.3 439.29L197.8 439.31L198.3 439.34L198.8 439.37L199.3 439.39L199.8 439.42L200.3 439.44L200.8 439.46L201.3 439.48L201.8 439.5L202.3 439.52L202.8 439.55L203.3 439.57L203.8 439.59L204.3 439.61L204.8 439.64L205.3 439.66L205.8 439.69L206.3 439.72L206.8 439.75L207.3 439.78L207.8 439.81L208.3 439.85L208.8 439.89L209.3 439.93L209.8 439.97L210.3 440.02L210.8 440.07L211.3 440.12L211.8 440.18L212.3 440.27" fill="none" stroke="#000" stroke-opacity=".45" stroke-width=".5"/>
<text x="131.5" y="447" class="t" font-size="5.05" fill="#111" stroke="#111" stroke-width=".12" textLength="76.4" lengthAdjust="spacingAndGlyphs">30 wt% SASN: Eu/1.5 mm LuAG:Ce</text>
<path d="M13.9 457.1H202.8" stroke="#333" stroke-width=".9" fill="none"/>
<path d="M14.1 457.1v1M18.8 457.1v1M23.5 457.1v2M28.2 457.1v1M32.9 457.1v1M37.6 457.1v1M42.3 457.1v1M47 457.1v2M51.7 457.1v1M56.4 457.1v1M61.1 457.1v1M65.8 457.1v1M70.5 457.1v2M75.2 457.1v1M79.9 457.1v1M84.6 457.1v1M89.3 457.1v1M94 457.1v2M98.7 457.1v1M103.5 457.1v1M108.2 457.1v1M112.9 457.1v1M117.6 457.1v2M122.3 457.1v1M127 457.1v1M131.7 457.1v1M136.4 457.1v1M141.1 457.1v2M145.8 457.1v1M150.5 457.1v1M155.2 457.1v1M159.9 457.1v1M164.6 457.1v2M169.3 457.1v1M174 457.1v1M178.7 457.1v1M183.4 457.1v1M188.1 457.1v2M192.8 457.1v1M197.5 457.1v1M202.2 457.1v1" stroke="#222" stroke-width=".75" fill="none"/>
<text x="23.5" y="466.1" class="t" font-size="5.1" fill="#222" stroke="#222" stroke-width=".12" text-anchor="middle">400</text>
<text x="47" y="466.1" class="t" font-size="5.1" fill="#222" stroke="#222" stroke-width=".12" text-anchor="middle">450</text>
<text x="70.5" y="466.1" class="t" font-size="5.1" fill="#222" stroke="#222" stroke-width=".12" text-anchor="middle">500</text>
<text x="94" y="466.1" class="t" font-size="5.1" fill="#222" stroke="#222" stroke-width=".12" text-anchor="middle">550</text>
<text x="117.6" y="466.1" class="t" font-size="5.1" fill="#222" stroke="#222" stroke-width=".12" text-anchor="middle">600</text>
<text x="141.1" y="466.1" class="t" font-size="5.1" fill="#222" stroke="#222" stroke-width=".12" text-anchor="middle">650</text>
<text x="164.6" y="466.1" class="t" font-size="5.1" fill="#222" stroke="#222" stroke-width=".12" text-anchor="middle">700</text>
<text x="188.1" y="466.1" class="t" font-size="5.1" fill="#222" stroke="#222" stroke-width=".12" text-anchor="middle">750</text>
<text x="108.2" y="472" class="t" font-size="5.05" fill="#111" stroke="#111" stroke-width=".12" text-anchor="middle">Wavelength (nm)</text>
<path d="M14.3 457.1h-1.8M14.3 452.6h-1M14.3 448h-1M14.3 443.5h-1M14.3 439h-1M14.3 434.4h-1.8M14.3 429.9h-1M14.3 425.3h-1M14.3 420.8h-1M14.3 416.3h-1M14.3 411.7h-1.8M14.3 407.2h-1M14.3 402.7h-1M14.3 398.1h-1M14.3 393.6h-1M14.3 389.1h-1.8M14.3 384.5h-1M14.3 380h-1M14.3 375.5h-1M14.3 370.9h-1M14.3 366.4h-1.8M14.3 361.8h-1M14.3 357.3h-1M14.3 352.8h-1M14.3 348.2h-1M14.3 343.7h-1.8" stroke="#222" stroke-width=".8" fill="none"/>
<text transform="translate(9.4 407.1) rotate(-90)" class="t" font-size="5.1" fill="#222" stroke="#222" stroke-width=".12" text-anchor="middle">Intensity (a.u.)</text>
<text x="21.7" y="268" class="t" font-size="16" fill="#111">(c)</text>
<path d="M288.4 281.4V390.6M304.3 281.4V390.6M320.3 281.4V390.6M336.2 281.4V390.6M352.2 281.4V390.6M368.1 281.4V390.6M384.1 281.4V390.6M400 281.4V390.6M416 281.4V390.6M431.9 281.4V390.6M447.9 281.4V390.6M463.9 281.4V390.6M479.8 281.4V390.6M495.8 281.4V390.6M511.7 281.4V390.6M527.6 281.4V390.6M543.6 281.4V390.6M288.4 389.5H543.3M288.4 373.5H543.3M288.4 357.5H543.3M288.4 341.5H543.3M288.4 325.5H543.3M288.4 309.5H543.3M288.4 293.5H543.3M288.4 281.4H543.3M288.4 390.6H543.3" stroke="#c9c9c9" stroke-width=".8" fill="none"/>
<path d="M522.8 368.6 L543.3 389.1" stroke="#9a9a9a" stroke-width=".8" fill="none"/>
<g clip-path="url(#box)"><g clip-path="url(#gam)"><rect x="288.4" y="281" width="254.9" height="3" fill="url(#c0)"/><rect x="288.4" y="283" width="254.9" height="3" fill="url(#c1)"/><rect x="288.4" y="285" width="254.9" height="3" fill="url(#c2)"/><rect x="288.4" y="287" width="254.9" height="3" fill="url(#c3)"/><rect x="288.4" y="289" width="254.9" height="3" fill="url(#c4)"/><rect x="288.4" y="291" width="254.9" height="3" fill="url(#c5)"/><rect x="288.4" y="293" width="254.9" height="3" fill="url(#c6)"/><rect x="288.4" y="295" width="254.9" height="3" fill="url(#c7)"/><rect x="288.4" y="297" width="254.9" height="3" fill="url(#c8)"/><rect x="288.4" y="299" width="254.9" height="3" fill="url(#c9)"/><rect x="288.4" y="301" width="254.9" height="3" fill="url(#c10)"/><rect x="288.4" y="303" width="254.9" height="3" fill="url(#c11)"/><rect x="288.4" y="305" width="254.9" height="3" fill="url(#c12)"/><rect x="288.4" y="307" width="254.9" height="3" fill="url(#c13)"/><rect x="288.4" y="309" width="254.9" height="3" fill="url(#c14)"/><rect x="288.4" y="311" width="254.9" height="3" fill="url(#c15)"/><rect x="288.4" y="313" width="254.9" height="3" fill="url(#c16)"/><rect x="288.4" y="315" width="254.9" height="3" fill="url(#c17)"/><rect x="288.4" y="317" width="254.9" height="3" fill="url(#c18)"/><rect x="288.4" y="319" width="254.9" height="3" fill="url(#c19)"/><rect x="288.4" y="321" width="254.9" height="3" fill="url(#c20)"/><rect x="288.4" y="323" width="254.9" height="3" fill="url(#c21)"/><rect x="288.4" y="325" width="254.9" height="3" fill="url(#c22)"/><rect x="288.4" y="327" width="254.9" height="3" fill="url(#c23)"/><rect x="288.4" y="329" width="254.9" height="3" fill="url(#c24)"/><rect x="288.4" y="331" width="254.9" height="3" fill="url(#c25)"/><rect x="288.4" y="333" width="254.9" height="3" fill="url(#c26)"/><rect x="288.4" y="335" width="254.9" height="3" fill="url(#c27)"/><rect x="288.4" y="337" width="254.9" height="3" fill="url(#c28)"/><rect x="288.4" y="339" width="254.9" height="3" fill="url(#c29)"/><rect x="288.4" y="341" width="254.9" height="3" fill="url(#c30)"/><rect x="288.4" y="343" width="254.9" height="3" fill="url(#c31)"/><rect x="288.4" y="345" width="254.9" height="3" fill="url(#c32)"/><rect x="288.4" y="347" width="254.9" height="3" fill="url(#c33)"/><rect x="288.4" y="349" width="254.9" height="3" fill="url(#c34)"/><rect x="288.4" y="351" width="254.9" height="3" fill="url(#c35)"/><rect x="288.4" y="353" width="254.9" height="3" fill="url(#c36)"/><rect x="288.4" y="355" width="254.9" height="3" fill="url(#c37)"/><rect x="288.4" y="357" width="254.9" height="3" fill="url(#c38)"/><rect x="288.4" y="359" width="254.9" height="3" fill="url(#c39)"/><rect x="288.4" y="361" width="254.9" height="3" fill="url(#c40)"/><rect x="288.4" y="363" width="254.9" height="3" fill="url(#c41)"/><rect x="288.4" y="365" width="254.9" height="3" fill="url(#c42)"/><rect x="288.4" y="367" width="254.9" height="3" fill="url(#c43)"/><rect x="288.4" y="369" width="254.9" height="3" fill="url(#c44)"/><rect x="288.4" y="371" width="254.9" height="3" fill="url(#c45)"/><rect x="288.4" y="373" width="254.9" height="3" fill="url(#c46)"/><rect x="288.4" y="375" width="254.9" height="3" fill="url(#c47)"/><rect x="288.4" y="377" width="254.9" height="3" fill="url(#c48)"/><rect x="288.4" y="379" width="254.9" height="3" fill="url(#c49)"/><rect x="288.4" y="381" width="254.9" height="3" fill="url(#c50)"/><rect x="288.4" y="383" width="254.9" height="3" fill="url(#c51)"/><rect x="288.4" y="385" width="254.9" height="3" fill="url(#c52)"/><rect x="288.4" y="387" width="254.9" height="3" fill="url(#c53)"/><rect x="288.4" y="389" width="254.9" height="3" fill="url(#c54)"/></g>
<path d="M291 281.4L291.4 286.1L291.8 290.9L292.3 295.6L292.9 300.4L293.5 305.1L294.2 309.9L294.9 314.6L295.6 319.4L296.3 324.1L297.1 328.9L297.9 333.6L298.7 338.4L299.6 343.1L300.6 347.9L301.5 352.6L302.5 357.4L303.5 362.1L304.6 366.9L305.7 371.6L306.9 376.4L308.1 381.1L309.4 385.9L310.7 390.6" stroke="#000" stroke-width="1.35" fill="none"/>
<path d="M435.5 281.4L441.1 287L451.9 297.8L462.2 308.1L471.9 317.8L480.7 326.6L488.4 334.3L495.2 341.1L500.8 346.6L505.4 351.2L509 354.8L511.9 357.7L514.2 360.1L516.2 362L517.8 363.6L519 364.9L520 365.8L520.7 366.6L521.3 367.1L521.9 367.7L522.4 368.2L522.8 368.6L479.8 390.6" stroke="#000" stroke-width="1.35" fill="none" stroke-linejoin="round"/>
<path d="M441.1 287l2.6 -2.6M451.9 297.8l2.6 -2.6M462.2 308.1l2.6 -2.6M471.9 317.8l2.6 -2.6M480.7 326.6l2.6 -2.6M488.4 334.3l2.6 -2.6M495.2 341.1l2.6 -2.6M500.8 346.6l2.6 -2.6M505.4 351.2l2.6 -2.6M509 354.8l2.6 -2.6M511.9 357.7l2.6 -2.6M514.2 360.1l2.6 -2.6M516.2 362l2.6 -2.6M517.8 363.6l2.6 -2.6M519 364.9l2.6 -2.6M520 365.8l2.6 -2.6M520.7 366.6l2.6 -2.6M521.3 367.1l2.6 -2.6M521.9 367.7l2.6 -2.6M522.4 368.2l2.6 -2.6M522.8 368.6l2.6 -2.6" stroke="#000" stroke-width=".9" fill="none"/>
<path d="M302.3 360.1h-3.4" stroke="#000" stroke-width=".9" fill="none"/>
<path d="M295.6 321.7h-3" stroke="#000" stroke-width=".9" fill="none"/>
<path d="M360.6 380.9L360.6 380.9L362.6 378.7L364.6 376.4L366.6 374.2L368.6 371.9L370.6 369.7L372.6 367.4L374.6 365.1L376.6 362.8L378.6 360.5L380.6 358.2L382.6 356L384.6 353.8L386.6 351.7L388.6 349.6L390.6 347.6L392.6 345.6L394.6 343.6L396.6 341.8L398.6 340.1L400.6 338.5L402.6 336.8L404.6 335.2L406.6 333.7L408.6 332.4L410.6 331.1L412.6 329.9L414.6 328.7L416.6 327.6L418.6 326.6L420.6 325.7L422.6 325L424.6 324.3L426.6 323.7L428.6 323.2L430.6 322.7L432.6 322.3L434.6 321.9L436.6 321.5L438.6 321.3L440.6 321.1L442.6 321L444.6 321L446.6 321.1L448.6 321.2L450.6 321.3L452.6 321.5L454.6 321.8L456.6 322.2L458.6 322.6L460.6 323L462.6 323.6L464.6 324.2L466.6 324.8L468.6 325.5L470.6 326.2L472.6 327L474.6 327.8L476.6 328.7L478.6 329.6L480.6 330.5L482.6 331.4L484.6 332.3L486.6 333.2L488.6 334.2" stroke="#000" stroke-width=".95" fill="none"/>
<path d="M357.3 378.4L363.8 384.3" stroke="#000" stroke-width="1.1" fill="none"/>
<path d="M367.6 344.7L386.7 376.5" stroke="#111" stroke-width="1.0" fill="none"/>
<path d="M390 328L392.2 365" stroke="#233d2d" stroke-width="1.2" fill="none"/>
<path d="M414 316.5L408 340" stroke="#111" stroke-width="1.1" fill="none"/>
<path d="M433 312.6L422 339" stroke="#111" stroke-width="1.0" fill="none"/>
<path d="M448.5 308.2L432.6 333.9" stroke="#111" stroke-width="1.0" fill="none"/>
<path d="M463.4 312.6L449.2 330.5" stroke="#111" stroke-width="1.0" fill="none"/>
<path d="M480.9 320.4L472.2 329.6" stroke="#111" stroke-width="1.0" fill="none"/>
<path d="M379.7 360.6l-2.2 -3.7M382.8 357.1l-2.2 -3.7M385.9 353.7l-2.2 -3.7M388.7 350.8l-2.2 -3.7" stroke="#111" stroke-width=".9" fill="none"/>
<path d="M396.9 342.7l-.9 -1.8M401.9 338.5l-.9 -1.8M405.9 335.4l-.9 -1.8" stroke="#111" stroke-width=".7" fill="none"/>
<text transform="translate(383.6 366.2) rotate(62)" class="t" font-size="3" fill="#555">0.1 mm</text>
<path d="M391 360L414.4 340.4" stroke="#000" stroke-width="1" fill="none"/>
<path d="M387 359.2L394.3 349.4L409.5 333.5" stroke="#0a8a3a" stroke-width="1" fill="none"/>
<path d="M387.9 343.7L407.3 309.9" stroke="#ee1450" stroke-width="1" fill="none"/>
<path d="M422.8 313.5L427.1 321.2" stroke="#7d7a25" stroke-width="1.4" stroke-dasharray="1.5 .5" fill="none"/>
<circle cx="387" cy="359.2" r="2.2" fill="#12a84a"/>
<circle cx="394.3" cy="349.4" r="2.4" fill="#12a84a"/>
<circle cx="405.1" cy="345.8" r="2.2" fill="#12a84a"/>
<circle cx="390.9" cy="358.2" r="1.8" fill="#000"/>
<circle cx="408.2" cy="340.3" r="2.0" fill="#000"/>
<circle cx="409.2" cy="345.5" r="2.0" fill="#000"/>
<circle cx="387.9" cy="343.7" r="1.2" fill="#f0144e"/>
<circle cx="396.4" cy="338.1" r="2.0" fill="#f0144e"/>
<circle cx="399.2" cy="336.8" r="2.0" fill="#f0144e"/>
<circle cx="409.2" cy="318.7" r="1.9" fill="#f0144e"/>
</g>
<text x="365.7" y="307.8" class="t" font-size="10.4" fill="#000" stroke="#000" stroke-width=".08">T<tspan font-size="7.6" dy="2.1" font-weight="bold">C</tspan><tspan dy="-2.1">(°K)</tspan></text>
<text x="351.6" y="340.2" class="t" font-size="6.1" fill="#000" font-weight="bold" stroke="#000" stroke-width=".15">10,000</text>
<text x="381.8" y="325" class="t" font-size="7.4" fill="#000" stroke="#000" stroke-width=".15">6000</text>
<text x="405.2" y="313.8" class="t" font-size="7.4" fill="#000" stroke="#000" stroke-width=".15">4000-</text>
<text x="423.5" y="309.2" class="t" font-size="7.4" fill="#000" stroke="#000" stroke-width=".15">3000</text>
<text x="440.8" y="307.5" class="t" font-size="7.4" fill="#000" stroke="#000" stroke-width=".15">2500</text>
<text x="444" y="338.9" class="t" font-size="7.4" fill="#000" stroke="#000" stroke-width=".15">2000</text>
<text x="465.6" y="338.9" class="t" font-size="7.4" fill="#000" stroke="#000" stroke-width=".15">1500</text>
<text x="349.3" y="378.3" class="t" font-size="10.5" fill="#000" font-weight="bold" stroke="#000" stroke-width=".25">∞</text>
<text x="454.6" y="292.5" class="t" font-size="10.1" fill="#1c1cf5" stroke="#1c1cf5" stroke-width=".2">580</text>
<text x="491.7" y="329.8" class="t" font-size="10.1" fill="#1c1cf5" stroke="#1c1cf5" stroke-width=".2">600</text>
<text x="511.9" y="350.1" class="t" font-size="10.1" fill="#1c1cf5" stroke="#1c1cf5" stroke-width=".2">620</text>
<text x="528.5" y="372.9" class="t" font-size="10.1" fill="#1c1cf5" stroke="#1c1cf5" stroke-width=".2">700</text>
<text x="288" y="370" class="t" font-size="10.1" fill="#1c1cf5" stroke="#1c1cf5" stroke-width=".2">490</text>
<text x="293.9" y="260.2" class="t" font-size="16" fill="#111">(d)</text></svg></body></html>
